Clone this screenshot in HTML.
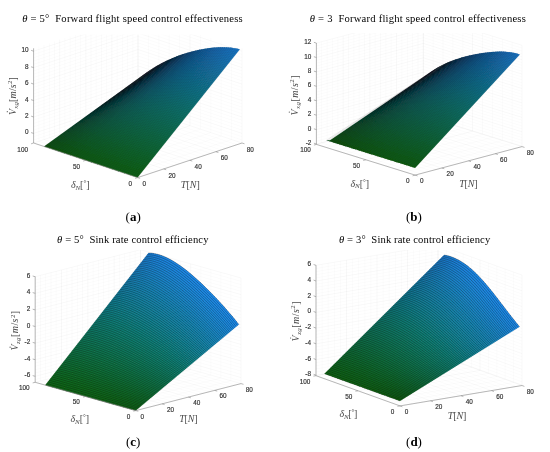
<!DOCTYPE html>
<html><head><meta charset="utf-8"><title>Figure</title>
<style>
html,body{margin:0;padding:0;background:#fff}
svg{display:block}
.tk text{font-family:"Liberation Sans",Arial,sans-serif;font-size:7.8px;fill:#333;stroke:#333;stroke-width:.2px}
.lb{font-family:"Liberation Serif","DejaVu Serif",serif;font-size:10px;fill:#4a4a4a}
.it{font-style:italic}
.ti{font-family:"Liberation Serif","DejaVu Serif",serif;font-size:10.6px;fill:#000}
.cp{font-family:"Liberation Serif","DejaVu Serif",serif;font-size:13px;fill:#000}
</style></head><body>
<svg width="550" height="452" viewBox="0 0 550 452">
<defs><filter id="bl" x="-5%" y="-5%" width="110%" height="110%"><feGaussianBlur stdDeviation="0.35"/></filter></defs>
<rect width="550" height="452" fill="#fff"/>
<clipPath id="cla"><rect x="3.1" y="34.5" width="269.4" height="300"/></clipPath>
<g clip-path="url(#cla)" fill="none"><path d="M33.6 140L138 105.4L242 140M33.6 136.7L138 102.1L242 136.7M33.6 130.1L138 95.5L242 130.1M33.6 126.8L138 92.2L242 126.8M33.6 123.5L138 88.9L242 123.5M33.6 120.2L138 85.6L242 120.2M33.6 113.7L138 79.1L242 113.7M33.6 110.4L138 75.8L242 110.4M33.6 107.1L138 72.5L242 107.1M33.6 103.8L138 69.2L242 103.8M33.6 97.2L138 62.6L242 97.2M33.6 93.9L138 59.3L242 93.9M33.6 90.6L138 56L242 90.6M33.6 87.3L138 52.7L242 87.3M33.6 80.8L138 46.2L242 80.8M33.6 77.5L138 42.9L242 77.5M33.6 74.2L138 39.6L242 74.2M33.6 70.9L138 36.3L242 70.9M33.6 64.3L138 29.7L242 64.3M33.6 61L138 26.4L242 61M33.6 57.7L138 23.1L242 57.7M33.6 54.4L138 19.8L242 54.4M38.8 46.6L38.8 141.3L142.8 175.9M44 44.8L44 139.5L148 174.1M49.3 43.1L49.3 137.8L153.3 172.4M54.5 41.4L54.5 136.1L158.5 170.7M64.9 37.9L64.9 132.6L168.9 167.2M70.1 36.2L70.1 130.9L174.1 165.5M75.4 34.5L75.4 129.2L179.4 163.8M80.6 32.7L80.6 127.4L184.6 162M91 29.3L91 124L195 158.6M96.2 27.5L96.2 122.2L200.2 156.8M101.5 25.8L101.5 120.5L205.5 155.1M106.7 24.1L106.7 118.8L210.7 153.4M117.1 20.6L117.1 115.3L221.1 149.9M122.3 18.9L122.3 113.6L226.3 148.2M127.6 17.2L127.6 111.9L231.6 146.5M132.8 15.4L132.8 110.1L236.8 144.7M231.6 44.8L231.6 139.5L127.2 174.1M221.2 41.4L221.2 136.1L116.8 170.7M210.8 37.9L210.8 132.6L106.4 167.2M200.4 34.5L200.4 129.2L96 163.8M179.6 27.5L179.6 122.2L75.2 156.8M169.2 24.1L169.2 118.8L64.8 153.4M158.8 20.6L158.8 115.3L54.4 149.9M148.4 17.2L148.4 111.9L44 146.5" stroke="#000" stroke-opacity=".03" stroke-width=".5"/><path d="M33.6 133.4L138 98.8L242 133.4M33.6 117L138 82.4L242 117M33.6 100.5L138 65.9L242 100.5M33.6 84.1L138 49.5L242 84.1M33.6 67.6L138 33L242 67.6M33.6 51.2L138 16.6L242 51.2M33.6 48.3L33.6 143L137.6 177.6M59.7 39.6L59.7 134.3L163.7 168.9M85.8 31L85.8 125.7L189.8 160.3M111.9 22.4L111.9 117.1L215.9 151.7M138 13.7L138 108.4L242 143M242 48.3L242 143L137.6 177.6M190 31L190 125.7L85.6 160.3M138 13.7L138 108.4L33.6 143" stroke="#000" stroke-opacity=".055" stroke-width=".5"/></g>
<defs><linearGradient id="ga0" gradientUnits="userSpaceOnUse" x1="136.6" y1="177.3" x2="238.9" y2="49"><stop offset="0" stop-color="#105e13"/><stop offset="0.125" stop-color="#106228"/><stop offset="0.25" stop-color="#10673e"/><stop offset="0.375" stop-color="#106b54"/><stop offset="0.5" stop-color="#107068"/><stop offset="0.625" stop-color="#127180"/><stop offset="0.75" stop-color="#147196"/><stop offset="0.875" stop-color="#1772ad"/><stop offset="1" stop-color="#1a73c4"/></linearGradient><linearGradient id="ga1" gradientUnits="userSpaceOnUse" x1="134.5" y1="176.6" x2="236.8" y2="48.6"><stop offset="0" stop-color="#105e13"/><stop offset="0.125" stop-color="#106228"/><stop offset="0.25" stop-color="#10663d"/><stop offset="0.375" stop-color="#106b53"/><stop offset="0.5" stop-color="#106f68"/><stop offset="0.625" stop-color="#12707f"/><stop offset="0.75" stop-color="#147095"/><stop offset="0.875" stop-color="#1771ab"/><stop offset="1" stop-color="#1972c2"/></linearGradient><linearGradient id="ga2" gradientUnits="userSpaceOnUse" x1="132.4" y1="175.9" x2="234.7" y2="48.2"><stop offset="0" stop-color="#105e13"/><stop offset="0.125" stop-color="#106228"/><stop offset="0.25" stop-color="#10663d"/><stop offset="0.375" stop-color="#106a53"/><stop offset="0.5" stop-color="#106f68"/><stop offset="0.625" stop-color="#12707e"/><stop offset="0.75" stop-color="#147094"/><stop offset="0.875" stop-color="#1770aa"/><stop offset="1" stop-color="#1971c0"/></linearGradient><linearGradient id="ga3" gradientUnits="userSpaceOnUse" x1="130.3" y1="175.2" x2="232.6" y2="47.9"><stop offset="0" stop-color="#105e13"/><stop offset="0.125" stop-color="#106228"/><stop offset="0.25" stop-color="#10663d"/><stop offset="0.375" stop-color="#106a53"/><stop offset="0.5" stop-color="#0f6e67"/><stop offset="0.625" stop-color="#126f7d"/><stop offset="0.75" stop-color="#146f93"/><stop offset="0.875" stop-color="#176fa8"/><stop offset="1" stop-color="#196fbd"/></linearGradient><linearGradient id="ga4" gradientUnits="userSpaceOnUse" x1="128.2" y1="174.5" x2="230.6" y2="47.6"><stop offset="0" stop-color="#105e13"/><stop offset="0.125" stop-color="#106228"/><stop offset="0.25" stop-color="#10663d"/><stop offset="0.375" stop-color="#106a52"/><stop offset="0.5" stop-color="#0f6d67"/><stop offset="0.625" stop-color="#126e7d"/><stop offset="0.75" stop-color="#146e92"/><stop offset="0.875" stop-color="#176ea7"/><stop offset="1" stop-color="#196ebb"/></linearGradient><linearGradient id="ga5" gradientUnits="userSpaceOnUse" x1="126.2" y1="173.8" x2="228.5" y2="47.5"><stop offset="0" stop-color="#105d13"/><stop offset="0.125" stop-color="#106228"/><stop offset="0.25" stop-color="#10653d"/><stop offset="0.375" stop-color="#0f6952"/><stop offset="0.5" stop-color="#0f6d66"/><stop offset="0.625" stop-color="#116d7c"/><stop offset="0.75" stop-color="#146d90"/><stop offset="0.875" stop-color="#166ca5"/><stop offset="1" stop-color="#186db9"/></linearGradient><linearGradient id="ga6" gradientUnits="userSpaceOnUse" x1="124.1" y1="173.1" x2="226.4" y2="47.3"><stop offset="0" stop-color="#105d13"/><stop offset="0.125" stop-color="#106128"/><stop offset="0.25" stop-color="#10653d"/><stop offset="0.375" stop-color="#0f6952"/><stop offset="0.5" stop-color="#0f6c66"/><stop offset="0.625" stop-color="#116d7b"/><stop offset="0.75" stop-color="#136c8f"/><stop offset="0.875" stop-color="#166ba3"/><stop offset="1" stop-color="#186bb7"/></linearGradient><linearGradient id="ga7" gradientUnits="userSpaceOnUse" x1="122" y1="172.4" x2="224.3" y2="47.2"><stop offset="0" stop-color="#105d13"/><stop offset="0.125" stop-color="#106128"/><stop offset="0.25" stop-color="#10653d"/><stop offset="0.375" stop-color="#0f6851"/><stop offset="0.5" stop-color="#0f6c65"/><stop offset="0.625" stop-color="#116c7a"/><stop offset="0.75" stop-color="#136b8e"/><stop offset="0.875" stop-color="#166aa1"/><stop offset="1" stop-color="#186ab4"/></linearGradient><linearGradient id="ga8" gradientUnits="userSpaceOnUse" x1="119.9" y1="171.7" x2="222.2" y2="47.2"><stop offset="0" stop-color="#105d13"/><stop offset="0.125" stop-color="#106128"/><stop offset="0.25" stop-color="#0f653c"/><stop offset="0.375" stop-color="#0f6851"/><stop offset="0.5" stop-color="#0f6b64"/><stop offset="0.625" stop-color="#116b79"/><stop offset="0.75" stop-color="#136a8d"/><stop offset="0.875" stop-color="#1669a0"/><stop offset="1" stop-color="#1768b1"/></linearGradient><linearGradient id="ga9" gradientUnits="userSpaceOnUse" x1="117.8" y1="171" x2="220.2" y2="47.2"><stop offset="0" stop-color="#105d13"/><stop offset="0.125" stop-color="#106128"/><stop offset="0.25" stop-color="#0f643c"/><stop offset="0.375" stop-color="#0f6851"/><stop offset="0.5" stop-color="#0f6b64"/><stop offset="0.625" stop-color="#116a78"/><stop offset="0.75" stop-color="#13698b"/><stop offset="0.875" stop-color="#15689e"/><stop offset="1" stop-color="#1767af"/></linearGradient><linearGradient id="ga10" gradientUnits="userSpaceOnUse" x1="115.8" y1="170.3" x2="218.1" y2="47.3"><stop offset="0" stop-color="#105d13"/><stop offset="0.125" stop-color="#106128"/><stop offset="0.25" stop-color="#0f643c"/><stop offset="0.375" stop-color="#0f6750"/><stop offset="0.5" stop-color="#0f6a63"/><stop offset="0.625" stop-color="#116a77"/><stop offset="0.75" stop-color="#13688a"/><stop offset="0.875" stop-color="#15669c"/><stop offset="1" stop-color="#1765ac"/></linearGradient><linearGradient id="ga11" gradientUnits="userSpaceOnUse" x1="113.7" y1="169.6" x2="216" y2="47.4"><stop offset="0" stop-color="#105d13"/><stop offset="0.125" stop-color="#106028"/><stop offset="0.25" stop-color="#0f643c"/><stop offset="0.375" stop-color="#0f6750"/><stop offset="0.5" stop-color="#0f6963"/><stop offset="0.625" stop-color="#116976"/><stop offset="0.75" stop-color="#126788"/><stop offset="0.875" stop-color="#15659a"/><stop offset="1" stop-color="#1663a9"/></linearGradient><linearGradient id="ga12" gradientUnits="userSpaceOnUse" x1="111.6" y1="168.9" x2="213.9" y2="47.6"><stop offset="0" stop-color="#105d13"/><stop offset="0.125" stop-color="#0f6028"/><stop offset="0.25" stop-color="#0f633c"/><stop offset="0.375" stop-color="#0f6650"/><stop offset="0.5" stop-color="#0f6962"/><stop offset="0.625" stop-color="#116876"/><stop offset="0.75" stop-color="#126687"/><stop offset="0.875" stop-color="#146497"/><stop offset="1" stop-color="#1661a6"/></linearGradient><linearGradient id="ga13" gradientUnits="userSpaceOnUse" x1="109.5" y1="168.3" x2="211.8" y2="47.8"><stop offset="0" stop-color="#105c13"/><stop offset="0.125" stop-color="#0f6027"/><stop offset="0.25" stop-color="#0f633b"/><stop offset="0.375" stop-color="#0f664f"/><stop offset="0.5" stop-color="#0f6861"/><stop offset="0.625" stop-color="#106775"/><stop offset="0.75" stop-color="#126585"/><stop offset="0.875" stop-color="#146295"/><stop offset="1" stop-color="#1560a3"/></linearGradient><linearGradient id="ga14" gradientUnits="userSpaceOnUse" x1="107.4" y1="167.6" x2="209.8" y2="48"><stop offset="0" stop-color="#105c13"/><stop offset="0.125" stop-color="#0f6027"/><stop offset="0.25" stop-color="#0f633b"/><stop offset="0.375" stop-color="#0f654f"/><stop offset="0.5" stop-color="#0f6761"/><stop offset="0.625" stop-color="#106673"/><stop offset="0.75" stop-color="#126484"/><stop offset="0.875" stop-color="#146193"/><stop offset="1" stop-color="#155ea0"/></linearGradient><linearGradient id="ga15" gradientUnits="userSpaceOnUse" x1="105.4" y1="166.9" x2="207.7" y2="48.3"><stop offset="0" stop-color="#105c13"/><stop offset="0.125" stop-color="#0f5f27"/><stop offset="0.25" stop-color="#0f623b"/><stop offset="0.375" stop-color="#0f654e"/><stop offset="0.5" stop-color="#0e6760"/><stop offset="0.625" stop-color="#106572"/><stop offset="0.75" stop-color="#126282"/><stop offset="0.875" stop-color="#145f91"/><stop offset="1" stop-color="#145c9c"/></linearGradient><linearGradient id="ga16" gradientUnits="userSpaceOnUse" x1="103.3" y1="166.2" x2="205.6" y2="48.6"><stop offset="0" stop-color="#105c13"/><stop offset="0.125" stop-color="#0f5f27"/><stop offset="0.25" stop-color="#0f623b"/><stop offset="0.375" stop-color="#0f644e"/><stop offset="0.5" stop-color="#0e665f"/><stop offset="0.625" stop-color="#106471"/><stop offset="0.75" stop-color="#116181"/><stop offset="0.875" stop-color="#135d8e"/><stop offset="1" stop-color="#145a99"/></linearGradient><linearGradient id="ga17" gradientUnits="userSpaceOnUse" x1="101.2" y1="165.5" x2="203.5" y2="49"><stop offset="0" stop-color="#105c13"/><stop offset="0.125" stop-color="#0f5f27"/><stop offset="0.25" stop-color="#0f613a"/><stop offset="0.375" stop-color="#0f644e"/><stop offset="0.5" stop-color="#0e655f"/><stop offset="0.625" stop-color="#106370"/><stop offset="0.75" stop-color="#11607f"/><stop offset="0.875" stop-color="#135c8c"/><stop offset="1" stop-color="#145895"/></linearGradient><linearGradient id="ga18" gradientUnits="userSpaceOnUse" x1="99.1" y1="164.8" x2="201.4" y2="49.3"><stop offset="0" stop-color="#105b13"/><stop offset="0.125" stop-color="#0f5e27"/><stop offset="0.25" stop-color="#0f613a"/><stop offset="0.375" stop-color="#0f634d"/><stop offset="0.5" stop-color="#0e645e"/><stop offset="0.625" stop-color="#10626f"/><stop offset="0.75" stop-color="#115e7d"/><stop offset="0.875" stop-color="#135a89"/><stop offset="1" stop-color="#135591"/></linearGradient><linearGradient id="ga19" gradientUnits="userSpaceOnUse" x1="97" y1="164.1" x2="199.4" y2="49.8"><stop offset="0" stop-color="#0f5b13"/><stop offset="0.125" stop-color="#0f5e27"/><stop offset="0.25" stop-color="#0f613a"/><stop offset="0.375" stop-color="#0e624d"/><stop offset="0.5" stop-color="#0e635d"/><stop offset="0.625" stop-color="#0f616e"/><stop offset="0.75" stop-color="#115d7b"/><stop offset="0.875" stop-color="#125886"/><stop offset="1" stop-color="#13538d"/></linearGradient><linearGradient id="ga20" gradientUnits="userSpaceOnUse" x1="95" y1="163.4" x2="197.3" y2="50.2"><stop offset="0" stop-color="#0f5b13"/><stop offset="0.125" stop-color="#0f5e27"/><stop offset="0.25" stop-color="#0f603a"/><stop offset="0.375" stop-color="#0e624c"/><stop offset="0.5" stop-color="#0e635c"/><stop offset="0.625" stop-color="#0f606c"/><stop offset="0.75" stop-color="#105b79"/><stop offset="0.875" stop-color="#125683"/><stop offset="1" stop-color="#125189"/></linearGradient><linearGradient id="ga21" gradientUnits="userSpaceOnUse" x1="92.9" y1="162.7" x2="195.2" y2="50.7"><stop offset="0" stop-color="#0f5b12"/><stop offset="0.125" stop-color="#0f5d26"/><stop offset="0.25" stop-color="#0f6039"/><stop offset="0.375" stop-color="#0e614c"/><stop offset="0.5" stop-color="#0e625b"/><stop offset="0.625" stop-color="#0f5f6b"/><stop offset="0.75" stop-color="#105a77"/><stop offset="0.875" stop-color="#115480"/><stop offset="1" stop-color="#114e85"/></linearGradient><linearGradient id="ga22" gradientUnits="userSpaceOnUse" x1="90.8" y1="162" x2="193.1" y2="51.2"><stop offset="0" stop-color="#0f5b12"/><stop offset="0.125" stop-color="#0f5d26"/><stop offset="0.25" stop-color="#0f5f39"/><stop offset="0.375" stop-color="#0e604b"/><stop offset="0.5" stop-color="#0e615b"/><stop offset="0.625" stop-color="#0f5d6a"/><stop offset="0.75" stop-color="#105875"/><stop offset="0.875" stop-color="#11527d"/><stop offset="1" stop-color="#114b80"/></linearGradient><linearGradient id="ga23" gradientUnits="userSpaceOnUse" x1="88.7" y1="161.3" x2="191" y2="51.7"><stop offset="0" stop-color="#0f5a12"/><stop offset="0.125" stop-color="#0f5d26"/><stop offset="0.25" stop-color="#0f5f39"/><stop offset="0.375" stop-color="#0e604b"/><stop offset="0.5" stop-color="#0d605a"/><stop offset="0.625" stop-color="#0f5c68"/><stop offset="0.75" stop-color="#0f5672"/><stop offset="0.875" stop-color="#105079"/><stop offset="1" stop-color="#10487b"/></linearGradient><linearGradient id="ga24" gradientUnits="userSpaceOnUse" x1="86.6" y1="160.6" x2="189" y2="52.3"><stop offset="0" stop-color="#0f5a12"/><stop offset="0.125" stop-color="#0f5c26"/><stop offset="0.25" stop-color="#0e5e38"/><stop offset="0.375" stop-color="#0e5f4a"/><stop offset="0.5" stop-color="#0d5f59"/><stop offset="0.625" stop-color="#0e5a66"/><stop offset="0.75" stop-color="#0f5470"/><stop offset="0.875" stop-color="#104d75"/><stop offset="1" stop-color="#0f4576"/></linearGradient><linearGradient id="ga25" gradientUnits="userSpaceOnUse" x1="84.6" y1="160" x2="186.9" y2="52.9"><stop offset="0" stop-color="#0f5a12"/><stop offset="0.125" stop-color="#0f5c26"/><stop offset="0.25" stop-color="#0e5d38"/><stop offset="0.375" stop-color="#0e5e49"/><stop offset="0.5" stop-color="#0d5d57"/><stop offset="0.625" stop-color="#0e5965"/><stop offset="0.75" stop-color="#0f526d"/><stop offset="0.875" stop-color="#0f4b71"/><stop offset="1" stop-color="#0f4270"/></linearGradient><linearGradient id="ga26" gradientUnits="userSpaceOnUse" x1="82.5" y1="159.3" x2="184.8" y2="53.6"><stop offset="0" stop-color="#0f5912"/><stop offset="0.125" stop-color="#0f5c26"/><stop offset="0.25" stop-color="#0e5d38"/><stop offset="0.375" stop-color="#0e5d49"/><stop offset="0.5" stop-color="#0d5c56"/><stop offset="0.625" stop-color="#0e5763"/><stop offset="0.75" stop-color="#0e506a"/><stop offset="0.875" stop-color="#0f486d"/><stop offset="1" stop-color="#0e3e6a"/></linearGradient><linearGradient id="ga27" gradientUnits="userSpaceOnUse" x1="80.4" y1="158.6" x2="182.7" y2="54.3"><stop offset="0" stop-color="#0f5912"/><stop offset="0.125" stop-color="#0f5b25"/><stop offset="0.25" stop-color="#0e5c37"/><stop offset="0.375" stop-color="#0e5c48"/><stop offset="0.5" stop-color="#0d5b55"/><stop offset="0.625" stop-color="#0e5561"/><stop offset="0.75" stop-color="#0e4e67"/><stop offset="0.875" stop-color="#0e4569"/><stop offset="1" stop-color="#0d3b64"/></linearGradient><linearGradient id="ga28" gradientUnits="userSpaceOnUse" x1="78.3" y1="157.9" x2="180.6" y2="55"><stop offset="0" stop-color="#0f5912"/><stop offset="0.125" stop-color="#0f5b25"/><stop offset="0.25" stop-color="#0e5b37"/><stop offset="0.375" stop-color="#0d5b47"/><stop offset="0.5" stop-color="#0d5954"/><stop offset="0.625" stop-color="#0d545f"/><stop offset="0.75" stop-color="#0e4b64"/><stop offset="0.875" stop-color="#0d4264"/><stop offset="1" stop-color="#0c375d"/></linearGradient><linearGradient id="ga29" gradientUnits="userSpaceOnUse" x1="76.2" y1="157.2" x2="178.6" y2="55.7"><stop offset="0" stop-color="#0f5812"/><stop offset="0.125" stop-color="#0f5a25"/><stop offset="0.25" stop-color="#0e5b36"/><stop offset="0.375" stop-color="#0d5a46"/><stop offset="0.5" stop-color="#0c5852"/><stop offset="0.625" stop-color="#0d515c"/><stop offset="0.75" stop-color="#0d4960"/><stop offset="0.875" stop-color="#0d3e5e"/><stop offset="1" stop-color="#0b3356"/></linearGradient><linearGradient id="ga30" gradientUnits="userSpaceOnUse" x1="74.2" y1="156.5" x2="176.5" y2="56.5"><stop offset="0" stop-color="#0f5812"/><stop offset="0.125" stop-color="#0e5a25"/><stop offset="0.25" stop-color="#0e5a36"/><stop offset="0.375" stop-color="#0d5945"/><stop offset="0.5" stop-color="#0c5651"/><stop offset="0.625" stop-color="#0d4f5a"/><stop offset="0.75" stop-color="#0d465c"/><stop offset="0.875" stop-color="#0c3a59"/><stop offset="1" stop-color="#0a2e4f"/></linearGradient><linearGradient id="ga31" gradientUnits="userSpaceOnUse" x1="72.1" y1="155.8" x2="174.4" y2="57.3"><stop offset="0" stop-color="#0f5812"/><stop offset="0.125" stop-color="#0e5925"/><stop offset="0.25" stop-color="#0e5935"/><stop offset="0.375" stop-color="#0d5844"/><stop offset="0.5" stop-color="#0c554f"/><stop offset="0.625" stop-color="#0c4d57"/><stop offset="0.75" stop-color="#0c4358"/><stop offset="0.875" stop-color="#0b3753"/><stop offset="1" stop-color="#092a47"/></linearGradient><linearGradient id="ga32" gradientUnits="userSpaceOnUse" x1="70" y1="155.1" x2="172.3" y2="58.2"><stop offset="0" stop-color="#0f5712"/><stop offset="0.125" stop-color="#0e5824"/><stop offset="0.25" stop-color="#0e5835"/><stop offset="0.375" stop-color="#0d5643"/><stop offset="0.5" stop-color="#0c534d"/><stop offset="0.625" stop-color="#0c4a54"/><stop offset="0.75" stop-color="#0b3f54"/><stop offset="0.875" stop-color="#0a324d"/><stop offset="1" stop-color="#082640"/></linearGradient><linearGradient id="ga33" gradientUnits="userSpaceOnUse" x1="67.9" y1="154.4" x2="170.2" y2="59.1"><stop offset="0" stop-color="#0f5712"/><stop offset="0.125" stop-color="#0e5824"/><stop offset="0.25" stop-color="#0d5734"/><stop offset="0.375" stop-color="#0d5542"/><stop offset="0.5" stop-color="#0b514c"/><stop offset="0.625" stop-color="#0b4751"/><stop offset="0.75" stop-color="#0b3c4f"/><stop offset="0.875" stop-color="#092e46"/><stop offset="1" stop-color="#082239"/></linearGradient><linearGradient id="ga34" gradientUnits="userSpaceOnUse" x1="65.8" y1="153.7" x2="168.2" y2="60.1"><stop offset="0" stop-color="#0f5612"/><stop offset="0.125" stop-color="#0e5724"/><stop offset="0.25" stop-color="#0d5634"/><stop offset="0.375" stop-color="#0c5441"/><stop offset="0.5" stop-color="#0b4e49"/><stop offset="0.625" stop-color="#0b444e"/><stop offset="0.75" stop-color="#0a384a"/><stop offset="0.875" stop-color="#092a40"/><stop offset="1" stop-color="#071e33"/></linearGradient><linearGradient id="ga35" gradientUnits="userSpaceOnUse" x1="63.8" y1="153" x2="166.1" y2="61"><stop offset="0" stop-color="#0f5611"/><stop offset="0.125" stop-color="#0e5623"/><stop offset="0.25" stop-color="#0d5533"/><stop offset="0.375" stop-color="#0c5240"/><stop offset="0.5" stop-color="#0b4c47"/><stop offset="0.625" stop-color="#0a414a"/><stop offset="0.75" stop-color="#093444"/><stop offset="0.875" stop-color="#082639"/><stop offset="1" stop-color="#061b2e"/></linearGradient><linearGradient id="ga36" gradientUnits="userSpaceOnUse" x1="61.7" y1="152.3" x2="164" y2="62.1"><stop offset="0" stop-color="#0e5511"/><stop offset="0.125" stop-color="#0e5523"/><stop offset="0.25" stop-color="#0d5432"/><stop offset="0.375" stop-color="#0c503e"/><stop offset="0.5" stop-color="#0a4945"/><stop offset="0.625" stop-color="#0a3e46"/><stop offset="0.75" stop-color="#092f3f"/><stop offset="0.875" stop-color="#072133"/><stop offset="1" stop-color="#05192a"/></linearGradient><linearGradient id="ga37" gradientUnits="userSpaceOnUse" x1="59.6" y1="151.7" x2="161.9" y2="63.2"><stop offset="0" stop-color="#0e5511"/><stop offset="0.125" stop-color="#0e5523"/><stop offset="0.25" stop-color="#0d5332"/><stop offset="0.375" stop-color="#0c4e3d"/><stop offset="0.5" stop-color="#0a4742"/><stop offset="0.625" stop-color="#093a42"/><stop offset="0.75" stop-color="#082b39"/><stop offset="0.875" stop-color="#061e2d"/><stop offset="1" stop-color="#051727"/></linearGradient><linearGradient id="ga38" gradientUnits="userSpaceOnUse" x1="57.5" y1="151" x2="159.8" y2="64.3"><stop offset="0" stop-color="#0e5411"/><stop offset="0.125" stop-color="#0d5422"/><stop offset="0.25" stop-color="#0d5131"/><stop offset="0.375" stop-color="#0b4c3b"/><stop offset="0.5" stop-color="#0a443f"/><stop offset="0.625" stop-color="#09363d"/><stop offset="0.75" stop-color="#072733"/><stop offset="0.875" stop-color="#051b28"/><stop offset="1" stop-color="#051626"/></linearGradient><linearGradient id="ga39" gradientUnits="userSpaceOnUse" x1="55.4" y1="150.3" x2="157.8" y2="65.5"><stop offset="0" stop-color="#0e5311"/><stop offset="0.125" stop-color="#0d5322"/><stop offset="0.25" stop-color="#0c5030"/><stop offset="0.375" stop-color="#0b4a3a"/><stop offset="0.5" stop-color="#09403c"/><stop offset="0.625" stop-color="#083238"/><stop offset="0.75" stop-color="#06222e"/><stop offset="0.875" stop-color="#051825"/><stop offset="1" stop-color="#051626"/></linearGradient><linearGradient id="ga40" gradientUnits="userSpaceOnUse" x1="53.4" y1="149.6" x2="155.7" y2="66.7"><stop offset="0" stop-color="#0e5311"/><stop offset="0.125" stop-color="#0d5222"/><stop offset="0.25" stop-color="#0c4e2f"/><stop offset="0.375" stop-color="#0b4838"/><stop offset="0.5" stop-color="#093d39"/><stop offset="0.625" stop-color="#072d34"/><stop offset="0.75" stop-color="#051f28"/><stop offset="0.875" stop-color="#051723"/><stop offset="1" stop-color="#051626"/></linearGradient><linearGradient id="ga41" gradientUnits="userSpaceOnUse" x1="51.3" y1="148.9" x2="153.6" y2="67.9"><stop offset="0" stop-color="#0e5211"/><stop offset="0.125" stop-color="#0d5121"/><stop offset="0.25" stop-color="#0c4d2e"/><stop offset="0.375" stop-color="#0a4536"/><stop offset="0.5" stop-color="#083936"/><stop offset="0.625" stop-color="#07292f"/><stop offset="0.75" stop-color="#051b24"/><stop offset="0.875" stop-color="#051622"/><stop offset="1" stop-color="#051626"/></linearGradient><linearGradient id="ga42" gradientUnits="userSpaceOnUse" x1="49.2" y1="148.2" x2="151.5" y2="69.3"><stop offset="0" stop-color="#0e5111"/><stop offset="0.125" stop-color="#0d4f21"/><stop offset="0.25" stop-color="#0b4b2d"/><stop offset="0.375" stop-color="#0a4234"/><stop offset="0.5" stop-color="#083532"/><stop offset="0.625" stop-color="#06252a"/><stop offset="0.75" stop-color="#041921"/><stop offset="0.875" stop-color="#051621"/><stop offset="1" stop-color="#051626"/></linearGradient><linearGradient id="ga43" gradientUnits="userSpaceOnUse" x1="47.1" y1="147.5" x2="149.4" y2="70.6"><stop offset="0" stop-color="#0e5010"/><stop offset="0.125" stop-color="#0d4e20"/><stop offset="0.25" stop-color="#0b492c"/><stop offset="0.375" stop-color="#093f31"/><stop offset="0.5" stop-color="#07312e"/><stop offset="0.625" stop-color="#052125"/><stop offset="0.75" stop-color="#04171e"/><stop offset="0.875" stop-color="#051621"/><stop offset="1" stop-color="#051626"/></linearGradient><linearGradient id="ga44" gradientUnits="userSpaceOnUse" x1="45" y1="146.8" x2="147.4" y2="72.1"><stop offset="0" stop-color="#0d4f10"/><stop offset="0.125" stop-color="#0c4d20"/><stop offset="0.25" stop-color="#0b472a"/><stop offset="0.375" stop-color="#093c2f"/><stop offset="0.5" stop-color="#062d2a"/><stop offset="0.625" stop-color="#051d21"/><stop offset="0.75" stop-color="#04161d"/><stop offset="0.875" stop-color="#051621"/><stop offset="1" stop-color="#051626"/></linearGradient></defs>
<g filter="url(#bl)"><path d="M137.6 177.6L239.9 49.3L236.6 48.5L134.3 176.5Z" fill="url(#ga0)"/><path d="M135.5 176.9L237.8 48.8L234.5 48.2L132.2 175.8Z" fill="url(#ga1)"/><path d="M133.4 176.2L235.8 48.4L232.4 47.9L130.1 175.1Z" fill="url(#ga2)"/><path d="M131.4 175.5L233.7 48L230.3 47.6L128 174.4Z" fill="url(#ga3)"/><path d="M129.3 174.8L231.6 47.8L228.3 47.4L126 173.7Z" fill="url(#ga4)"/><path d="M127.2 174.1L229.5 47.5L226.2 47.3L123.9 173Z" fill="url(#ga5)"/><path d="M125.1 173.4L227.4 47.4L224.1 47.2L121.8 172.3Z" fill="url(#ga6)"/><path d="M123 172.8L225.4 47.3L222 47.2L119.7 171.6Z" fill="url(#ga7)"/><path d="M121 172.1L223.3 47.2L219.9 47.3L117.6 171Z" fill="url(#ga8)"/><path d="M118.9 171.4L221.2 47.2L217.9 47.3L115.6 170.3Z" fill="url(#ga9)"/><path d="M116.8 170.7L219.1 47.3L215.8 47.4L113.5 169.6Z" fill="url(#ga10)"/><path d="M114.7 170L217 47.4L213.7 47.6L111.4 168.9Z" fill="url(#ga11)"/><path d="M112.6 169.3L215 47.5L211.6 47.8L109.3 168.2Z" fill="url(#ga12)"/><path d="M110.6 168.6L212.9 47.7L209.5 48.1L107.2 167.5Z" fill="url(#ga13)"/><path d="M108.5 167.9L210.8 47.9L207.5 48.3L105.2 166.8Z" fill="url(#ga14)"/><path d="M106.4 167.2L208.7 48.2L205.4 48.7L103.1 166.1Z" fill="url(#ga15)"/><path d="M104.3 166.5L206.6 48.5L203.3 49L101 165.4Z" fill="url(#ga16)"/><path d="M102.2 165.8L204.6 48.8L201.2 49.4L98.9 164.7Z" fill="url(#ga17)"/><path d="M100.2 165.1L202.5 49.2L199.1 49.8L96.8 164Z" fill="url(#ga18)"/><path d="M98.1 164.5L200.4 49.5L197.1 50.3L94.8 163.3Z" fill="url(#ga19)"/><path d="M96 163.8L198.3 50L195 50.7L92.7 162.7Z" fill="url(#ga20)"/><path d="M93.9 163.1L196.2 50.4L192.9 51.3L90.6 162Z" fill="url(#ga21)"/><path d="M91.8 162.4L194.2 50.9L190.8 51.8L88.5 161.3Z" fill="url(#ga22)"/><path d="M89.8 161.7L192.1 51.5L188.7 52.4L86.4 160.6Z" fill="url(#ga23)"/><path d="M87.7 161L190 52L186.7 53L84.4 159.9Z" fill="url(#ga24)"/><path d="M85.6 160.3L187.9 52.6L184.6 53.7L82.3 159.2Z" fill="url(#ga25)"/><path d="M83.5 159.6L185.8 53.3L182.5 54.3L80.2 158.5Z" fill="url(#ga26)"/><path d="M81.4 158.9L183.8 53.9L180.4 55.1L78.1 157.8Z" fill="url(#ga27)"/><path d="M79.4 158.2L181.7 54.6L178.3 55.8L76 157.1Z" fill="url(#ga28)"/><path d="M77.3 157.5L179.6 55.3L176.3 56.6L74 156.4Z" fill="url(#ga29)"/><path d="M75.2 156.8L177.5 56.1L174.2 57.4L71.9 155.7Z" fill="url(#ga30)"/><path d="M73.1 156.1L175.4 56.9L172.1 58.3L69.8 155Z" fill="url(#ga31)"/><path d="M71 155.5L173.4 57.8L170 59.2L67.7 154.3Z" fill="url(#ga32)"/><path d="M69 154.8L171.3 58.7L167.9 60.2L65.6 153.7Z" fill="url(#ga33)"/><path d="M66.9 154.1L169.2 59.6L165.9 61.1L63.6 153Z" fill="url(#ga34)"/><path d="M64.8 153.4L167.1 60.5L163.8 62.2L61.5 152.3Z" fill="url(#ga35)"/><path d="M62.7 152.7L165 61.6L161.7 63.3L59.4 151.6Z" fill="url(#ga36)"/><path d="M60.6 152L163 62.6L159.6 64.4L57.3 150.9Z" fill="url(#ga37)"/><path d="M58.6 151.3L160.9 63.7L157.5 65.6L55.2 150.2Z" fill="url(#ga38)"/><path d="M56.5 150.6L158.8 64.9L155.5 66.8L53.2 149.5Z" fill="url(#ga39)"/><path d="M54.4 149.9L156.7 66.1L153.4 68.1L51.1 148.8Z" fill="url(#ga40)"/><path d="M52.3 149.2L154.6 67.3L151.3 69.4L49 148.1Z" fill="url(#ga41)"/><path d="M50.2 148.5L152.6 68.6L149.2 70.8L46.9 147.4Z" fill="url(#ga42)"/><path d="M48.2 147.8L150.5 69.9L147.1 72.2L44.8 146.7Z" fill="url(#ga43)"/><path d="M46.1 147.2L148.4 71.3L146.3 72.8L44 146.5Z" fill="url(#ga44)"/>
<path d="M137.6 177.6L44 146.5M138.9 176L135.8 175L132.6 173.9L129.5 172.9L126.4 171.9L123.3 170.8L120.2 169.8L117 168.8L113.9 167.8L110.8 166.8L107.7 165.7L104.6 164.7L101.4 163.7L98.3 162.7L95.2 161.7L92.1 160.6L89 159.6L85.8 158.6L82.7 157.6L79.6 156.6L76.5 155.6L73.4 154.6L70.2 153.6L67.1 152.6L64 151.5L60.9 150.5L57.8 149.5L54.6 148.5L51.5 147.5L48.4 146.5L45.3 145.5M140.2 174.4L137 173.4L133.9 172.3L130.8 171.3L127.7 170.3L124.6 169.3L121.4 168.3L118.3 167.3L115.2 166.3L112.1 165.2L109 164.2L105.8 163.2L102.7 162.2L99.6 161.2L96.5 160.3L93.4 159.3L90.2 158.3L87.1 157.3L84 156.3L80.9 155.3L77.8 154.3L74.6 153.3L71.5 152.4L68.4 151.4L65.3 150.4L62.2 149.4L59 148.5L55.9 147.5L52.8 146.5L49.7 145.6L46.6 144.6M141.4 172.8L138.3 171.8L135.2 170.7L132.1 169.7L129 168.7L125.8 167.7L122.7 166.7L119.6 165.7L116.5 164.7L113.4 163.7L110.2 162.8L107.1 161.8L104 160.8L100.9 159.8L97.8 158.8L94.6 157.9L91.5 156.9L88.4 155.9L85.3 155L82.2 154L79 153.1L75.9 152.1L72.8 151.2L69.7 150.2L66.6 149.3L63.4 148.3L60.3 147.4L57.2 146.5L54.1 145.5L51 144.6L47.8 143.7M142.7 171.2L139.6 170.2L136.5 169.1L133.4 168.1L130.2 167.1L127.1 166.2L124 165.2L120.9 164.2L117.8 163.2L114.6 162.2L111.5 161.3L108.4 160.3L105.3 159.3L102.2 158.4L99 157.4L95.9 156.5L92.8 155.5L89.7 154.6L86.6 153.7L83.4 152.7L80.3 151.8L77.2 150.9L74.1 150L71 149L67.8 148.1L64.7 147.2L61.6 146.3L58.5 145.4L55.4 144.5L52.2 143.7L49.1 142.8M144 169.6L140.9 168.6L137.8 167.6L134.6 166.6L131.5 165.6L128.4 164.6L125.3 163.6L122.2 162.6L119 161.7L115.9 160.7L112.8 159.8L109.7 158.8L106.6 157.9L103.4 157L100.3 156L97.2 155.1L94.1 154.2L91 153.3L87.8 152.4L84.7 151.4L81.6 150.5L78.5 149.6L75.4 148.8L72.2 147.9L69.1 147L66 146.1L62.9 145.3L59.8 144.4L56.6 143.5L53.5 142.7L50.4 141.9M145.3 168L142.2 167L139 166L135.9 165L132.8 164L129.7 163L126.6 162.1L123.4 161.1L120.3 160.2L117.2 159.2L114.1 158.3L111 157.4L107.8 156.4L104.7 155.5L101.6 154.6L98.5 153.7L95.4 152.8L92.2 151.9L89.1 151L86 150.2L82.9 149.3L79.8 148.4L76.6 147.6L73.5 146.7L70.4 145.9L67.3 145L64.2 144.2L61 143.4L57.9 142.5L54.8 141.7L51.7 140.9M146.6 166.4L143.4 165.4L140.3 164.4L137.2 163.4L134.1 162.4L131 161.5L127.8 160.5L124.7 159.6L121.6 158.6L118.5 157.7L115.4 156.8L112.2 155.9L109.1 155L106 154.1L102.9 153.2L99.8 152.3L96.6 151.5L93.5 150.6L90.4 149.7L87.3 148.9L84.2 148L81 147.2L77.9 146.4L74.8 145.5L71.7 144.7L68.6 143.9L65.4 143.1L62.3 142.3L59.2 141.5L56.1 140.8L53 140M147.8 164.8L144.7 163.8L141.6 162.8L138.5 161.8L135.4 160.8L132.2 159.9L129.1 159L126 158L122.9 157.1L119.8 156.2L116.6 155.3L113.5 154.4L110.4 153.5L107.3 152.7L104.2 151.8L101 150.9L97.9 150.1L94.8 149.3L91.7 148.4L88.6 147.6L85.4 146.8L82.3 146L79.2 145.2L76.1 144.4L73 143.6L69.8 142.8L66.7 142L63.6 141.3L60.5 140.5L57.4 139.8L54.2 139.1M149.1 163.2L146 162.2L142.9 161.2L139.8 160.2L136.6 159.3L133.5 158.3L130.4 157.4L127.3 156.5L124.2 155.6L121 154.7L117.9 153.8L114.8 153L111.7 152.1L108.6 151.2L105.4 150.4L102.3 149.6L99.2 148.7L96.1 147.9L93 147.1L89.8 146.3L86.7 145.5L83.6 144.7L80.5 144L77.4 143.2L74.2 142.4L71.1 141.7L68 141L64.9 140.2L61.8 139.5L58.6 138.9L55.5 138.2M150.4 161.6L147.3 160.6L144.1 159.6L141 158.6L137.9 157.7L134.8 156.8L131.7 155.9L128.5 155L125.4 154.1L122.3 153.2L119.2 152.3L116.1 151.5L112.9 150.6L109.8 149.8L106.7 149L103.6 148.2L100.5 147.4L97.3 146.6L94.2 145.8L91.1 145L88 144.2L84.9 143.5L81.7 142.8L78.6 142L75.5 141.3L72.4 140.6L69.3 139.9L66.1 139.2L63 138.5L59.9 137.9L56.8 137.3M151.7 160L148.5 159L145.4 158L142.3 157L139.2 156.1L136.1 155.2L132.9 154.3L129.8 153.4L126.7 152.6L123.6 151.7L120.5 150.8L117.3 150L114.2 149.2L111.1 148.4L108 147.6L104.9 146.8L101.7 146L98.6 145.2L95.5 144.5L92.4 143.7L89.3 143L86.1 142.3L83 141.5L79.9 140.8L76.8 140.2L73.7 139.5L70.5 138.8L67.4 138.2L64.3 137.5L61.2 136.9L58.1 136.3M152.9 158.3L149.8 157.4L146.7 156.4L143.6 155.5L140.5 154.5L137.3 153.6L134.2 152.8L131.1 151.9L128 151L124.9 150.2L121.7 149.4L118.6 148.5L115.5 147.7L112.4 147L109.3 146.2L106.1 145.4L103 144.6L99.9 143.9L96.8 143.2L93.7 142.4L90.5 141.7L87.4 141L84.3 140.3L81.2 139.7L78.1 139L74.9 138.4L71.8 137.7L68.7 137.1L65.6 136.5L62.5 136L59.3 135.4M154.2 156.7L151.1 155.8L148 154.8L144.9 153.9L141.7 153L138.6 152.1L135.5 151.2L132.4 150.3L129.3 149.5L126.1 148.7L123 147.9L119.9 147.1L116.8 146.3L113.7 145.5L110.5 144.8L107.4 144L104.3 143.3L101.2 142.6L98.1 141.9L94.9 141.2L91.8 140.5L88.7 139.8L85.6 139.1L82.5 138.5L79.3 137.9L76.2 137.3L73.1 136.7L70 136.1L66.9 135.5L63.7 135L60.6 134.5M155.5 155.1L152.4 154.2L149.3 153.2L146.1 152.3L143 151.4L139.9 150.5L136.8 149.6L133.7 148.8L130.5 148L127.4 147.2L124.3 146.4L121.2 145.6L118.1 144.8L114.9 144.1L111.8 143.4L108.7 142.6L105.6 141.9L102.5 141.2L99.3 140.5L96.2 139.9L93.1 139.2L90 138.6L86.9 137.9L83.7 137.3L80.6 136.7L77.5 136.2L74.4 135.6L71.3 135.1L68.1 134.5L65 134L61.9 133.6M156.8 153.5L153.7 152.6L150.5 151.6L147.4 150.7L144.3 149.8L141.2 148.9L138.1 148.1L134.9 147.3L131.8 146.5L128.7 145.7L125.6 144.9L122.5 144.1L119.3 143.4L116.2 142.7L113.1 142L110 141.2L106.9 140.6L103.7 139.9L100.6 139.2L97.5 138.6L94.4 138L91.3 137.3L88.1 136.7L85 136.2L81.9 135.6L78.8 135.1L75.7 134.5L72.5 134L69.4 133.5L66.3 133.1L63.2 132.6M158.1 151.9L154.9 151L151.8 150L148.7 149.1L145.6 148.2L142.5 147.4L139.3 146.5L136.2 145.7L133.1 144.9L130 144.2L126.9 143.4L123.7 142.7L120.6 141.9L117.5 141.2L114.4 140.5L111.3 139.9L108.1 139.2L105 138.6L101.9 137.9L98.8 137.3L95.7 136.7L92.5 136.1L89.4 135.5L86.3 135L83.2 134.5L80.1 134L76.9 133.5L73.8 133L70.7 132.5L67.6 132.1L64.5 131.7M159.3 150.3L156.2 149.4L153.1 148.4L150 147.5L146.9 146.7L143.7 145.8L140.6 145L137.5 144.2L134.4 143.4L131.3 142.7L128.1 141.9L125 141.2L121.9 140.5L118.8 139.8L115.7 139.1L112.5 138.5L109.4 137.8L106.3 137.2L103.2 136.6L100.1 136L96.9 135.4L93.8 134.9L90.7 134.3L87.6 133.8L84.5 133.3L81.3 132.8L78.2 132.4L75.1 132L72 131.5L68.9 131.2L65.7 130.8M160.6 148.7L157.5 147.8L154.4 146.8L151.3 145.9L148.1 145.1L145 144.2L141.9 143.4L138.8 142.7L135.7 141.9L132.5 141.2L129.4 140.4L126.3 139.7L123.2 139L120.1 138.4L116.9 137.7L113.8 137.1L110.7 136.5L107.6 135.9L104.5 135.3L101.3 134.7L98.2 134.2L95.1 133.6L92 133.1L88.9 132.7L85.7 132.2L82.6 131.7L79.5 131.3L76.4 130.9L73.3 130.5L70.1 130.2L67 129.9M161.9 147.1L158.8 146.2L155.7 145.2L152.5 144.4L149.4 143.5L146.3 142.7L143.2 141.9L140.1 141.1L136.9 140.4L133.8 139.6L130.7 138.9L127.6 138.3L124.5 137.6L121.3 136.9L118.2 136.3L115.1 135.7L112 135.1L108.9 134.5L105.7 134L102.6 133.4L99.5 132.9L96.4 132.4L93.3 131.9L90.1 131.5L87 131L83.9 130.6L80.8 130.2L77.7 129.9L74.5 129.6L71.4 129.2L68.3 129M163.2 145.5L160.1 144.6L156.9 143.7L153.8 142.8L150.7 141.9L147.6 141.1L144.5 140.3L141.3 139.6L138.2 138.8L135.1 138.1L132 137.5L128.9 136.8L125.7 136.1L122.6 135.5L119.5 134.9L116.4 134.3L113.3 133.8L110.1 133.2L107 132.7L103.9 132.2L100.8 131.7L97.7 131.2L94.5 130.7L91.4 130.3L88.3 129.9L85.2 129.5L82.1 129.2L78.9 128.8L75.8 128.6L72.7 128.3L69.6 128M164.5 143.9L161.3 143L158.2 142.1L155.1 141.2L152 140.4L148.9 139.6L145.7 138.8L142.6 138L139.5 137.3L136.4 136.6L133.3 136L130.1 135.3L127 134.7L123.9 134.1L120.8 133.5L117.7 132.9L114.5 132.4L111.4 131.9L108.3 131.4L105.2 130.9L102.1 130.4L98.9 130L95.8 129.5L92.7 129.1L89.6 128.8L86.5 128.4L83.3 128.1L80.2 127.8L77.1 127.6L74 127.3L70.9 127.1M165.7 142.3L162.6 141.4L159.5 140.5L156.4 139.6L153.3 138.8L150.1 138L147 137.2L143.9 136.5L140.8 135.8L137.7 135.1L134.5 134.5L131.4 133.9L128.3 133.2L125.2 132.7L122.1 132.1L118.9 131.6L115.8 131L112.7 130.5L109.6 130L106.5 129.6L103.3 129.1L100.2 128.7L97.1 128.3L94 128L90.9 127.6L87.7 127.3L84.6 127L81.5 126.8L78.4 126.6L75.3 126.4L72.1 126.2M167 140.7L163.9 139.8L160.8 138.9L157.7 138L154.5 137.2L151.4 136.4L148.3 135.7L145.2 135L142.1 134.3L138.9 133.6L135.8 133L132.7 132.4L129.6 131.8L126.5 131.2L123.3 130.7L120.2 130.2L117.1 129.7L114 129.2L110.9 128.7L107.7 128.3L104.6 127.9L101.5 127.5L98.4 127.1L95.3 126.8L92.1 126.5L89 126.2L85.9 126L82.8 125.7L79.7 125.6L76.5 125.4L73.4 125.3M168.3 139.1L165.2 138.2L162.1 137.3L158.9 136.4L155.8 135.6L152.7 134.9L149.6 134.1L146.5 133.4L143.3 132.8L140.2 132.1L137.1 131.5L134 130.9L130.9 130.3L127.7 129.8L124.6 129.3L121.5 128.8L118.4 128.3L115.3 127.8L112.1 127.4L109 127L105.9 126.6L102.8 126.3L99.7 125.9L96.5 125.6L93.4 125.3L90.3 125.1L87.2 124.9L84.1 124.7L80.9 124.6L77.8 124.4L74.7 124.4M169.6 137.5L166.5 136.6L163.3 135.7L160.2 134.8L157.1 134.1L154 133.3L150.9 132.6L147.7 131.9L144.6 131.2L141.5 130.6L138.4 130L135.3 129.4L132.1 128.9L129 128.4L125.9 127.9L122.8 127.4L119.7 126.9L116.5 126.5L113.4 126.1L110.3 125.7L107.2 125.4L104.1 125L100.9 124.7L97.8 124.5L94.7 124.2L91.6 124L88.5 123.8L85.3 123.7L82.2 123.6L79.1 123.5L76 123.4M170.9 135.9L167.7 135L164.6 134.1L161.5 133.3L158.4 132.5L155.3 131.7L152.1 131L149 130.4L145.9 129.7L142.8 129.1L139.7 128.5L136.5 128L133.4 127.4L130.3 126.9L127.2 126.5L124.1 126L120.9 125.6L117.8 125.2L114.7 124.8L111.6 124.4L108.5 124.1L105.3 123.8L102.2 123.5L99.1 123.3L96 123.1L92.9 122.9L89.7 122.7L86.6 122.6L83.5 122.6L80.4 122.5L77.3 122.5M172.1 134.3L169 133.4L165.9 132.5L162.8 131.7L159.7 130.9L156.5 130.2L153.4 129.5L150.3 128.8L147.2 128.2L144.1 127.6L140.9 127L137.8 126.5L134.7 126L131.6 125.5L128.5 125.1L125.3 124.6L122.2 124.2L119.1 123.8L116 123.5L112.9 123.1L109.7 122.8L106.6 122.6L103.5 122.3L100.4 122.1L97.3 121.9L94.1 121.8L91 121.7L87.9 121.6L84.8 121.6L81.7 121.6L78.5 121.6M173.4 132.7L170.3 131.8L167.2 130.9L164 130.1L160.9 129.3L157.8 128.6L154.7 127.9L151.6 127.3L148.4 126.7L145.3 126.1L142.2 125.6L139.1 125L136 124.5L132.8 124.1L129.7 123.7L126.6 123.2L123.5 122.9L120.4 122.5L117.2 122.2L114.1 121.9L111 121.6L107.9 121.3L104.8 121.1L101.6 120.9L98.5 120.8L95.4 120.7L92.3 120.6L89.2 120.6L86 120.6L82.9 120.6L79.8 120.7M174.7 131.1L171.6 130.2L168.4 129.3L165.3 128.5L162.2 127.7L159.1 127L156 126.4L152.8 125.7L149.7 125.1L146.6 124.6L143.5 124.1L140.4 123.6L137.2 123.1L134.1 122.7L131 122.2L127.9 121.9L124.8 121.5L121.6 121.2L118.5 120.9L115.4 120.6L112.3 120.3L109.2 120.1L106 119.9L102.9 119.8L99.8 119.7L96.7 119.6L93.6 119.5L90.4 119.5L87.3 119.6L84.2 119.6L81.1 119.8M176 129.5L172.8 128.6L169.7 127.7L166.6 126.9L163.5 126.2L160.4 125.5L157.2 124.8L154.1 124.2L151 123.6L147.9 123.1L144.8 122.6L141.6 122.1L138.5 121.6L135.4 121.2L132.3 120.8L129.2 120.5L126 120.1L122.9 119.8L119.8 119.5L116.7 119.3L113.6 119.1L110.4 118.9L107.3 118.7L104.2 118.6L101.1 118.5L98 118.5L94.8 118.5L91.7 118.5L88.6 118.6L85.5 118.7L82.4 118.8M177.2 127.9L174.1 127L171 126.1L167.9 125.3L164.8 124.6L161.6 123.9L158.5 123.3L155.4 122.7L152.3 122.1L149.2 121.6L146 121.1L142.9 120.6L139.8 120.2L136.7 119.8L133.6 119.4L130.4 119.1L127.3 118.8L124.2 118.5L121.1 118.2L118 118L114.8 117.8L111.7 117.6L108.6 117.5L105.5 117.4L102.4 117.4L99.2 117.4L96.1 117.4L93 117.4L89.9 117.6L86.8 117.7L83.6 117.9M178.5 126.3L175.4 125.4L172.3 124.5L169.2 123.7L166 123L162.9 122.3L159.8 121.7L156.7 121.1L153.6 120.6L150.4 120.1L147.3 119.6L144.2 119.2L141.1 118.7L138 118.4L134.8 118L131.7 117.7L128.6 117.4L125.5 117.1L122.4 116.9L119.2 116.7L116.1 116.6L113 116.4L109.9 116.3L106.8 116.3L103.6 116.2L100.5 116.3L97.4 116.3L94.3 116.4L91.2 116.6L88 116.8L84.9 117M179.8 124.7L176.7 123.8L173.6 122.9L170.4 122.2L167.3 121.4L164.2 120.8L161.1 120.2L158 119.6L154.8 119.1L151.7 118.6L148.6 118.1L145.5 117.7L142.4 117.3L139.2 116.9L136.1 116.6L133 116.3L129.9 116L126.8 115.8L123.6 115.6L120.5 115.4L117.4 115.3L114.3 115.2L111.2 115.1L108 115.1L104.9 115.1L101.8 115.1L98.7 115.2L95.6 115.4L92.4 115.6L89.3 115.8L86.2 116.1M181.1 123.1L178 122.2L174.8 121.3L171.7 120.6L168.6 119.9L165.5 119.2L162.4 118.6L159.2 118.1L156.1 117.5L153 117.1L149.9 116.6L146.8 116.2L143.6 115.8L140.5 115.5L137.4 115.2L134.3 114.9L131.2 114.7L128 114.5L124.9 114.3L121.8 114.1L118.7 114L115.6 114L112.4 113.9L109.3 113.9L106.2 114L103.1 114L100 114.2L96.8 114.3L93.7 114.6L90.6 114.8L87.5 115.2M182.4 121.5L179.2 120.6L176.1 119.7L173 119L169.9 118.3L166.8 117.7L163.6 117.1L160.5 116.5L157.4 116L154.3 115.6L151.2 115.1L148 114.7L144.9 114.4L141.8 114.1L138.7 113.8L135.6 113.5L132.4 113.3L129.3 113.1L126.2 113L123.1 112.9L120 112.8L116.8 112.7L113.7 112.7L110.6 112.7L107.5 112.8L104.4 112.9L101.2 113.1L98.1 113.3L95 113.6L91.9 113.9L88.8 114.2M183.6 119.8L180.5 119L177.4 118.2L174.3 117.4L171.2 116.7L168 116.1L164.9 115.5L161.8 115L158.7 114.5L155.6 114L152.4 113.6L149.3 113.3L146.2 112.9L143.1 112.7L140 112.4L136.8 112.2L133.7 112L130.6 111.8L127.5 111.7L124.4 111.6L121.2 111.5L118.1 111.5L115 111.5L111.9 111.6L108.8 111.7L105.6 111.8L102.5 112L99.4 112.3L96.3 112.6L93.2 112.9L90 113.3M184.9 118.2L181.8 117.4L178.7 116.6L175.6 115.8L172.4 115.1L169.3 114.5L166.2 114L163.1 113.4L160 113L156.8 112.5L153.7 112.2L150.6 111.8L147.5 111.5L144.4 111.2L141.2 111L138.1 110.8L135 110.6L131.9 110.5L128.8 110.4L125.6 110.3L122.5 110.3L119.4 110.3L116.3 110.3L113.2 110.4L110 110.5L106.9 110.7L103.8 111L100.7 111.2L97.6 111.6L94.4 111.9L91.3 112.4M186.2 116.6L183.1 115.8L180 115L176.8 114.2L173.7 113.6L170.6 113L167.5 112.4L164.4 111.9L161.2 111.4L158.1 111L155 110.7L151.9 110.3L148.8 110L145.6 109.8L142.5 109.6L139.4 109.4L136.3 109.2L133.2 109.1L130 109L126.9 109L123.8 109L120.7 109L117.6 109.1L114.4 109.2L111.3 109.4L108.2 109.6L105.1 109.9L102 110.2L98.8 110.6L95.7 111L92.6 111.5M187.5 115L184.4 114.2L181.2 113.4L178.1 112.6L175 112L171.9 111.4L168.8 110.9L165.6 110.4L162.5 109.9L159.4 109.5L156.3 109.2L153.2 108.9L150 108.6L146.9 108.4L143.8 108.2L140.7 108L137.6 107.9L134.4 107.8L131.3 107.7L128.2 107.7L125.1 107.7L122 107.8L118.8 107.9L115.7 108.1L112.6 108.3L109.5 108.5L106.4 108.8L103.2 109.2L100.1 109.6L97 110L93.9 110.5M188.8 113.4L185.6 112.6L182.5 111.8L179.4 111.1L176.3 110.4L173.2 109.8L170 109.3L166.9 108.8L163.8 108.4L160.7 108L157.6 107.7L154.4 107.4L151.3 107.1L148.2 106.9L145.1 106.8L142 106.6L138.8 106.5L135.7 106.4L132.6 106.4L129.5 106.4L126.4 106.5L123.2 106.6L120.1 106.7L117 106.9L113.9 107.1L110.8 107.4L107.6 107.7L104.5 108.1L101.4 108.6L98.3 109.1L95.2 109.6M190 111.8L186.9 111L183.8 110.2L180.7 109.5L177.6 108.8L174.4 108.3L171.3 107.7L168.2 107.3L165.1 106.9L162 106.5L158.8 106.2L155.7 105.9L152.6 105.7L149.5 105.5L146.4 105.3L143.2 105.2L140.1 105.2L137 105.1L133.9 105.1L130.8 105.1L127.6 105.2L124.5 105.3L121.4 105.5L118.3 105.7L115.2 106L112 106.3L108.9 106.7L105.8 107.1L102.7 107.6L99.6 108.1L96.4 108.7M191.3 110.2L188.2 109.4L185.1 108.6L182 107.9L178.8 107.3L175.7 106.7L172.6 106.2L169.5 105.8L166.4 105.4L163.2 105L160.1 104.7L157 104.5L153.9 104.2L150.8 104.1L147.6 103.9L144.5 103.8L141.4 103.8L138.3 103.8L135.2 103.8L132 103.9L128.9 104L125.8 104.1L122.7 104.3L119.6 104.5L116.4 104.8L113.3 105.2L110.2 105.6L107.1 106.1L104 106.6L100.8 107.1L97.7 107.8M192.6 108.6L189.5 107.8L186.4 107L183.2 106.3L180.1 105.7L177 105.1L173.9 104.6L170.8 104.2L167.6 103.8L164.5 103.5L161.4 103.2L158.3 103L155.2 102.8L152 102.6L148.9 102.5L145.8 102.5L142.7 102.4L139.6 102.4L136.4 102.5L133.3 102.6L130.2 102.7L127.1 102.9L124 103.1L120.8 103.4L117.7 103.7L114.6 104.1L111.5 104.5L108.4 105L105.2 105.6L102.1 106.2L99 106.9M193.9 107L190.8 106.2L187.6 105.4L184.5 104.7L181.4 104.1L178.3 103.6L175.2 103.1L172 102.7L168.9 102.3L165.8 102L162.7 101.7L159.6 101.5L156.4 101.3L153.3 101.2L150.2 101.1L147.1 101.1L144 101.1L140.8 101.1L137.7 101.2L134.6 101.3L131.5 101.4L128.4 101.6L125.2 101.9L122.1 102.2L119 102.6L115.9 103L112.8 103.4L109.6 104L106.5 104.6L103.4 105.2L100.3 105.9M195.2 105.4L192 104.6L188.9 103.8L185.8 103.1L182.7 102.5L179.6 102L176.4 101.5L173.3 101.1L170.2 100.8L167.1 100.5L164 100.3L160.8 100.1L157.7 99.9L154.6 99.8L151.5 99.7L148.4 99.7L145.2 99.7L142.1 99.8L139 99.9L135.9 100L132.8 100.2L129.6 100.4L126.5 100.7L123.4 101L120.3 101.4L117.2 101.9L114 102.4L110.9 102.9L107.8 103.6L104.7 104.3L101.6 105M196.4 103.8L193.3 103L190.2 102.2L187.1 101.6L183.9 101L180.8 100.4L177.7 100L174.6 99.6L171.5 99.3L168.3 99L165.2 98.8L162.1 98.6L159 98.4L155.9 98.4L152.7 98.3L149.6 98.3L146.5 98.3L143.4 98.4L140.3 98.5L137.1 98.7L134 98.9L130.9 99.2L127.8 99.5L124.7 99.9L121.5 100.3L118.4 100.8L115.3 101.3L112.2 101.9L109.1 102.6L105.9 103.3L102.8 104.1M197.7 102.2L194.6 101.4L191.5 100.6L188.3 100L185.2 99.4L182.1 98.9L179 98.4L175.9 98.1L172.7 97.7L169.6 97.5L166.5 97.3L163.4 97.1L160.3 97L157.1 96.9L154 96.9L150.9 96.9L147.8 97L144.7 97.1L141.5 97.2L138.4 97.4L135.3 97.7L132.2 98L129.1 98.3L125.9 98.7L122.8 99.1L119.7 99.7L116.6 100.2L113.5 100.9L110.3 101.6L107.2 102.3L104.1 103.2M199 100.6L195.9 99.8L192.7 99L189.6 98.4L186.5 97.8L183.4 97.3L180.3 96.9L177.1 96.5L174 96.2L170.9 96L167.8 95.8L164.7 95.6L161.5 95.5L158.4 95.5L155.3 95.5L152.2 95.5L149.1 95.6L145.9 95.7L142.8 95.9L139.7 96.1L136.6 96.4L133.5 96.7L130.3 97.1L127.2 97.5L124.1 98L121 98.6L117.9 99.2L114.7 99.8L111.6 100.6L108.5 101.4L105.4 102.3M200.3 99L197.1 98.2L194 97.4L190.9 96.8L187.8 96.2L184.7 95.7L181.5 95.3L178.4 95L175.3 94.7L172.2 94.5L169.1 94.3L165.9 94.2L162.8 94.1L159.7 94.1L156.6 94.1L153.5 94.1L150.3 94.3L147.2 94.4L144.1 94.6L141 94.9L137.9 95.1L134.7 95.5L131.6 95.9L128.5 96.4L125.4 96.9L122.3 97.4L119.1 98.1L116 98.8L112.9 99.6L109.8 100.4L106.7 101.3M201.5 97.4L198.4 96.6L195.3 95.8L192.2 95.2L189.1 94.7L185.9 94.2L182.8 93.8L179.7 93.4L176.6 93.2L173.5 93L170.3 92.8L167.2 92.7L164.1 92.6L161 92.6L157.9 92.7L154.7 92.8L151.6 92.9L148.5 93.1L145.4 93.3L142.3 93.6L139.1 93.9L136 94.3L132.9 94.7L129.8 95.2L126.7 95.7L123.5 96.3L120.4 97L117.3 97.8L114.2 98.6L111.1 99.5L107.9 100.4M202.8 95.8L199.7 95L196.6 94.2L193.5 93.6L190.3 93.1L187.2 92.6L184.1 92.2L181 91.9L177.9 91.7L174.7 91.5L171.6 91.3L168.5 91.2L165.4 91.2L162.3 91.2L159.1 91.3L156 91.4L152.9 91.5L149.8 91.7L146.7 92L143.5 92.3L140.4 92.6L137.3 93L134.2 93.5L131.1 94L127.9 94.6L124.8 95.2L121.7 95.9L118.6 96.7L115.5 97.6L112.3 98.5L109.2 99.5M204.1 94.2L201 93.4L197.9 92.7L194.7 92L191.6 91.5L188.5 91.1L185.4 90.7L182.3 90.4L179.1 90.1L176 90L172.9 89.8L169.8 89.8L166.7 89.7L163.5 89.8L160.4 89.9L157.3 90L154.2 90.2L151.1 90.4L147.9 90.7L144.8 91L141.7 91.4L138.6 91.8L135.5 92.3L132.3 92.8L129.2 93.5L126.1 94.1L123 94.9L119.9 95.7L116.7 96.6L113.6 97.5L110.5 98.6M205.4 92.6L202.3 91.8L199.1 91.1L196 90.5L192.9 89.9L189.8 89.5L186.7 89.1L183.5 88.8L180.4 88.6L177.3 88.4L174.2 88.3L171.1 88.3L167.9 88.3L164.8 88.4L161.7 88.5L158.6 88.6L155.5 88.8L152.3 89.1L149.2 89.4L146.1 89.7L143 90.1L139.9 90.6L136.7 91.1L133.6 91.7L130.5 92.3L127.4 93L124.3 93.8L121.1 94.7L118 95.6L114.9 96.6L111.8 97.7M206.7 91L203.5 90.2L200.4 89.5L197.3 88.9L194.2 88.4L191.1 87.9L187.9 87.6L184.8 87.3L181.7 87.1L178.6 86.9L175.5 86.9L172.3 86.8L169.2 86.8L166.1 86.9L163 87L159.9 87.2L156.7 87.4L153.6 87.7L150.5 88L147.4 88.4L144.3 88.9L141.1 89.3L138 89.9L134.9 90.5L131.8 91.2L128.7 91.9L125.5 92.7L122.4 93.6L119.3 94.6L116.2 95.6L113.1 96.7M207.9 89.4L204.8 88.6L201.7 87.9L198.6 87.3L195.5 86.8L192.3 86.4L189.2 86L186.1 85.8L183 85.6L179.9 85.4L176.7 85.4L173.6 85.4L170.5 85.4L167.4 85.5L164.3 85.6L161.1 85.8L158 86.1L154.9 86.4L151.8 86.7L148.7 87.1L145.5 87.6L142.4 88.1L139.3 88.7L136.2 89.3L133.1 90L129.9 90.8L126.8 91.7L123.7 92.6L120.6 93.6L117.5 94.7L114.3 95.8M209.2 87.8L206.1 87L203 86.3L199.9 85.7L196.7 85.2L193.6 84.8L190.5 84.5L187.4 84.2L184.3 84L181.1 83.9L178 83.9L174.9 83.9L171.8 83.9L168.7 84.1L165.5 84.2L162.4 84.5L159.3 84.7L156.2 85L153.1 85.4L149.9 85.8L146.8 86.3L143.7 86.9L140.6 87.5L137.5 88.2L134.3 88.9L131.2 89.7L128.1 90.6L125 91.5L121.9 92.6L118.7 93.7L115.6 94.9M210.5 86.2L207.4 85.4L204.3 84.7L201.1 84.1L198 83.6L194.9 83.2L191.8 82.9L188.7 82.7L185.5 82.5L182.4 82.4L179.3 82.4L176.2 82.4L173.1 82.5L169.9 82.6L166.8 82.8L163.7 83.1L160.6 83.4L157.5 83.7L154.3 84.1L151.2 84.6L148.1 85.1L145 85.6L141.9 86.3L138.7 87L135.6 87.8L132.5 88.6L129.4 89.5L126.3 90.5L123.1 91.6L120 92.7L116.9 94M211.8 84.6L208.7 83.8L205.5 83.1L202.4 82.5L199.3 82.1L196.2 81.7L193.1 81.4L189.9 81.1L186.8 81L183.7 80.9L180.6 80.9L177.5 80.9L174.3 81L171.2 81.2L168.1 81.4L165 81.7L161.9 82L158.7 82.4L155.6 82.8L152.5 83.3L149.4 83.8L146.3 84.4L143.1 85.1L140 85.8L136.9 86.6L133.8 87.5L130.7 88.4L127.5 89.5L124.4 90.6L121.3 91.8L118.2 93.1M213.1 83L209.9 82.2L206.8 81.5L203.7 80.9L200.6 80.5L197.5 80.1L194.3 79.8L191.2 79.6L188.1 79.5L185 79.4L181.9 79.4L178.7 79.5L175.6 79.6L172.5 79.8L169.4 80L166.3 80.3L163.1 80.6L160 81L156.9 81.5L153.8 82L150.7 82.6L147.5 83.2L144.4 83.9L141.3 84.6L138.2 85.5L135.1 86.4L131.9 87.4L128.8 88.4L125.7 89.6L122.6 90.8L119.5 92.1M214.3 81.3L211.2 80.6L208.1 79.9L205 79.4L201.9 78.9L198.7 78.5L195.6 78.3L192.5 78.1L189.4 78L186.3 77.9L183.1 77.9L180 78L176.9 78.1L173.8 78.3L170.7 78.6L167.5 78.9L164.4 79.3L161.3 79.7L158.2 80.2L155.1 80.7L151.9 81.3L148.8 82L145.7 82.7L142.6 83.5L139.5 84.3L136.3 85.3L133.2 86.3L130.1 87.4L127 88.6L123.9 89.9L120.7 91.2M215.6 79.7L212.5 79L209.4 78.3L206.3 77.8L203.1 77.3L200 77L196.9 76.7L193.8 76.5L190.7 76.4L187.5 76.4L184.4 76.4L181.3 76.5L178.2 76.7L175.1 76.9L171.9 77.2L168.8 77.5L165.7 77.9L162.6 78.4L159.5 78.9L156.3 79.4L153.2 80L150.1 80.7L147 81.5L143.9 82.3L140.7 83.2L137.6 84.2L134.5 85.2L131.4 86.4L128.3 87.6L125.1 88.9L122 90.3M216.9 78.1L213.8 77.4L210.7 76.7L207.5 76.2L204.4 75.7L201.3 75.4L198.2 75.2L195.1 75L191.9 74.9L188.8 74.9L185.7 75L182.6 75.1L179.5 75.3L176.3 75.5L173.2 75.8L170.1 76.1L167 76.5L163.9 77L160.7 77.5L157.6 78.1L154.5 78.8L151.4 79.5L148.3 80.3L145.1 81.1L142 82.1L138.9 83.1L135.8 84.2L132.7 85.3L129.5 86.6L126.4 87.9L123.3 89.4M218.2 76.5L215.1 75.8L211.9 75.1L208.8 74.6L205.7 74.2L202.6 73.8L199.5 73.6L196.3 73.5L193.2 73.4L190.1 73.4L187 73.5L183.9 73.6L180.7 73.8L177.6 74.1L174.5 74.4L171.4 74.8L168.3 75.2L165.1 75.7L162 76.2L158.9 76.8L155.8 77.5L152.7 78.3L149.5 79.1L146.4 80L143.3 80.9L140.2 82L137.1 83.1L133.9 84.3L130.8 85.6L127.7 87L124.6 88.4M219.4 74.9L216.3 74.2L213.2 73.5L210.1 73L207 72.6L203.8 72.3L200.7 72.1L197.6 71.9L194.5 71.9L191.4 71.9L188.2 72L185.1 72.1L182 72.4L178.9 72.6L175.8 73L172.6 73.4L169.5 73.8L166.4 74.3L163.3 74.9L160.2 75.6L157 76.3L153.9 77L150.8 77.9L147.7 78.8L144.6 79.8L141.4 80.9L138.3 82L135.2 83.3L132.1 84.6L129 86L125.8 87.5M220.7 73.3L217.6 72.6L214.5 71.9L211.4 71.4L208.2 71L205.1 70.7L202 70.5L198.9 70.4L195.8 70.3L192.6 70.4L189.5 70.5L186.4 70.7L183.3 70.9L180.2 71.2L177 71.6L173.9 72L170.8 72.5L167.7 73L164.6 73.6L161.4 74.3L158.3 75L155.2 75.8L152.1 76.7L149 77.6L145.8 78.6L142.7 79.7L139.6 80.9L136.5 82.2L133.4 83.6L130.2 85L127.1 86.6M222 71.7L218.9 71L215.8 70.3L212.6 69.8L209.5 69.4L206.4 69.2L203.3 69L200.2 68.8L197 68.8L193.9 68.9L190.8 69L187.7 69.2L184.6 69.5L181.4 69.8L178.3 70.2L175.2 70.6L172.1 71.1L169 71.7L165.8 72.3L162.7 73L159.6 73.7L156.5 74.6L153.4 75.5L150.2 76.4L147.1 77.5L144 78.6L140.9 79.9L137.8 81.2L134.6 82.6L131.5 84.1L128.4 85.7M223.3 70.1L220.2 69.4L217 68.8L213.9 68.3L210.8 67.9L207.7 67.6L204.6 67.4L201.4 67.3L198.3 67.3L195.2 67.4L192.1 67.5L189 67.7L185.8 68L182.7 68.3L179.6 68.7L176.5 69.2L173.4 69.7L170.2 70.3L167.1 71L164 71.7L160.9 72.5L157.8 73.3L154.6 74.3L151.5 75.3L148.4 76.4L145.3 77.5L142.2 78.8L139 80.1L135.9 81.6L132.8 83.1L129.7 84.8M224.6 68.5L221.4 67.8L218.3 67.2L215.2 66.7L212.1 66.3L209 66L205.8 65.9L202.7 65.8L199.6 65.8L196.5 65.9L193.4 66L190.2 66.3L187.1 66.6L184 66.9L180.9 67.3L177.8 67.8L174.6 68.4L171.5 69L168.4 69.7L165.3 70.4L162.2 71.2L159 72.1L155.9 73.1L152.8 74.1L149.7 75.2L146.6 76.4L143.4 77.7L140.3 79.1L137.2 80.6L134.1 82.2L131 83.8M225.8 66.9L222.7 66.2L219.6 65.6L216.5 65.1L213.4 64.7L210.2 64.5L207.1 64.3L204 64.2L200.9 64.3L197.8 64.4L194.6 64.5L191.5 64.8L188.4 65.1L185.3 65.5L182.2 65.9L179 66.4L175.9 67L172.8 67.7L169.7 68.4L166.6 69.1L163.4 70L160.3 70.9L157.2 71.9L154.1 72.9L151 74.1L147.8 75.3L144.7 76.7L141.6 78.1L138.5 79.6L135.4 81.2L132.2 82.9M227.1 65.3L224 64.6L220.9 64L217.8 63.5L214.6 63.1L211.5 62.9L208.4 62.7L205.3 62.7L202.2 62.7L199 62.9L195.9 63L192.8 63.3L189.7 63.7L186.6 64.1L183.4 64.5L180.3 65.1L177.2 65.7L174.1 66.3L171 67L167.8 67.8L164.7 68.7L161.6 69.6L158.5 70.7L155.4 71.8L152.2 72.9L149.1 74.2L146 75.6L142.9 77L139.8 78.6L136.6 80.2L133.5 82M228.4 63.7L225.3 63L222.2 62.4L219 61.9L215.9 61.6L212.8 61.3L209.7 61.2L206.6 61.2L203.4 61.2L200.3 61.3L197.2 61.6L194.1 61.8L191 62.2L187.8 62.6L184.7 63.1L181.6 63.7L178.5 64.3L175.4 65L172.2 65.7L169.1 66.6L166 67.4L162.9 68.4L159.8 69.5L156.6 70.6L153.5 71.8L150.4 73.1L147.3 74.5L144.2 76L141 77.6L137.9 79.3L134.8 81.1M229.7 62.1L226.6 61.4L223.4 60.8L220.3 60.3L217.2 60L214.1 59.8L211 59.6L207.8 59.6L204.7 59.7L201.6 59.8L198.5 60.1L195.4 60.4L192.2 60.8L189.1 61.2L186 61.7L182.9 62.3L179.8 62.9L176.6 63.6L173.5 64.4L170.4 65.3L167.3 66.2L164.2 67.2L161 68.3L157.9 69.4L154.8 70.7L151.7 72L148.6 73.4L145.4 75L142.3 76.6L139.2 78.3L136.1 80.2M231 60.5L227.8 59.8L224.7 59.2L221.6 58.7L218.5 58.4L215.4 58.2L212.2 58.1L209.1 58.1L206 58.2L202.9 58.3L199.8 58.6L196.6 58.9L193.5 59.3L190.4 59.8L187.3 60.3L184.2 60.9L181 61.6L177.9 62.3L174.8 63.1L171.7 64L168.6 64.9L165.4 66L162.3 67.1L159.2 68.3L156.1 69.5L153 70.9L149.8 72.4L146.7 73.9L143.6 75.6L140.5 77.4L137.4 79.2M232.2 58.9L229.1 58.2L226 57.6L222.9 57.2L219.8 56.8L216.6 56.6L213.5 56.5L210.4 56.5L207.3 56.6L204.2 56.8L201 57.1L197.9 57.4L194.8 57.9L191.7 58.3L188.6 58.9L185.4 59.5L182.3 60.2L179.2 61L176.1 61.8L173 62.7L169.8 63.7L166.7 64.7L163.6 65.9L160.5 67.1L157.4 68.4L154.2 69.8L151.1 71.3L148 72.9L144.9 74.6L141.8 76.4L138.6 78.3M233.5 57.3L230.4 56.6L227.3 56L224.2 55.6L221 55.3L217.9 55.1L214.8 55L211.7 55L208.6 55.1L205.4 55.3L202.3 55.6L199.2 56L196.1 56.4L193 56.9L189.8 57.5L186.7 58.1L183.6 58.8L180.5 59.6L177.4 60.5L174.2 61.4L171.1 62.4L168 63.5L164.9 64.7L161.8 65.9L158.6 67.3L155.5 68.7L152.4 70.2L149.3 71.9L146.2 73.6L143 75.4L139.9 77.4M234.8 55.7L231.7 55L228.6 54.4L225.4 54L222.3 53.7L219.2 53.5L216.1 53.4L213 53.5L209.8 53.6L206.7 53.8L203.6 54.1L200.5 54.5L197.4 55L194.2 55.5L191.1 56.1L188 56.7L184.9 57.5L181.8 58.3L178.6 59.2L175.5 60.1L172.4 61.2L169.3 62.3L166.2 63.5L163 64.7L159.9 66.1L156.8 67.6L153.7 69.1L150.6 70.8L147.4 72.6L144.3 74.5L141.2 76.5M236.1 54.1L233 53.4L229.8 52.8L226.7 52.4L223.6 52.1L220.5 51.9L217.4 51.9L214.2 51.9L211.1 52.1L208 52.3L204.9 52.6L201.8 53L198.6 53.5L195.5 54L192.4 54.7L189.3 55.4L186.2 56.1L183 57L179.9 57.9L176.8 58.8L173.7 59.9L170.6 61L167.4 62.3L164.3 63.6L161.2 65L158.1 66.5L155 68.1L151.8 69.8L148.7 71.6L145.6 73.5L142.5 75.6M237.4 52.5L234.2 51.8L231.1 51.2L228 50.8L224.9 50.5L221.8 50.4L218.6 50.3L215.5 50.4L212.4 50.6L209.3 50.8L206.2 51.1L203 51.6L199.9 52.1L196.8 52.6L193.7 53.3L190.6 54L187.4 54.8L184.3 55.6L181.2 56.5L178.1 57.6L175 58.6L171.8 59.8L168.7 61.1L165.6 62.4L162.5 63.8L159.4 65.4L156.2 67L153.1 68.7L150 70.6L146.9 72.6L143.8 74.6M238.6 50.9L235.5 50.2L232.4 49.6L229.3 49.2L226.2 49L223 48.8L219.9 48.8L216.8 48.9L213.7 49L210.6 49.3L207.4 49.7L204.3 50.1L201.2 50.6L198.1 51.2L195 51.9L191.8 52.6L188.7 53.4L185.6 54.3L182.5 55.2L179.4 56.3L176.2 57.4L173.1 58.6L170 59.9L166.9 61.2L163.8 62.7L160.6 64.3L157.5 65.9L154.4 67.7L151.3 69.6L148.2 71.6L145 73.7M239.9 49.3L236.8 48.6L233.7 48L230.6 47.6L227.4 47.4L224.3 47.2L221.2 47.2L218.1 47.3L215 47.5L211.8 47.8L208.7 48.2L205.6 48.6L202.5 49.2L199.4 49.8L196.2 50.4L193.1 51.2L190 52L186.9 52.9L183.8 53.9L180.6 55L177.5 56.1L174.4 57.3L171.3 58.7L168.2 60.1L165 61.6L161.9 63.2L158.8 64.9L155.7 66.7L152.6 68.6L149.4 70.6L146.3 72.8" fill="none" stroke="#000" stroke-opacity="0.2" stroke-width="0.3" stroke-linejoin="round"/>
<path d="M137.6 177.6L239.9 49.3M135.5 176.9L237.8 48.8M133.4 176.2L235.8 48.4M131.4 175.5L233.7 48M129.3 174.8L231.6 47.8M127.2 174.1L229.5 47.5M125.1 173.4L227.4 47.4M123 172.8L225.4 47.3M121 172.1L223.3 47.2M118.9 171.4L221.2 47.2M116.8 170.7L219.1 47.3M114.7 170L217 47.4M112.6 169.3L215 47.5M110.6 168.6L212.9 47.7M108.5 167.9L210.8 47.9M106.4 167.2L208.7 48.2M104.3 166.5L206.6 48.5M102.2 165.8L204.6 48.8M100.2 165.1L202.5 49.2M98.1 164.5L200.4 49.5M96 163.8L198.3 50M93.9 163.1L196.2 50.4M91.8 162.4L194.2 50.9M89.8 161.7L192.1 51.5M87.7 161L190 52M85.6 160.3L187.9 52.6M83.5 159.6L185.8 53.3M81.4 158.9L183.8 53.9M79.4 158.2L181.7 54.6M77.3 157.5L179.6 55.3M75.2 156.8L177.5 56.1M73.1 156.1L175.4 56.9M71 155.5L173.4 57.8M69 154.8L171.3 58.7M66.9 154.1L169.2 59.6M64.8 153.4L167.1 60.5M62.7 152.7L165 61.6M60.6 152L163 62.6M58.6 151.3L160.9 63.7M56.5 150.6L158.8 64.9M54.4 149.9L156.7 66.1M52.3 149.2L154.6 67.3M50.2 148.5L152.6 68.6M48.2 147.8L150.5 69.9M46.1 147.2L148.4 71.3M44 146.5L146.3 72.8" fill="none" stroke="#000" stroke-opacity="0.2" stroke-width="0.3"/></g>
<path d="M33.6 48.3L33.6 143L137.6 177.6L242 143M33.6 133.4L31.1 132.6M33.6 117L31.1 116.1M33.6 100.5L31.1 99.7M33.6 84.1L31.1 83.2M33.6 67.6L31.1 66.8M33.6 51.2L31.1 50.3M137.6 177.6L135.1 178.4M85.6 160.3L83.1 161.1M33.6 143L31.1 143.8M137.6 177.6L140.1 178.4M163.7 168.9L166.2 169.8M189.8 160.3L192.3 161.1M215.9 151.7L218.4 152.5M242 143L244.5 143.8" fill="none" stroke="#8a8a8a" stroke-width=".6"/>
<g class="tk"><text transform="translate(28.6 134.4) scale(.82 1)" text-anchor="end">0</text><text transform="translate(28.6 118) scale(.82 1)" text-anchor="end">2</text><text transform="translate(28.6 101.5) scale(.82 1)" text-anchor="end">4</text><text transform="translate(28.6 85.1) scale(.82 1)" text-anchor="end">6</text><text transform="translate(28.6 68.6) scale(.82 1)" text-anchor="end">8</text><text transform="translate(28.6 52.2) scale(.82 1)" text-anchor="end">10</text><text transform="translate(132 186.3) scale(.82 1)" text-anchor="end">0</text><text transform="translate(80 169) scale(.82 1)" text-anchor="end">50</text><text transform="translate(28 151.7) scale(.82 1)" text-anchor="end">100</text><text transform="translate(142.4 186.3) scale(.82 1)">0</text><text transform="translate(168.5 177.6) scale(.82 1)">20</text><text transform="translate(194.6 169) scale(.82 1)">40</text><text transform="translate(220.7 160.3) scale(.82 1)">60</text><text transform="translate(246.8 151.7) scale(.82 1)">80</text></g>
<text class="lb" text-anchor="middle" textLength="38" lengthAdjust="spacing" transform="translate(15.5 96.1) rotate(-90)"><tspan class="it">V</tspan><tspan class="it" dy="2" font-size="7">xg</tspan><tspan dy="-2">[</tspan><tspan class="it">m</tspan>/<tspan class="it">s</tspan><tspan dy="-3.4" font-size="7">2</tspan><tspan dy="3.4">]</tspan></text>
<circle cx="7.3" cy="111.7" r=".6" fill="#555"/>
<text class="lb" x="70.9" y="188" textLength="18.6" lengthAdjust="spacing"><tspan class="it">δ</tspan><tspan class="it" dy="1.8" font-size="7">N</tspan><tspan dy="-1.8">[</tspan><tspan dy="-2.6" font-size="7">°</tspan><tspan dy="2.6">]</tspan></text>
<text class="lb" x="180.8" y="188" textLength="19.1" lengthAdjust="spacing"><tspan class="it">T</tspan>[<tspan class="it">N</tspan>]</text>
<text class="ti" x="22.2" y="21.6" textLength="220.5" lengthAdjust="spacing" xml:space="preserve"><tspan class="it">θ</tspan> = 5°  Forward flight speed control effectiveness</text>
<text class="cp" text-anchor="middle" x="133.2" y="221">(<tspan font-weight="bold">a</tspan>)</text>
<clipPath id="clb"><rect x="285.9" y="33" width="266.6" height="300"/></clipPath>
<g clip-path="url(#clb)" fill="none"><path d="M316.4 141.1L423.3 112.6L522 143.3M316.4 138.2L423.3 109.7L522 140.4M316.4 135.3L423.3 106.8L522 137.5M316.4 132.5L423.3 104L522 134.7M316.4 126.7L423.3 98.2L522 128.9M316.4 123.8L423.3 95.3L522 126M316.4 120.9L423.3 92.4L522 123.1M316.4 118L423.3 89.5L522 120.2M316.4 112.3L423.3 83.8L522 114.5M316.4 109.4L423.3 80.9L522 111.6M316.4 106.5L423.3 78L522 108.7M316.4 103.6L423.3 75.1L522 105.8M316.4 97.9L423.3 69.4L522 100.1M316.4 95L423.3 66.5L522 97.2M316.4 92.1L423.3 63.6L522 94.3M316.4 89.2L423.3 60.7L522 91.4M316.4 83.4L423.3 54.9L522 85.6M316.4 80.6L423.3 52.1L522 82.8M316.4 77.7L423.3 49.2L522 79.9M316.4 74.8L423.3 46.3L522 77M316.4 69L423.3 40.5L522 71.2M316.4 66.1L423.3 37.6L522 68.3M316.4 63.2L423.3 34.7L522 65.4M316.4 60.4L423.3 31.9L522 62.6M316.4 54.6L423.3 26.1L522 56.8M316.4 51.7L423.3 23.2L522 53.9M316.4 48.8L423.3 20.3L522 51M316.4 45.9L423.3 17.4L522 48.1M321.7 41.6L321.7 143L420.4 173.7M327.1 40.2L327.1 141.6L425.8 172.2M332.4 38.7L332.4 140.1L431.1 170.8M337.8 37.3L337.8 138.7L436.5 169.4M348.5 34.4L348.5 135.8L447.2 166.5M353.8 33L353.8 134.4L452.5 165.1M359.2 31.6L359.2 133L457.9 163.7M364.5 30.2L364.5 131.6L463.2 162.3M375.2 27.3L375.2 128.7L473.9 159.4M380.5 25.9L380.5 127.3L479.2 158M385.9 24.5L385.9 125.9L484.6 156.6M391.2 23L391.2 124.5L489.9 155.2M401.9 20.2L401.9 121.6L500.6 152.3M407.3 18.8L407.3 120.2L506 150.9M412.6 17.3L412.6 118.8L511.3 149.4M418 15.9L418 117.3L516.7 148M512.1 42.1L512.1 143.5L405.2 172M502.3 39.1L502.3 140.5L395.4 169M492.4 36L492.4 137.4L385.5 165.9M482.5 32.9L482.5 134.3L375.6 162.8M462.8 26.8L462.8 128.2L355.9 156.7M452.9 23.7L452.9 125.1L346 153.6M443 20.6L443 122L336.1 150.5M433.2 17.6L433.2 119L326.3 147.5" stroke="#000" stroke-opacity=".03" stroke-width=".5"/><path d="M316.4 144L423.3 115.5L522 146.2M316.4 129.6L423.3 101.1L522 131.8M316.4 115.2L423.3 86.7L522 117.4M316.4 100.7L423.3 72.2L522 102.9M316.4 86.3L423.3 57.8L522 88.5M316.4 71.9L423.3 43.4L522 74.1M316.4 57.5L423.3 29L522 59.7M316.4 43.1L423.3 14.6L522 45.3M316.4 43L316.4 144.4L415.1 175.1M343.1 35.9L343.1 137.3L441.8 168M369.8 28.8L369.8 130.2L468.6 160.8M396.6 21.6L396.6 123L495.3 153.7M423.3 14.5L423.3 115.9L522 146.6M522 45.2L522 146.6L415.1 175.1M472.6 29.8L472.6 131.2L365.8 159.8M423.3 14.5L423.3 115.9L316.4 144.4" stroke="#000" stroke-opacity=".055" stroke-width=".5"/></g>
<defs><linearGradient id="gb0" gradientUnits="userSpaceOnUse" x1="414.1" y1="167.6" x2="518.9" y2="54.1"><stop offset="0" stop-color="#0f5a12"/><stop offset="0.125" stop-color="#0f5e27"/><stop offset="0.25" stop-color="#0f633b"/><stop offset="0.375" stop-color="#0f6750"/><stop offset="0.5" stop-color="#0f6c65"/><stop offset="0.625" stop-color="#116d7c"/><stop offset="0.75" stop-color="#146e92"/><stop offset="0.875" stop-color="#176fa8"/><stop offset="1" stop-color="#1970bf"/></linearGradient><linearGradient id="gb1" gradientUnits="userSpaceOnUse" x1="412.1" y1="167" x2="516.9" y2="53.6"><stop offset="0" stop-color="#0f5a12"/><stop offset="0.125" stop-color="#0f5e27"/><stop offset="0.25" stop-color="#0f623b"/><stop offset="0.375" stop-color="#0f6750"/><stop offset="0.5" stop-color="#0f6b64"/><stop offset="0.625" stop-color="#116c7b"/><stop offset="0.75" stop-color="#146d90"/><stop offset="0.875" stop-color="#166da6"/><stop offset="1" stop-color="#196fbc"/></linearGradient><linearGradient id="gb2" gradientUnits="userSpaceOnUse" x1="410.2" y1="166.4" x2="514.9" y2="53.1"><stop offset="0" stop-color="#0f5912"/><stop offset="0.125" stop-color="#0f5e27"/><stop offset="0.25" stop-color="#0f623b"/><stop offset="0.375" stop-color="#0f6650"/><stop offset="0.5" stop-color="#0f6a64"/><stop offset="0.625" stop-color="#116b7a"/><stop offset="0.75" stop-color="#136c8f"/><stop offset="0.875" stop-color="#166ca4"/><stop offset="1" stop-color="#186dba"/></linearGradient><linearGradient id="gb3" gradientUnits="userSpaceOnUse" x1="408.2" y1="165.8" x2="513" y2="52.7"><stop offset="0" stop-color="#0f5912"/><stop offset="0.125" stop-color="#0f5e26"/><stop offset="0.25" stop-color="#0f623b"/><stop offset="0.375" stop-color="#0f664f"/><stop offset="0.5" stop-color="#0f6a63"/><stop offset="0.625" stop-color="#116a79"/><stop offset="0.75" stop-color="#136b8d"/><stop offset="0.875" stop-color="#166ba2"/><stop offset="1" stop-color="#186bb7"/></linearGradient><linearGradient id="gb4" gradientUnits="userSpaceOnUse" x1="406.2" y1="165.1" x2="511" y2="52.3"><stop offset="0" stop-color="#0f5912"/><stop offset="0.125" stop-color="#0f5d26"/><stop offset="0.25" stop-color="#0f613a"/><stop offset="0.375" stop-color="#0f654f"/><stop offset="0.5" stop-color="#0f6962"/><stop offset="0.625" stop-color="#116a77"/><stop offset="0.75" stop-color="#13698c"/><stop offset="0.875" stop-color="#1669a0"/><stop offset="1" stop-color="#186ab4"/></linearGradient><linearGradient id="gb5" gradientUnits="userSpaceOnUse" x1="404.2" y1="164.5" x2="509" y2="52.1"><stop offset="0" stop-color="#0f5912"/><stop offset="0.125" stop-color="#0f5d26"/><stop offset="0.25" stop-color="#0f613a"/><stop offset="0.375" stop-color="#0f654e"/><stop offset="0.5" stop-color="#0f6861"/><stop offset="0.625" stop-color="#116976"/><stop offset="0.75" stop-color="#13688a"/><stop offset="0.875" stop-color="#15689e"/><stop offset="1" stop-color="#1768b1"/></linearGradient><linearGradient id="gb6" gradientUnits="userSpaceOnUse" x1="402.3" y1="163.9" x2="507" y2="51.9"><stop offset="0" stop-color="#0f5912"/><stop offset="0.125" stop-color="#0f5d26"/><stop offset="0.25" stop-color="#0f613a"/><stop offset="0.375" stop-color="#0f644e"/><stop offset="0.5" stop-color="#0f6761"/><stop offset="0.625" stop-color="#116875"/><stop offset="0.75" stop-color="#126788"/><stop offset="0.875" stop-color="#15669c"/><stop offset="1" stop-color="#1766ae"/></linearGradient><linearGradient id="gb7" gradientUnits="userSpaceOnUse" x1="400.3" y1="163.3" x2="505.1" y2="51.7"><stop offset="0" stop-color="#0f5912"/><stop offset="0.125" stop-color="#0f5d26"/><stop offset="0.25" stop-color="#0f603a"/><stop offset="0.375" stop-color="#0f634e"/><stop offset="0.5" stop-color="#0e6760"/><stop offset="0.625" stop-color="#106774"/><stop offset="0.75" stop-color="#126687"/><stop offset="0.875" stop-color="#156599"/><stop offset="1" stop-color="#1664ab"/></linearGradient><linearGradient id="gb8" gradientUnits="userSpaceOnUse" x1="398.3" y1="162.7" x2="503.1" y2="51.6"><stop offset="0" stop-color="#0f5912"/><stop offset="0.125" stop-color="#0f5d26"/><stop offset="0.25" stop-color="#0f603a"/><stop offset="0.375" stop-color="#0f634d"/><stop offset="0.5" stop-color="#0e665f"/><stop offset="0.625" stop-color="#106673"/><stop offset="0.75" stop-color="#126585"/><stop offset="0.875" stop-color="#146397"/><stop offset="1" stop-color="#1662a8"/></linearGradient><linearGradient id="gb9" gradientUnits="userSpaceOnUse" x1="396.3" y1="162.1" x2="501.1" y2="51.6"><stop offset="0" stop-color="#0f5912"/><stop offset="0.125" stop-color="#0f5c26"/><stop offset="0.25" stop-color="#0f5f39"/><stop offset="0.375" stop-color="#0e624d"/><stop offset="0.5" stop-color="#0e655f"/><stop offset="0.625" stop-color="#106572"/><stop offset="0.75" stop-color="#126383"/><stop offset="0.875" stop-color="#146295"/><stop offset="1" stop-color="#1661a4"/></linearGradient><linearGradient id="gb10" gradientUnits="userSpaceOnUse" x1="394.4" y1="161.5" x2="499.1" y2="51.6"><stop offset="0" stop-color="#0f5912"/><stop offset="0.125" stop-color="#0f5c26"/><stop offset="0.25" stop-color="#0f5f39"/><stop offset="0.375" stop-color="#0e624c"/><stop offset="0.5" stop-color="#0e645e"/><stop offset="0.625" stop-color="#106471"/><stop offset="0.75" stop-color="#126282"/><stop offset="0.875" stop-color="#146092"/><stop offset="1" stop-color="#155fa1"/></linearGradient><linearGradient id="gb11" gradientUnits="userSpaceOnUse" x1="392.4" y1="160.8" x2="497.2" y2="51.6"><stop offset="0" stop-color="#0f5912"/><stop offset="0.125" stop-color="#0f5c26"/><stop offset="0.25" stop-color="#0f5f39"/><stop offset="0.375" stop-color="#0e614c"/><stop offset="0.5" stop-color="#0e645d"/><stop offset="0.625" stop-color="#106370"/><stop offset="0.75" stop-color="#116180"/><stop offset="0.875" stop-color="#135f90"/><stop offset="1" stop-color="#155d9e"/></linearGradient><linearGradient id="gb12" gradientUnits="userSpaceOnUse" x1="390.4" y1="160.2" x2="495.2" y2="51.7"><stop offset="0" stop-color="#0f5812"/><stop offset="0.125" stop-color="#0f5c26"/><stop offset="0.25" stop-color="#0f5e39"/><stop offset="0.375" stop-color="#0e614b"/><stop offset="0.5" stop-color="#0e635d"/><stop offset="0.625" stop-color="#10626f"/><stop offset="0.75" stop-color="#11607e"/><stop offset="0.875" stop-color="#135d8d"/><stop offset="1" stop-color="#145b9a"/></linearGradient><linearGradient id="gb13" gradientUnits="userSpaceOnUse" x1="388.5" y1="159.6" x2="493.2" y2="51.9"><stop offset="0" stop-color="#0f5812"/><stop offset="0.125" stop-color="#0f5b26"/><stop offset="0.25" stop-color="#0e5e38"/><stop offset="0.375" stop-color="#0e604b"/><stop offset="0.5" stop-color="#0e625c"/><stop offset="0.625" stop-color="#0f616d"/><stop offset="0.75" stop-color="#115e7d"/><stop offset="0.875" stop-color="#135b8b"/><stop offset="1" stop-color="#145997"/></linearGradient><linearGradient id="gb14" gradientUnits="userSpaceOnUse" x1="386.5" y1="159" x2="491.2" y2="52"><stop offset="0" stop-color="#0f5812"/><stop offset="0.125" stop-color="#0f5b25"/><stop offset="0.25" stop-color="#0e5e38"/><stop offset="0.375" stop-color="#0e604b"/><stop offset="0.5" stop-color="#0e615b"/><stop offset="0.625" stop-color="#0f606c"/><stop offset="0.75" stop-color="#115d7b"/><stop offset="0.875" stop-color="#125a89"/><stop offset="1" stop-color="#135794"/></linearGradient><linearGradient id="gb15" gradientUnits="userSpaceOnUse" x1="384.5" y1="158.4" x2="489.3" y2="52.2"><stop offset="0" stop-color="#0f5812"/><stop offset="0.125" stop-color="#0f5b25"/><stop offset="0.25" stop-color="#0e5d38"/><stop offset="0.375" stop-color="#0e5f4a"/><stop offset="0.5" stop-color="#0e615a"/><stop offset="0.625" stop-color="#0f5f6b"/><stop offset="0.75" stop-color="#105c79"/><stop offset="0.875" stop-color="#125886"/><stop offset="1" stop-color="#135590"/></linearGradient><linearGradient id="gb16" gradientUnits="userSpaceOnUse" x1="382.5" y1="157.8" x2="487.3" y2="52.4"><stop offset="0" stop-color="#0f5812"/><stop offset="0.125" stop-color="#0f5a25"/><stop offset="0.25" stop-color="#0e5d38"/><stop offset="0.375" stop-color="#0e5f4a"/><stop offset="0.5" stop-color="#0d605a"/><stop offset="0.625" stop-color="#0f5e6a"/><stop offset="0.75" stop-color="#105a78"/><stop offset="0.875" stop-color="#125784"/><stop offset="1" stop-color="#12538d"/></linearGradient><linearGradient id="gb17" gradientUnits="userSpaceOnUse" x1="380.6" y1="157.2" x2="485.3" y2="52.7"><stop offset="0" stop-color="#0f5712"/><stop offset="0.125" stop-color="#0f5a25"/><stop offset="0.25" stop-color="#0e5c37"/><stop offset="0.375" stop-color="#0e5e49"/><stop offset="0.5" stop-color="#0d5f59"/><stop offset="0.625" stop-color="#0f5d69"/><stop offset="0.75" stop-color="#105976"/><stop offset="0.875" stop-color="#115581"/><stop offset="1" stop-color="#125189"/></linearGradient><linearGradient id="gb18" gradientUnits="userSpaceOnUse" x1="378.6" y1="156.5" x2="483.3" y2="52.9"><stop offset="0" stop-color="#0f5712"/><stop offset="0.125" stop-color="#0e5a25"/><stop offset="0.25" stop-color="#0e5c37"/><stop offset="0.375" stop-color="#0e5d49"/><stop offset="0.5" stop-color="#0d5e58"/><stop offset="0.625" stop-color="#0f5c68"/><stop offset="0.75" stop-color="#105874"/><stop offset="0.875" stop-color="#11537f"/><stop offset="1" stop-color="#124f86"/></linearGradient><linearGradient id="gb19" gradientUnits="userSpaceOnUse" x1="376.6" y1="155.9" x2="481.4" y2="53.2"><stop offset="0" stop-color="#0f5712"/><stop offset="0.125" stop-color="#0e5925"/><stop offset="0.25" stop-color="#0e5b37"/><stop offset="0.375" stop-color="#0e5d48"/><stop offset="0.5" stop-color="#0d5d57"/><stop offset="0.625" stop-color="#0e5b66"/><stop offset="0.75" stop-color="#105672"/><stop offset="0.875" stop-color="#11527c"/><stop offset="1" stop-color="#114d82"/></linearGradient><linearGradient id="gb20" gradientUnits="userSpaceOnUse" x1="374.6" y1="155.3" x2="479.4" y2="53.6"><stop offset="0" stop-color="#0f5712"/><stop offset="0.125" stop-color="#0e5925"/><stop offset="0.25" stop-color="#0e5b37"/><stop offset="0.375" stop-color="#0e5c48"/><stop offset="0.5" stop-color="#0d5c57"/><stop offset="0.625" stop-color="#0e5965"/><stop offset="0.75" stop-color="#0f5571"/><stop offset="0.875" stop-color="#105079"/><stop offset="1" stop-color="#114a7f"/></linearGradient><linearGradient id="gb21" gradientUnits="userSpaceOnUse" x1="372.7" y1="154.7" x2="477.4" y2="53.9"><stop offset="0" stop-color="#0f5712"/><stop offset="0.125" stop-color="#0e5925"/><stop offset="0.25" stop-color="#0e5a36"/><stop offset="0.375" stop-color="#0d5b47"/><stop offset="0.5" stop-color="#0d5c56"/><stop offset="0.625" stop-color="#0e5864"/><stop offset="0.75" stop-color="#0f546f"/><stop offset="0.875" stop-color="#104e77"/><stop offset="1" stop-color="#10487b"/></linearGradient><linearGradient id="gb22" gradientUnits="userSpaceOnUse" x1="370.7" y1="154.1" x2="475.4" y2="54.3"><stop offset="0" stop-color="#0f5612"/><stop offset="0.125" stop-color="#0e5824"/><stop offset="0.25" stop-color="#0e5a36"/><stop offset="0.375" stop-color="#0d5b47"/><stop offset="0.5" stop-color="#0d5b55"/><stop offset="0.625" stop-color="#0e5763"/><stop offset="0.75" stop-color="#0f526d"/><stop offset="0.875" stop-color="#104c74"/><stop offset="1" stop-color="#104677"/></linearGradient><linearGradient id="gb23" gradientUnits="userSpaceOnUse" x1="368.7" y1="153.5" x2="473.5" y2="54.7"><stop offset="0" stop-color="#0f5611"/><stop offset="0.125" stop-color="#0e5824"/><stop offset="0.25" stop-color="#0e5936"/><stop offset="0.375" stop-color="#0d5a46"/><stop offset="0.5" stop-color="#0d5a54"/><stop offset="0.625" stop-color="#0e5661"/><stop offset="0.75" stop-color="#0e506b"/><stop offset="0.875" stop-color="#0f4a71"/><stop offset="1" stop-color="#0f4373"/></linearGradient><linearGradient id="gb24" gradientUnits="userSpaceOnUse" x1="366.7" y1="152.9" x2="471.5" y2="55.1"><stop offset="0" stop-color="#0f5611"/><stop offset="0.125" stop-color="#0e5824"/><stop offset="0.25" stop-color="#0e5935"/><stop offset="0.375" stop-color="#0d5946"/><stop offset="0.5" stop-color="#0c5953"/><stop offset="0.625" stop-color="#0d5460"/><stop offset="0.75" stop-color="#0e4f68"/><stop offset="0.875" stop-color="#0f486d"/><stop offset="1" stop-color="#0e416e"/></linearGradient><linearGradient id="gb25" gradientUnits="userSpaceOnUse" x1="364.8" y1="152.2" x2="469.5" y2="55.5"><stop offset="0" stop-color="#0e5511"/><stop offset="0.125" stop-color="#0e5724"/><stop offset="0.25" stop-color="#0e5835"/><stop offset="0.375" stop-color="#0d5845"/><stop offset="0.5" stop-color="#0c5852"/><stop offset="0.625" stop-color="#0d535e"/><stop offset="0.75" stop-color="#0e4d66"/><stop offset="0.875" stop-color="#0e466a"/><stop offset="1" stop-color="#0e3e69"/></linearGradient><linearGradient id="gb26" gradientUnits="userSpaceOnUse" x1="362.8" y1="151.6" x2="467.6" y2="56"><stop offset="0" stop-color="#0e5511"/><stop offset="0.125" stop-color="#0e5724"/><stop offset="0.25" stop-color="#0d5835"/><stop offset="0.375" stop-color="#0d5844"/><stop offset="0.5" stop-color="#0c5651"/><stop offset="0.625" stop-color="#0d525c"/><stop offset="0.75" stop-color="#0d4b63"/><stop offset="0.875" stop-color="#0e4366"/><stop offset="1" stop-color="#0d3b64"/></linearGradient><linearGradient id="gb27" gradientUnits="userSpaceOnUse" x1="360.8" y1="151" x2="465.6" y2="56.5"><stop offset="0" stop-color="#0e5511"/><stop offset="0.125" stop-color="#0e5623"/><stop offset="0.25" stop-color="#0d5734"/><stop offset="0.375" stop-color="#0d5744"/><stop offset="0.5" stop-color="#0c5550"/><stop offset="0.625" stop-color="#0d505a"/><stop offset="0.75" stop-color="#0d4960"/><stop offset="0.875" stop-color="#0d4162"/><stop offset="1" stop-color="#0c385f"/></linearGradient><linearGradient id="gb28" gradientUnits="userSpaceOnUse" x1="358.8" y1="150.4" x2="463.6" y2="57"><stop offset="0" stop-color="#0e5411"/><stop offset="0.125" stop-color="#0e5623"/><stop offset="0.25" stop-color="#0d5634"/><stop offset="0.375" stop-color="#0d5643"/><stop offset="0.5" stop-color="#0c544e"/><stop offset="0.625" stop-color="#0c4e58"/><stop offset="0.75" stop-color="#0d475d"/><stop offset="0.875" stop-color="#0d3e5e"/><stop offset="1" stop-color="#0c3459"/></linearGradient><linearGradient id="gb29" gradientUnits="userSpaceOnUse" x1="356.9" y1="149.8" x2="461.6" y2="57.6"><stop offset="0" stop-color="#0e5411"/><stop offset="0.125" stop-color="#0e5523"/><stop offset="0.25" stop-color="#0d5633"/><stop offset="0.375" stop-color="#0c5542"/><stop offset="0.5" stop-color="#0c524d"/><stop offset="0.625" stop-color="#0c4c56"/><stop offset="0.75" stop-color="#0c445a"/><stop offset="0.875" stop-color="#0c3b59"/><stop offset="1" stop-color="#0b3153"/></linearGradient><linearGradient id="gb30" gradientUnits="userSpaceOnUse" x1="354.9" y1="149.2" x2="459.7" y2="58.2"><stop offset="0" stop-color="#0e5411"/><stop offset="0.125" stop-color="#0e5523"/><stop offset="0.25" stop-color="#0d5533"/><stop offset="0.375" stop-color="#0c5341"/><stop offset="0.5" stop-color="#0b514c"/><stop offset="0.625" stop-color="#0c4a54"/><stop offset="0.75" stop-color="#0c4157"/><stop offset="0.875" stop-color="#0b3754"/><stop offset="1" stop-color="#0a2d4d"/></linearGradient><linearGradient id="gb31" gradientUnits="userSpaceOnUse" x1="352.9" y1="148.6" x2="457.7" y2="58.8"><stop offset="0" stop-color="#0e5311"/><stop offset="0.125" stop-color="#0e5423"/><stop offset="0.25" stop-color="#0d5432"/><stop offset="0.375" stop-color="#0c5240"/><stop offset="0.5" stop-color="#0b4f4a"/><stop offset="0.625" stop-color="#0b4851"/><stop offset="0.75" stop-color="#0b3e53"/><stop offset="0.875" stop-color="#0b344f"/><stop offset="1" stop-color="#092946"/></linearGradient><linearGradient id="gb32" gradientUnits="userSpaceOnUse" x1="350.9" y1="147.9" x2="455.7" y2="59.4"><stop offset="0" stop-color="#0e5311"/><stop offset="0.125" stop-color="#0d5322"/><stop offset="0.25" stop-color="#0d5332"/><stop offset="0.375" stop-color="#0c513f"/><stop offset="0.5" stop-color="#0b4d48"/><stop offset="0.625" stop-color="#0b454e"/><stop offset="0.75" stop-color="#0b3b4e"/><stop offset="0.875" stop-color="#0a3049"/><stop offset="1" stop-color="#08253f"/></linearGradient><linearGradient id="gb33" gradientUnits="userSpaceOnUse" x1="349" y1="147.3" x2="453.7" y2="60.1"><stop offset="0" stop-color="#0e5211"/><stop offset="0.125" stop-color="#0d5322"/><stop offset="0.25" stop-color="#0d5231"/><stop offset="0.375" stop-color="#0c4f3e"/><stop offset="0.5" stop-color="#0b4b46"/><stop offset="0.625" stop-color="#0b424b"/><stop offset="0.75" stop-color="#0a384a"/><stop offset="0.875" stop-color="#092c43"/><stop offset="1" stop-color="#072139"/></linearGradient><linearGradient id="gb34" gradientUnits="userSpaceOnUse" x1="347" y1="146.7" x2="451.8" y2="60.9"><stop offset="0" stop-color="#0e5211"/><stop offset="0.125" stop-color="#0d5222"/><stop offset="0.25" stop-color="#0c5131"/><stop offset="0.375" stop-color="#0b4e3d"/><stop offset="0.5" stop-color="#0a4944"/><stop offset="0.625" stop-color="#0a3f48"/><stop offset="0.75" stop-color="#093445"/><stop offset="0.875" stop-color="#08283c"/><stop offset="1" stop-color="#071e32"/></linearGradient><linearGradient id="gb35" gradientUnits="userSpaceOnUse" x1="345" y1="146.1" x2="449.8" y2="61.7"><stop offset="0" stop-color="#0e5111"/><stop offset="0.125" stop-color="#0d5121"/><stop offset="0.25" stop-color="#0c5030"/><stop offset="0.375" stop-color="#0b4c3b"/><stop offset="0.5" stop-color="#0a4642"/><stop offset="0.625" stop-color="#0a3c44"/><stop offset="0.75" stop-color="#09303f"/><stop offset="0.875" stop-color="#072436"/><stop offset="1" stop-color="#061b2d"/></linearGradient><linearGradient id="gb36" gradientUnits="userSpaceOnUse" x1="343" y1="145.5" x2="447.8" y2="62.5"><stop offset="0" stop-color="#0e5110"/><stop offset="0.125" stop-color="#0d5021"/><stop offset="0.25" stop-color="#0c4e2f"/><stop offset="0.375" stop-color="#0b4a3a"/><stop offset="0.5" stop-color="#09433f"/><stop offset="0.625" stop-color="#093840"/><stop offset="0.75" stop-color="#082b39"/><stop offset="0.875" stop-color="#062030"/><stop offset="1" stop-color="#051829"/></linearGradient><linearGradient id="gb37" gradientUnits="userSpaceOnUse" x1="341.1" y1="144.9" x2="445.8" y2="63.4"><stop offset="0" stop-color="#0e5010"/><stop offset="0.125" stop-color="#0d5021"/><stop offset="0.25" stop-color="#0c4d2e"/><stop offset="0.375" stop-color="#0b4838"/><stop offset="0.5" stop-color="#09403c"/><stop offset="0.625" stop-color="#08343b"/><stop offset="0.75" stop-color="#072734"/><stop offset="0.875" stop-color="#061c2a"/><stop offset="1" stop-color="#051727"/></linearGradient><linearGradient id="gb38" gradientUnits="userSpaceOnUse" x1="339.1" y1="144.3" x2="443.9" y2="64.3"><stop offset="0" stop-color="#0e5010"/><stop offset="0.125" stop-color="#0d4f20"/><stop offset="0.25" stop-color="#0c4b2d"/><stop offset="0.375" stop-color="#0a4636"/><stop offset="0.5" stop-color="#093d39"/><stop offset="0.625" stop-color="#083036"/><stop offset="0.75" stop-color="#06232e"/><stop offset="0.875" stop-color="#051926"/><stop offset="1" stop-color="#051626"/></linearGradient><linearGradient id="gb39" gradientUnits="userSpaceOnUse" x1="337.1" y1="143.6" x2="441.9" y2="65.3"><stop offset="0" stop-color="#0d4f10"/><stop offset="0.125" stop-color="#0d4e20"/><stop offset="0.25" stop-color="#0b4a2c"/><stop offset="0.375" stop-color="#0a4334"/><stop offset="0.5" stop-color="#083936"/><stop offset="0.625" stop-color="#072c31"/><stop offset="0.75" stop-color="#051e28"/><stop offset="0.875" stop-color="#051723"/><stop offset="1" stop-color="#051626"/></linearGradient><linearGradient id="gb40" gradientUnits="userSpaceOnUse" x1="335.2" y1="143" x2="439.9" y2="66.4"><stop offset="0" stop-color="#0d4e10"/><stop offset="0.125" stop-color="#0c4c1f"/><stop offset="0.25" stop-color="#0b482b"/><stop offset="0.375" stop-color="#094032"/><stop offset="0.5" stop-color="#083532"/><stop offset="0.625" stop-color="#06272c"/><stop offset="0.75" stop-color="#051b24"/><stop offset="0.875" stop-color="#051622"/><stop offset="1" stop-color="#051626"/></linearGradient><linearGradient id="gb41" gradientUnits="userSpaceOnUse" x1="333.2" y1="142.4" x2="437.9" y2="67.5"><stop offset="0" stop-color="#0d4e10"/><stop offset="0.125" stop-color="#0c4b1f"/><stop offset="0.25" stop-color="#0b462a"/><stop offset="0.375" stop-color="#093d30"/><stop offset="0.5" stop-color="#07312e"/><stop offset="0.625" stop-color="#062327"/><stop offset="0.75" stop-color="#041820"/><stop offset="0.875" stop-color="#051621"/><stop offset="1" stop-color="#051626"/></linearGradient><linearGradient id="gb42" gradientUnits="userSpaceOnUse" x1="331.2" y1="141.8" x2="436" y2="68.7"><stop offset="0" stop-color="#0d4d10"/><stop offset="0.125" stop-color="#0c4a1e"/><stop offset="0.25" stop-color="#0a4429"/><stop offset="0.375" stop-color="#093a2d"/><stop offset="0.5" stop-color="#062d2a"/><stop offset="0.625" stop-color="#051e22"/><stop offset="0.75" stop-color="#04171e"/><stop offset="0.875" stop-color="#051621"/><stop offset="1" stop-color="#051626"/></linearGradient><linearGradient id="gb43" gradientUnits="userSpaceOnUse" x1="329.2" y1="141.2" x2="434" y2="69.9"><stop offset="0" stop-color="#0d4c0f"/><stop offset="0.125" stop-color="#0c481e"/><stop offset="0.25" stop-color="#0a4127"/><stop offset="0.375" stop-color="#08362a"/><stop offset="0.5" stop-color="#062826"/><stop offset="0.625" stop-color="#041b1e"/><stop offset="0.75" stop-color="#04161d"/><stop offset="0.875" stop-color="#051621"/><stop offset="1" stop-color="#051626"/></linearGradient><linearGradient id="gb44" gradientUnits="userSpaceOnUse" x1="327.3" y1="140.6" x2="432" y2="71.2"><stop offset="0" stop-color="#0d4b0f"/><stop offset="0.125" stop-color="#0b471d"/><stop offset="0.25" stop-color="#0a3f26"/><stop offset="0.375" stop-color="#073327"/><stop offset="0.5" stop-color="#052421"/><stop offset="0.625" stop-color="#04181b"/><stop offset="0.75" stop-color="#04161d"/><stop offset="0.875" stop-color="#051621"/><stop offset="1" stop-color="#051626"/></linearGradient></defs>
<g filter="url(#bl)"><path d="M415.1 167.9L519.9 54.4L516.7 53.5L411.9 166.9Z" fill="url(#gb0)"/><path d="M413.1 167.3L517.9 53.8L514.7 53L410 166.3Z" fill="url(#gb1)"/><path d="M411.2 166.7L515.9 53.3L512.8 52.6L408 165.7Z" fill="url(#gb2)"/><path d="M409.2 166.1L513.9 52.9L510.8 52.3L406 165.1Z" fill="url(#gb3)"/><path d="M407.2 165.4L512 52.5L508.8 52.1L404 164.5Z" fill="url(#gb4)"/><path d="M405.2 164.8L510 52.2L506.8 51.9L402.1 163.8Z" fill="url(#gb5)"/><path d="M403.3 164.2L508 52L504.9 51.7L400.1 163.2Z" fill="url(#gb6)"/><path d="M401.3 163.6L506 51.8L502.9 51.6L398.1 162.6Z" fill="url(#gb7)"/><path d="M399.3 163L504.1 51.7L500.9 51.6L396.1 162Z" fill="url(#gb8)"/><path d="M397.3 162.4L502.1 51.6L498.9 51.6L394.2 161.4Z" fill="url(#gb9)"/><path d="M395.4 161.8L500.1 51.6L497 51.7L392.2 160.8Z" fill="url(#gb10)"/><path d="M393.4 161.1L498.1 51.6L495 51.7L390.2 160.2Z" fill="url(#gb11)"/><path d="M391.4 160.5L496.2 51.7L493 51.9L388.3 159.5Z" fill="url(#gb12)"/><path d="M389.4 159.9L494.2 51.8L491 52L386.3 158.9Z" fill="url(#gb13)"/><path d="M387.5 159.3L492.2 51.9L489.1 52.2L384.3 158.3Z" fill="url(#gb14)"/><path d="M385.5 158.7L490.3 52.1L487.1 52.4L382.3 157.7Z" fill="url(#gb15)"/><path d="M383.5 158.1L488.3 52.3L485.1 52.7L380.4 157.1Z" fill="url(#gb16)"/><path d="M381.5 157.5L486.3 52.5L483.1 53L378.4 156.5Z" fill="url(#gb17)"/><path d="M379.6 156.8L484.3 52.8L481.2 53.3L376.4 155.9Z" fill="url(#gb18)"/><path d="M377.6 156.2L482.4 53.1L479.2 53.6L374.4 155.3Z" fill="url(#gb19)"/><path d="M375.6 155.6L480.4 53.4L477.2 53.9L372.5 154.6Z" fill="url(#gb20)"/><path d="M373.6 155L478.4 53.7L475.2 54.3L370.5 154Z" fill="url(#gb21)"/><path d="M371.7 154.4L476.4 54.1L473.3 54.7L368.5 153.4Z" fill="url(#gb22)"/><path d="M369.7 153.8L474.5 54.5L471.3 55.1L366.5 152.8Z" fill="url(#gb23)"/><path d="M367.7 153.2L472.5 54.9L469.3 55.6L364.6 152.2Z" fill="url(#gb24)"/><path d="M365.8 152.6L470.5 55.3L467.4 56.1L362.6 151.6Z" fill="url(#gb25)"/><path d="M363.8 151.9L468.5 55.8L465.4 56.6L360.6 151Z" fill="url(#gb26)"/><path d="M361.8 151.3L466.6 56.3L463.4 57.1L358.6 150.3Z" fill="url(#gb27)"/><path d="M359.8 150.7L464.6 56.8L461.4 57.6L356.7 149.7Z" fill="url(#gb28)"/><path d="M357.9 150.1L462.6 57.3L459.5 58.2L354.7 149.1Z" fill="url(#gb29)"/><path d="M355.9 149.5L460.6 57.9L457.5 58.9L352.7 148.5Z" fill="url(#gb30)"/><path d="M353.9 148.9L458.7 58.5L455.5 59.5L350.7 147.9Z" fill="url(#gb31)"/><path d="M351.9 148.3L456.7 59.1L453.5 60.2L348.8 147.3Z" fill="url(#gb32)"/><path d="M350 147.6L454.7 59.8L451.6 61L346.8 146.7Z" fill="url(#gb33)"/><path d="M348 147L452.7 60.5L449.6 61.8L344.8 146Z" fill="url(#gb34)"/><path d="M346 146.4L450.8 61.3L447.6 62.6L342.9 145.4Z" fill="url(#gb35)"/><path d="M344 145.8L448.8 62.1L445.6 63.5L340.9 144.8Z" fill="url(#gb36)"/><path d="M342.1 145.2L446.8 62.9L443.7 64.4L338.9 144.2Z" fill="url(#gb37)"/><path d="M340.1 144.6L444.8 63.8L441.7 65.4L336.9 143.6Z" fill="url(#gb38)"/><path d="M338.1 144L442.9 64.8L439.7 66.5L335 143Z" fill="url(#gb39)"/><path d="M336.1 143.3L440.9 65.8L437.7 67.6L333 142.4Z" fill="url(#gb40)"/><path d="M334.2 142.7L438.9 66.9L435.8 68.8L331 141.7Z" fill="url(#gb41)"/><path d="M332.2 142.1L437 68.1L433.8 70.1L329 141.1Z" fill="url(#gb42)"/><path d="M330.2 141.5L435 69.3L431.8 71.4L327.1 140.5Z" fill="url(#gb43)"/><path d="M328.2 140.9L433 70.6L431 71.9L326.3 140.3Z" fill="url(#gb44)"/>
<path d="M415.1 167.9L326.3 140.3M416.4 166.5L413.4 165.6L410.5 164.6L407.5 163.7L404.6 162.8L401.6 161.9L398.6 161L395.7 160.1L392.7 159.2L389.8 158.3L386.8 157.4L383.8 156.5L380.9 155.5L377.9 154.6L375 153.7L372 152.8L369 151.9L366.1 151L363.1 150.1L360.2 149.2L357.2 148.3L354.2 147.4L351.3 146.5L348.3 145.6L345.3 144.7L342.4 143.9L339.4 143L336.5 142.1L333.5 141.2L330.5 140.3L327.6 139.4M417.7 165.1L414.8 164.1L411.8 163.2L408.8 162.3L405.9 161.4L402.9 160.5L400 159.6L397 158.7L394 157.8L391.1 156.9L388.1 156L385.1 155.1L382.2 154.2L379.2 153.4L376.3 152.5L373.3 151.6L370.3 150.7L367.4 149.8L364.4 148.9L361.5 148.1L358.5 147.2L355.5 146.3L352.6 145.4L349.6 144.6L346.7 143.7L343.7 142.8L340.7 142L337.8 141.1L334.8 140.3L331.9 139.4L328.9 138.6M419 163.6L416.1 162.7L413.1 161.8L410.1 160.9L407.2 160L404.2 159.1L401.3 158.2L398.3 157.3L395.3 156.5L392.4 155.6L389.4 154.7L386.5 153.8L383.5 152.9L380.5 152.1L377.6 151.2L374.6 150.3L371.7 149.5L368.7 148.6L365.7 147.8L362.8 146.9L359.8 146L356.8 145.2L353.9 144.3L350.9 143.5L348 142.7L345 141.8L342 141L339.1 140.2L336.1 139.3L333.2 138.5L330.2 137.7M420.3 162.2L417.4 161.3L414.4 160.4L411.5 159.5L408.5 158.6L405.5 157.7L402.6 156.8L399.6 156L396.7 155.1L393.7 154.2L390.7 153.4L387.8 152.5L384.8 151.6L381.8 150.8L378.9 149.9L375.9 149.1L373 148.3L370 147.4L367 146.6L364.1 145.7L361.1 144.9L358.2 144.1L355.2 143.2L352.2 142.4L349.3 141.6L346.3 140.8L343.4 140L340.4 139.2L337.4 138.4L334.5 137.6L331.5 136.9M421.6 160.8L418.7 159.9L415.7 159L412.8 158.1L409.8 157.2L406.8 156.3L403.9 155.5L400.9 154.6L398 153.7L395 152.9L392 152L389.1 151.2L386.1 150.3L383.2 149.5L380.2 148.7L377.2 147.8L374.3 147L371.3 146.2L368.3 145.4L365.4 144.6L362.4 143.8L359.5 142.9L356.5 142.1L353.5 141.4L350.6 140.6L347.6 139.8L344.7 139L341.7 138.2L338.7 137.5L335.8 136.7L332.8 136M423 159.4L420 158.5L417 157.6L414.1 156.7L411.1 155.8L408.2 154.9L405.2 154.1L402.2 153.2L399.3 152.4L396.3 151.5L393.3 150.7L390.4 149.9L387.4 149L384.5 148.2L381.5 147.4L378.5 146.6L375.6 145.8L372.6 145L369.7 144.2L366.7 143.4L363.7 142.6L360.8 141.8L357.8 141L354.9 140.3L351.9 139.5L348.9 138.8L346 138L343 137.3L340 136.6L337.1 135.8L334.1 135.1M424.3 158L421.3 157.1L418.3 156.2L415.4 155.3L412.4 154.4L409.5 153.5L406.5 152.7L403.5 151.8L400.6 151L397.6 150.2L394.7 149.4L391.7 148.6L388.7 147.7L385.8 146.9L382.8 146.1L379.9 145.4L376.9 144.6L373.9 143.8L371 143L368 142.2L365 141.5L362.1 140.7L359.1 140L356.2 139.2L353.2 138.5L350.2 137.7L347.3 137L344.3 136.3L341.4 135.6L338.4 135L335.4 134.3M425.6 156.6L422.6 155.6L419.7 154.7L416.7 153.9L413.7 153L410.8 152.1L407.8 151.3L404.8 150.5L401.9 149.6L398.9 148.8L396 148L393 147.2L390 146.4L387.1 145.7L384.1 144.9L381.2 144.1L378.2 143.3L375.2 142.6L372.3 141.8L369.3 141.1L366.4 140.3L363.4 139.6L360.4 138.9L357.5 138.1L354.5 137.4L351.6 136.7L348.6 136L345.6 135.4L342.7 134.7L339.7 134.1L336.7 133.4M426.9 155.1L423.9 154.2L421 153.3L418 152.4L415 151.6L412.1 150.7L409.1 149.9L406.2 149.1L403.2 148.3L400.2 147.5L397.3 146.7L394.3 145.9L391.4 145.1L388.4 144.4L385.4 143.6L382.5 142.9L379.5 142.1L376.5 141.4L373.6 140.6L370.6 139.9L367.7 139.2L364.7 138.5L361.7 137.8L358.8 137.1L355.8 136.4L352.9 135.7L349.9 135.1L346.9 134.4L344 133.8L341 133.2L338.1 132.6M428.2 153.7L425.2 152.8L422.3 151.9L419.3 151L416.4 150.2L413.4 149.3L410.4 148.5L407.5 147.7L404.5 146.9L401.5 146.1L398.6 145.4L395.6 144.6L392.7 143.8L389.7 143.1L386.7 142.3L383.8 141.6L380.8 140.9L377.9 140.2L374.9 139.4L371.9 138.7L369 138L366 137.3L363.1 136.7L360.1 136L357.1 135.3L354.2 134.7L351.2 134.1L348.2 133.5L345.3 132.9L342.3 132.3L339.4 131.7M429.5 152.3L426.5 151.4L423.6 150.5L420.6 149.6L417.7 148.8L414.7 148L411.7 147.1L408.8 146.3L405.8 145.6L402.9 144.8L399.9 144L396.9 143.3L394 142.5L391 141.8L388.1 141.1L385.1 140.4L382.1 139.7L379.2 138.9L376.2 138.2L373.2 137.6L370.3 136.9L367.3 136.2L364.4 135.6L361.4 134.9L358.4 134.3L355.5 133.7L352.5 133.1L349.6 132.5L346.6 131.9L343.6 131.4L340.7 130.9M430.8 150.9L427.9 150L424.9 149.1L421.9 148.2L419 147.4L416 146.6L413 145.8L410.1 145L407.1 144.2L404.2 143.4L401.2 142.7L398.2 142L395.3 141.2L392.3 140.5L389.4 139.8L386.4 139.1L383.4 138.4L380.5 137.7L377.5 137.1L374.6 136.4L371.6 135.7L368.6 135.1L365.7 134.5L362.7 133.8L359.8 133.2L356.8 132.7L353.8 132.1L350.9 131.5L347.9 131L344.9 130.5L342 130M432.1 149.5L429.2 148.5L426.2 147.7L423.2 146.8L420.3 146L417.3 145.2L414.4 144.4L411.4 143.6L408.4 142.8L405.5 142.1L402.5 141.4L399.6 140.7L396.6 139.9L393.6 139.2L390.7 138.5L387.7 137.9L384.7 137.2L381.8 136.5L378.8 135.9L375.9 135.2L372.9 134.6L369.9 134L367 133.4L364 132.8L361.1 132.2L358.1 131.6L355.1 131.1L352.2 130.6L349.2 130.1L346.3 129.6L343.3 129.2M433.4 148L430.5 147.1L427.5 146.3L424.6 145.4L421.6 144.6L418.6 143.8L415.7 143L412.7 142.2L409.7 141.5L406.8 140.8L403.8 140L400.9 139.3L397.9 138.6L394.9 138L392 137.3L389 136.6L386.1 136L383.1 135.3L380.1 134.7L377.2 134.1L374.2 133.4L371.3 132.8L368.3 132.3L365.3 131.7L362.4 131.1L359.4 130.6L356.4 130.1L353.5 129.6L350.5 129.2L347.6 128.7L344.6 128.3M434.7 146.6L431.8 145.7L428.8 144.8L425.9 144L422.9 143.2L419.9 142.4L417 141.6L414 140.9L411.1 140.1L408.1 139.4L405.1 138.7L402.2 138L399.2 137.3L396.2 136.7L393.3 136L390.3 135.4L387.4 134.7L384.4 134.1L381.4 133.5L378.5 132.9L375.5 132.3L372.6 131.7L369.6 131.2L366.6 130.6L363.7 130.1L360.7 129.6L357.8 129.1L354.8 128.7L351.8 128.2L348.9 127.8L345.9 127.5M436.1 145.2L433.1 144.3L430.1 143.4L427.2 142.6L424.2 141.8L421.2 141L418.3 140.2L415.3 139.5L412.4 138.8L409.4 138.1L406.4 137.4L403.5 136.7L400.5 136L397.6 135.4L394.6 134.8L391.6 134.1L388.7 133.5L385.7 132.9L382.8 132.3L379.8 131.7L376.8 131.2L373.9 130.6L370.9 130.1L367.9 129.6L365 129.1L362 128.6L359.1 128.1L356.1 127.7L353.1 127.3L350.2 126.9L347.2 126.6M437.4 143.8L434.4 142.9L431.4 142L428.5 141.2L425.5 140.4L422.6 139.6L419.6 138.8L416.6 138.1L413.7 137.4L410.7 136.7L407.8 136L404.8 135.4L401.8 134.7L398.9 134.1L395.9 133.5L392.9 132.9L390 132.3L387 131.7L384.1 131.1L381.1 130.6L378.1 130L375.2 129.5L372.2 129L369.3 128.5L366.3 128L363.3 127.6L360.4 127.1L357.4 126.7L354.5 126.4L351.5 126L348.5 125.7M438.7 142.4L435.7 141.5L432.7 140.6L429.8 139.8L426.8 139L423.9 138.2L420.9 137.5L417.9 136.7L415 136L412 135.4L409.1 134.7L406.1 134.1L403.1 133.4L400.2 132.8L397.2 132.2L394.3 131.6L391.3 131.1L388.3 130.5L385.4 129.9L382.4 129.4L379.5 128.9L376.5 128.4L373.5 127.9L370.6 127.4L367.6 127L364.6 126.5L361.7 126.1L358.7 125.8L355.8 125.5L352.8 125.2L349.8 124.9M440 141L437 140L434.1 139.2L431.1 138.3L428.1 137.6L425.2 136.8L422.2 136.1L419.3 135.4L416.3 134.7L413.3 134L410.4 133.4L407.4 132.7L404.4 132.1L401.5 131.5L398.5 131L395.6 130.4L392.6 129.8L389.6 129.3L386.7 128.7L383.7 128.2L380.8 127.7L377.8 127.2L374.8 126.8L371.9 126.3L368.9 125.9L366 125.5L363 125.2L360 124.8L357.1 124.5L354.1 124.3L351.2 124M441.3 139.5L438.3 138.6L435.4 137.8L432.4 136.9L429.4 136.2L426.5 135.4L423.5 134.7L420.6 134L417.6 133.3L414.6 132.7L411.7 132L408.7 131.4L405.8 130.8L402.8 130.3L399.8 129.7L396.9 129.1L393.9 128.6L391 128.1L388 127.6L385 127.1L382.1 126.6L379.1 126.1L376.1 125.7L373.2 125.3L370.2 124.9L367.3 124.5L364.3 124.2L361.3 123.9L358.4 123.6L355.4 123.4L352.5 123.2M442.6 138.1L439.6 137.2L436.7 136.3L433.7 135.5L430.8 134.8L427.8 134L424.8 133.3L421.9 132.6L418.9 132L416 131.3L413 130.7L410 130.1L407.1 129.5L404.1 129L401.1 128.4L398.2 127.9L395.2 127.4L392.3 126.9L389.3 126.4L386.3 125.9L383.4 125.4L380.4 125L377.5 124.6L374.5 124.2L371.5 123.8L368.6 123.5L365.6 123.2L362.7 122.9L359.7 122.7L356.7 122.5L353.8 122.3M443.9 136.7L440.9 135.8L438 134.9L435 134.1L432.1 133.3L429.1 132.6L426.1 131.9L423.2 131.2L420.2 130.6L417.3 130L414.3 129.4L411.3 128.8L408.4 128.2L405.4 127.7L402.5 127.2L399.5 126.6L396.5 126.1L393.6 125.6L390.6 125.2L387.7 124.7L384.7 124.3L381.7 123.9L378.8 123.5L375.8 123.1L372.8 122.8L369.9 122.5L366.9 122.2L364 122L361 121.8L358 121.6L355.1 121.5M445.2 135.3L442.3 134.4L439.3 133.5L436.3 132.7L433.4 131.9L430.4 131.2L427.5 130.5L424.5 129.9L421.5 129.2L418.6 128.6L415.6 128L412.6 127.5L409.7 126.9L406.7 126.4L403.8 125.9L400.8 125.4L397.8 124.9L394.9 124.4L391.9 124L389 123.6L386 123.1L383 122.8L380.1 122.4L377.1 122L374.2 121.7L371.2 121.4L368.2 121.2L365.3 121L362.3 120.8L359.4 120.7L356.4 120.6M446.5 133.9L443.6 133L440.6 132.1L437.6 131.3L434.7 130.5L431.7 129.8L428.8 129.1L425.8 128.5L422.8 127.9L419.9 127.3L416.9 126.7L414 126.2L411 125.6L408 125.1L405.1 124.6L402.1 124.1L399.2 123.7L396.2 123.2L393.2 122.8L390.3 122.4L387.3 122L384.3 121.6L381.4 121.3L378.4 121L375.5 120.7L372.5 120.4L369.5 120.2L366.6 120L363.6 119.9L360.7 119.8L357.7 119.8M447.8 132.4L444.9 131.5L441.9 130.7L439 129.9L436 129.1L433 128.4L430.1 127.8L427.1 127.1L424.2 126.5L421.2 125.9L418.2 125.4L415.3 124.8L412.3 124.3L409.3 123.8L406.4 123.4L403.4 122.9L400.5 122.5L397.5 122L394.5 121.6L391.6 121.2L388.6 120.9L385.7 120.5L382.7 120.2L379.7 119.9L376.8 119.6L373.8 119.4L370.9 119.2L367.9 119.1L364.9 119L362 118.9L359 118.9M449.1 131L446.2 130.1L443.2 129.3L440.3 128.5L437.3 127.7L434.3 127L431.4 126.4L428.4 125.8L425.5 125.2L422.5 124.6L419.5 124.1L416.6 123.5L413.6 123L410.7 122.6L407.7 122.1L404.7 121.6L401.8 121.2L398.8 120.8L395.8 120.4L392.9 120.1L389.9 119.7L387 119.4L384 119.1L381 118.8L378.1 118.6L375.1 118.4L372.2 118.2L369.2 118.1L366.2 118L363.3 118L360.3 118.1M450.5 129.6L447.5 128.7L444.5 127.9L441.6 127.1L438.6 126.3L435.7 125.6L432.7 125L429.7 124.4L426.8 123.8L423.8 123.2L420.8 122.7L417.9 122.2L414.9 121.7L412 121.3L409 120.8L406 120.4L403.1 120L400.1 119.6L397.2 119.2L394.2 118.9L391.2 118.6L388.3 118.3L385.3 118L382.4 117.7L379.4 117.5L376.4 117.4L373.5 117.2L370.5 117.2L367.5 117.1L364.6 117.1L361.6 117.2M451.8 128.2L448.8 127.3L445.8 126.4L442.9 125.7L439.9 124.9L437 124.2L434 123.6L431 123L428.1 122.4L425.1 121.9L422.2 121.4L419.2 120.9L416.2 120.4L413.3 120L410.3 119.6L407.4 119.2L404.4 118.8L401.4 118.4L398.5 118L395.5 117.7L392.5 117.4L389.6 117.1L386.6 116.9L383.7 116.7L380.7 116.5L377.7 116.4L374.8 116.3L371.8 116.2L368.9 116.2L365.9 116.2L362.9 116.4M453.1 126.8L450.1 125.9L447.2 125L444.2 124.3L441.2 123.5L438.3 122.9L435.3 122.2L432.3 121.6L429.4 121.1L426.4 120.6L423.5 120.1L420.5 119.6L417.5 119.1L414.6 118.7L411.6 118.3L408.7 117.9L405.7 117.5L402.7 117.2L399.8 116.9L396.8 116.6L393.9 116.3L390.9 116L387.9 115.8L385 115.6L382 115.4L379.1 115.3L376.1 115.3L373.1 115.2L370.2 115.3L367.2 115.4L364.2 115.5M454.4 125.4L451.4 124.5L448.5 123.6L445.5 122.8L442.5 122.1L439.6 121.5L436.6 120.8L433.7 120.3L430.7 119.7L427.7 119.2L424.8 118.7L421.8 118.3L418.9 117.8L415.9 117.4L412.9 117L410 116.7L407 116.3L404 116L401.1 115.7L398.1 115.4L395.2 115.1L392.2 114.9L389.2 114.7L386.3 114.5L383.3 114.4L380.4 114.3L377.4 114.3L374.4 114.3L371.5 114.3L368.5 114.5L365.6 114.6M455.7 123.9L452.7 123L449.8 122.2L446.8 121.4L443.9 120.7L440.9 120.1L437.9 119.5L435 118.9L432 118.4L429 117.9L426.1 117.4L423.1 116.9L420.2 116.5L417.2 116.1L414.2 115.8L411.3 115.4L408.3 115.1L405.4 114.8L402.4 114.5L399.4 114.2L396.5 114L393.5 113.8L390.6 113.6L387.6 113.5L384.6 113.4L381.7 113.3L378.7 113.3L375.7 113.3L372.8 113.4L369.8 113.6L366.9 113.8M457 122.5L454 121.6L451.1 120.8L448.1 120L445.2 119.3L442.2 118.7L439.2 118.1L436.3 117.5L433.3 117L430.4 116.5L427.4 116.1L424.4 115.6L421.5 115.2L418.5 114.9L415.6 114.5L412.6 114.2L409.6 113.9L406.7 113.6L403.7 113.3L400.7 113.1L397.8 112.8L394.8 112.7L391.9 112.5L388.9 112.4L385.9 112.3L383 112.3L380 112.3L377.1 112.4L374.1 112.5L371.1 112.7L368.2 112.9M458.3 121.1L455.4 120.2L452.4 119.4L449.4 118.6L446.5 117.9L443.5 117.3L440.5 116.7L437.6 116.1L434.6 115.6L431.7 115.2L428.7 114.7L425.7 114.3L422.8 113.9L419.8 113.6L416.9 113.2L413.9 112.9L410.9 112.6L408 112.4L405 112.1L402.1 111.9L399.1 111.7L396.1 111.5L393.2 111.4L390.2 111.3L387.3 111.3L384.3 111.3L381.3 111.3L378.4 111.4L375.4 111.6L372.4 111.8L369.5 112.1M459.6 119.7L456.7 118.8L453.7 118L450.7 117.2L447.8 116.5L444.8 115.9L441.9 115.3L438.9 114.8L435.9 114.3L433 113.8L430 113.4L427.1 113L424.1 112.6L421.1 112.3L418.2 112L415.2 111.7L412.2 111.4L409.3 111.1L406.3 110.9L403.4 110.7L400.4 110.5L397.4 110.4L394.5 110.3L391.5 110.2L388.6 110.2L385.6 110.2L382.6 110.3L379.7 110.5L376.7 110.6L373.8 110.9L370.8 111.2M460.9 118.3L458 117.4L455 116.5L452.1 115.8L449.1 115.1L446.1 114.5L443.2 113.9L440.2 113.4L437.2 112.9L434.3 112.5L431.3 112.1L428.4 111.7L425.4 111.3L422.4 111L419.5 110.7L416.5 110.4L413.6 110.2L410.6 109.9L407.6 109.7L404.7 109.6L401.7 109.4L398.8 109.3L395.8 109.2L392.8 109.2L389.9 109.2L386.9 109.2L383.9 109.3L381 109.5L378 109.7L375.1 110L372.1 110.4M462.2 116.8L459.3 115.9L456.3 115.1L453.4 114.4L450.4 113.7L447.4 113.1L444.5 112.5L441.5 112L438.6 111.6L435.6 111.1L432.6 110.7L429.7 110.4L426.7 110L423.7 109.7L420.8 109.4L417.8 109.2L414.9 108.9L411.9 108.7L408.9 108.5L406 108.4L403 108.3L400.1 108.2L397.1 108.1L394.1 108.1L391.2 108.1L388.2 108.2L385.3 108.3L382.3 108.5L379.3 108.8L376.4 109.1L373.4 109.5M463.6 115.4L460.6 114.5L457.6 113.7L454.7 113L451.7 112.3L448.7 111.7L445.8 111.1L442.8 110.6L439.9 110.2L436.9 109.8L433.9 109.4L431 109L428 108.7L425.1 108.4L422.1 108.2L419.1 107.9L416.2 107.7L413.2 107.5L410.3 107.4L407.3 107.2L404.3 107.1L401.4 107L398.4 107L395.4 107L392.5 107.1L389.5 107.2L386.6 107.4L383.6 107.6L380.6 107.9L377.7 108.2L374.7 108.7M464.9 114L461.9 113.1L458.9 112.3L456 111.6L453 110.9L450.1 110.3L447.1 109.8L444.1 109.3L441.2 108.8L438.2 108.4L435.3 108.1L432.3 107.7L429.3 107.4L426.4 107.2L423.4 106.9L420.4 106.7L417.5 106.5L414.5 106.3L411.6 106.2L408.6 106L405.6 106L402.7 105.9L399.7 105.9L396.8 105.9L393.8 106L390.8 106.2L387.9 106.4L384.9 106.6L382 106.9L379 107.3L376 107.8M466.2 112.6L463.2 111.7L460.2 110.9L457.3 110.2L454.3 109.5L451.4 108.9L448.4 108.4L445.4 107.9L442.5 107.5L439.5 107.1L436.6 106.7L433.6 106.4L430.6 106.1L427.7 105.9L424.7 105.6L421.8 105.4L418.8 105.3L415.8 105.1L412.9 105L409.9 104.9L407 104.8L404 104.8L401 104.8L398.1 104.9L395.1 105L392.1 105.1L389.2 105.4L386.2 105.7L383.3 106L380.3 106.4L377.3 107M467.5 111.2L464.5 110.3L461.6 109.5L458.6 108.7L455.6 108.1L452.7 107.5L449.7 107L446.8 106.5L443.8 106.1L440.8 105.7L437.9 105.4L434.9 105.1L431.9 104.8L429 104.6L426 104.4L423.1 104.2L420.1 104L417.1 103.9L414.2 103.8L411.2 103.7L408.3 103.7L405.3 103.7L402.3 103.7L399.4 103.8L396.4 103.9L393.5 104.1L390.5 104.4L387.5 104.7L384.6 105.1L381.6 105.6L378.7 106.1M468.8 109.8L465.8 108.9L462.9 108.1L459.9 107.3L456.9 106.7L454 106.1L451 105.6L448.1 105.2L445.1 104.7L442.1 104.4L439.2 104.1L436.2 103.8L433.3 103.5L430.3 103.3L427.3 103.1L424.4 102.9L421.4 102.8L418.5 102.7L415.5 102.6L412.5 102.5L409.6 102.5L406.6 102.6L403.6 102.6L400.7 102.7L397.7 102.9L394.8 103.1L391.8 103.4L388.8 103.7L385.9 104.2L382.9 104.7L380 105.2M470.1 108.3L467.1 107.4L464.2 106.6L461.2 105.9L458.3 105.3L455.3 104.7L452.3 104.2L449.4 103.8L446.4 103.4L443.5 103L440.5 102.7L437.5 102.5L434.6 102.2L431.6 102L428.6 101.8L425.7 101.7L422.7 101.6L419.8 101.5L416.8 101.4L413.8 101.4L410.9 101.4L407.9 101.4L405 101.5L402 101.7L399 101.8L396.1 102.1L393.1 102.4L390.2 102.8L387.2 103.2L384.2 103.8L381.3 104.4M471.4 106.9L468.4 106L465.5 105.2L462.5 104.5L459.6 103.9L456.6 103.3L453.6 102.8L450.7 102.4L447.7 102L444.8 101.7L441.8 101.4L438.8 101.1L435.9 100.9L432.9 100.7L430 100.6L427 100.4L424 100.3L421.1 100.3L418.1 100.2L415.2 100.2L412.2 100.2L409.2 100.3L406.3 100.4L403.3 100.6L400.3 100.8L397.4 101.1L394.4 101.4L391.5 101.8L388.5 102.3L385.5 102.9L382.6 103.5M472.7 105.5L469.8 104.6L466.8 103.8L463.8 103.1L460.9 102.5L457.9 101.9L455 101.5L452 101L449 100.7L446.1 100.3L443.1 100.1L440.1 99.8L437.2 99.6L434.2 99.5L431.3 99.3L428.3 99.2L425.3 99.1L422.4 99.1L419.4 99L416.5 99L413.5 99.1L410.5 99.2L407.6 99.3L404.6 99.5L401.7 99.8L398.7 100.1L395.7 100.4L392.8 100.9L389.8 101.4L386.9 102L383.9 102.7M474 104.1L471.1 103.2L468.1 102.4L465.1 101.7L462.2 101.1L459.2 100.5L456.3 100.1L453.3 99.7L450.3 99.3L447.4 99L444.4 98.7L441.5 98.5L438.5 98.3L435.5 98.2L432.6 98L429.6 97.9L426.7 97.9L423.7 97.8L420.7 97.8L417.8 97.9L414.8 98L411.8 98.1L408.9 98.2L405.9 98.4L403 98.7L400 99L397 99.4L394.1 99.9L391.1 100.5L388.2 101.1L385.2 101.8M475.3 102.7L472.4 101.8L469.4 101L466.5 100.3L463.5 99.7L460.5 99.1L457.6 98.7L454.6 98.3L451.7 97.9L448.7 97.7L445.7 97.4L442.8 97.2L439.8 97L436.8 96.9L433.9 96.8L430.9 96.7L428 96.7L425 96.6L422 96.7L419.1 96.7L416.1 96.8L413.2 96.9L410.2 97.1L407.2 97.4L404.3 97.7L401.3 98L398.4 98.4L395.4 99L392.4 99.5L389.5 100.2L386.5 101M476.6 101.2L473.7 100.4L470.7 99.6L467.8 98.9L464.8 98.3L461.8 97.8L458.9 97.3L455.9 96.9L453 96.6L450 96.3L447 96.1L444.1 95.9L441.1 95.7L438.2 95.6L435.2 95.5L432.2 95.5L429.3 95.4L426.3 95.4L423.3 95.5L420.4 95.5L417.4 95.7L414.5 95.8L411.5 96L408.5 96.3L405.6 96.6L402.6 97L399.7 97.5L396.7 98L393.7 98.6L390.8 99.3L387.8 100.1M478 99.8L475 98.9L472 98.1L469.1 97.5L466.1 96.9L463.2 96.4L460.2 95.9L457.2 95.5L454.3 95.2L451.3 95L448.3 94.7L445.4 94.6L442.4 94.4L439.5 94.3L436.5 94.2L433.5 94.2L430.6 94.2L427.6 94.2L424.7 94.3L421.7 94.4L418.7 94.5L415.8 94.7L412.8 94.9L409.9 95.2L406.9 95.6L403.9 96L401 96.5L398 97L395 97.7L392.1 98.4L389.1 99.3M479.3 98.4L476.3 97.5L473.3 96.7L470.4 96.1L467.4 95.5L464.5 95L461.5 94.5L458.5 94.2L455.6 93.9L452.6 93.6L449.7 93.4L446.7 93.2L443.7 93.1L440.8 93L437.8 93L434.9 93L431.9 93L428.9 93L426 93.1L423 93.2L420 93.4L417.1 93.6L414.1 93.8L411.2 94.1L408.2 94.5L405.2 95L402.3 95.5L399.3 96.1L396.4 96.8L393.4 97.5L390.4 98.4M480.6 97L477.6 96.1L474.7 95.3L471.7 94.6L468.7 94.1L465.8 93.6L462.8 93.1L459.8 92.8L456.9 92.5L453.9 92.3L451 92.1L448 91.9L445 91.8L442.1 91.8L439.1 91.7L436.2 91.7L433.2 91.7L430.2 91.8L427.3 91.9L424.3 92L421.4 92.2L418.4 92.5L415.4 92.7L412.5 93.1L409.5 93.5L406.6 93.9L403.6 94.5L400.6 95.1L397.7 95.8L394.7 96.6L391.7 97.6M481.9 95.6L478.9 94.7L476 93.9L473 93.2L470 92.7L467.1 92.2L464.1 91.8L461.2 91.4L458.2 91.1L455.2 90.9L452.3 90.7L449.3 90.6L446.4 90.5L443.4 90.5L440.4 90.4L437.5 90.5L434.5 90.5L431.5 90.6L428.6 90.7L425.6 90.9L422.7 91.1L419.7 91.3L416.7 91.6L413.8 92L410.8 92.4L407.9 92.9L404.9 93.5L401.9 94.2L399 94.9L396 95.8L393.1 96.7M483.2 94.2L480.2 93.3L477.3 92.5L474.3 91.8L471.4 91.3L468.4 90.8L465.4 90.4L462.5 90L459.5 89.8L456.5 89.6L453.6 89.4L450.6 89.3L447.7 89.2L444.7 89.2L441.7 89.2L438.8 89.2L435.8 89.3L432.9 89.4L429.9 89.5L426.9 89.7L424 89.9L421 90.2L418.1 90.5L415.1 90.9L412.1 91.4L409.2 91.9L406.2 92.5L403.2 93.2L400.3 94L397.3 94.9L394.4 95.9M484.5 92.7L481.5 91.8L478.6 91.1L475.6 90.4L472.7 89.9L469.7 89.4L466.7 89L463.8 88.7L460.8 88.4L457.9 88.2L454.9 88.1L451.9 88L449 87.9L446 87.9L443.1 87.9L440.1 88L437.1 88.1L434.2 88.2L431.2 88.3L428.2 88.5L425.3 88.8L422.3 89.1L419.4 89.4L416.4 89.9L413.4 90.3L410.5 90.9L407.5 91.5L404.6 92.2L401.6 93.1L398.6 94L395.7 95M485.8 91.3L482.9 90.4L479.9 89.7L476.9 89L474 88.5L471 88L468 87.6L465.1 87.3L462.1 87.1L459.2 86.9L456.2 86.7L453.2 86.7L450.3 86.6L447.3 86.6L444.4 86.6L441.4 86.7L438.4 86.8L435.5 87L432.5 87.2L429.6 87.4L426.6 87.6L423.6 88L420.7 88.3L417.7 88.8L414.8 89.3L411.8 89.9L408.8 90.5L405.9 91.3L402.9 92.1L399.9 93.1L397 94.1M487.1 89.9L484.2 89L481.2 88.2L478.2 87.6L475.3 87L472.3 86.6L469.4 86.2L466.4 85.9L463.4 85.7L460.5 85.5L457.5 85.4L454.6 85.3L451.6 85.3L448.6 85.3L445.7 85.4L442.7 85.5L439.7 85.6L436.8 85.8L433.8 86L430.9 86.2L427.9 86.5L424.9 86.8L422 87.2L419 87.7L416.1 88.2L413.1 88.9L410.1 89.5L407.2 90.3L404.2 91.2L401.3 92.2L398.3 93.3M488.4 88.5L485.5 87.6L482.5 86.8L479.6 86.2L476.6 85.6L473.6 85.2L470.7 84.8L467.7 84.6L464.7 84.3L461.8 84.2L458.8 84.1L455.9 84L452.9 84L449.9 84L447 84.1L444 84.2L441.1 84.4L438.1 84.6L435.1 84.8L432.2 85L429.2 85.4L426.3 85.7L423.3 86.1L420.3 86.6L417.4 87.2L414.4 87.8L411.4 88.6L408.5 89.4L405.5 90.3L402.6 91.3L399.6 92.4M489.7 87.1L486.8 86.2L483.8 85.4L480.9 84.8L477.9 84.2L474.9 83.8L472 83.5L469 83.2L466.1 83L463.1 82.8L460.1 82.7L457.2 82.7L454.2 82.7L451.2 82.8L448.3 82.9L445.3 83L442.4 83.1L439.4 83.3L436.4 83.6L433.5 83.9L430.5 84.2L427.6 84.6L424.6 85L421.6 85.6L418.7 86.1L415.7 86.8L412.8 87.6L409.8 88.4L406.8 89.4L403.9 90.4L400.9 91.6M491.1 85.6L488.1 84.8L485.1 84L482.2 83.4L479.2 82.8L476.2 82.4L473.3 82.1L470.3 81.8L467.4 81.6L464.4 81.5L461.4 81.4L458.5 81.4L455.5 81.4L452.6 81.5L449.6 81.6L446.6 81.7L443.7 81.9L440.7 82.1L437.8 82.4L434.8 82.7L431.8 83.1L428.9 83.5L425.9 84L422.9 84.5L420 85.1L417 85.8L414.1 86.6L411.1 87.5L408.1 88.4L405.2 89.5L402.2 90.7M492.4 84.2L489.4 83.3L486.4 82.6L483.5 82L480.5 81.4L477.6 81L474.6 80.7L471.6 80.4L468.7 80.3L465.7 80.1L462.8 80.1L459.8 80.1L456.8 80.1L453.9 80.2L450.9 80.3L447.9 80.5L445 80.7L442 80.9L439.1 81.2L436.1 81.5L433.1 81.9L430.2 82.4L427.2 82.9L424.3 83.4L421.3 84.1L418.3 84.8L415.4 85.6L412.4 86.5L409.5 87.5L406.5 88.6L403.5 89.9M493.7 82.8L490.7 81.9L487.7 81.2L484.8 80.5L481.8 80L478.9 79.6L475.9 79.3L472.9 79.1L470 78.9L467 78.8L464.1 78.8L461.1 78.8L458.1 78.8L455.2 78.9L452.2 79.1L449.3 79.2L446.3 79.5L443.3 79.7L440.4 80L437.4 80.4L434.5 80.8L431.5 81.2L428.5 81.8L425.6 82.3L422.6 83L419.6 83.8L416.7 84.6L413.7 85.5L410.8 86.6L407.8 87.7L404.8 89M495 81.4L492 80.5L489.1 79.8L486.1 79.1L483.1 78.6L480.2 78.2L477.2 77.9L474.3 77.7L471.3 77.5L468.3 77.4L465.4 77.4L462.4 77.4L459.4 77.5L456.5 77.6L453.5 77.8L450.6 78L447.6 78.2L444.6 78.5L441.7 78.8L438.7 79.2L435.8 79.6L432.8 80.1L429.8 80.7L426.9 81.3L423.9 82L421 82.7L418 83.6L415 84.6L412.1 85.7L409.1 86.8L406.2 88.2M496.3 80L493.3 79.1L490.4 78.3L487.4 77.7L484.4 77.2L481.5 76.8L478.5 76.5L475.6 76.3L472.6 76.2L469.6 76.1L466.7 76.1L463.7 76.1L460.8 76.2L457.8 76.3L454.8 76.5L451.9 76.7L448.9 77L446 77.3L443 77.6L440 78L437.1 78.5L434.1 79L431.1 79.6L428.2 80.2L425.2 80.9L422.3 81.7L419.3 82.6L416.3 83.6L413.4 84.7L410.4 86L407.5 87.3M497.6 78.6L494.6 77.7L491.7 76.9L488.7 76.3L485.8 75.8L482.8 75.4L479.8 75.1L476.9 74.9L473.9 74.8L471 74.8L468 74.8L465 74.8L462.1 74.9L459.1 75.1L456.1 75.3L453.2 75.5L450.2 75.8L447.3 76.1L444.3 76.5L441.3 76.9L438.4 77.3L435.4 77.9L432.5 78.5L429.5 79.1L426.5 79.9L423.6 80.7L420.6 81.6L417.7 82.7L414.7 83.8L411.7 85.1L408.8 86.5M498.9 77.1L495.9 76.3L493 75.5L490 74.9L487.1 74.4L484.1 74L481.1 73.8L478.2 73.6L475.2 73.5L472.3 73.4L469.3 73.4L466.3 73.5L463.4 73.6L460.4 73.8L457.5 74L454.5 74.2L451.5 74.5L448.6 74.9L445.6 75.3L442.7 75.7L439.7 76.2L436.7 76.7L433.8 77.4L430.8 78.1L427.8 78.8L424.9 79.7L421.9 80.6L419 81.7L416 82.9L413 84.2L410.1 85.6M500.2 75.7L497.3 74.8L494.3 74.1L491.3 73.5L488.4 73L485.4 72.6L482.5 72.4L479.5 72.2L476.5 72.1L473.6 72.1L470.6 72.1L467.6 72.2L464.7 72.3L461.7 72.5L458.8 72.7L455.8 73L452.8 73.3L449.9 73.7L446.9 74.1L444 74.5L441 75L438 75.6L435.1 76.3L432.1 77L429.2 77.8L426.2 78.7L423.2 79.7L420.3 80.7L417.3 82L414.4 83.3L411.4 84.7M501.5 74.3L498.6 73.4L495.6 72.7L492.6 72.1L489.7 71.6L486.7 71.3L483.8 71L480.8 70.8L477.8 70.7L474.9 70.7L471.9 70.8L469 70.9L466 71L463 71.2L460.1 71.5L457.1 71.7L454.2 72.1L451.2 72.5L448.2 72.9L445.3 73.4L442.3 73.9L439.3 74.5L436.4 75.2L433.4 75.9L430.5 76.7L427.5 77.6L424.5 78.7L421.6 79.8L418.6 81L415.7 82.4L412.7 83.9M502.8 72.9L499.9 72L496.9 71.3L494 70.7L491 70.2L488 69.9L485.1 69.6L482.1 69.5L479.2 69.4L476.2 69.4L473.2 69.4L470.3 69.5L467.3 69.7L464.3 69.9L461.4 70.2L458.4 70.5L455.5 70.9L452.5 71.3L449.5 71.7L446.6 72.2L443.6 72.8L440.7 73.4L437.7 74.1L434.7 74.8L431.8 75.7L428.8 76.6L425.9 77.7L422.9 78.8L419.9 80.1L417 81.5L414 83M504.1 71.5L501.2 70.6L498.2 69.9L495.3 69.3L492.3 68.8L489.3 68.5L486.4 68.2L483.4 68.1L480.5 68L477.5 68L474.5 68.1L471.6 68.2L468.6 68.4L465.7 68.6L462.7 68.9L459.7 69.3L456.8 69.6L453.8 70L450.8 70.5L447.9 71L444.9 71.6L442 72.3L439 73L436 73.8L433.1 74.6L430.1 75.6L427.2 76.7L424.2 77.9L421.2 79.2L418.3 80.6L415.3 82.2M505.5 70L502.5 69.2L499.5 68.4L496.6 67.9L493.6 67.4L490.7 67.1L487.7 66.8L484.7 66.7L481.8 66.7L478.8 66.7L475.8 66.8L472.9 66.9L469.9 67.1L467 67.4L464 67.7L461 68L458.1 68.4L455.1 68.8L452.2 69.3L449.2 69.9L446.2 70.5L443.3 71.1L440.3 71.9L437.4 72.7L434.4 73.6L431.4 74.6L428.5 75.7L425.5 76.9L422.5 78.3L419.6 79.7L416.6 81.3M506.8 68.6L503.8 67.7L500.8 67L497.9 66.4L494.9 66L492 65.7L489 65.5L486 65.3L483.1 65.3L480.1 65.3L477.2 65.4L474.2 65.6L471.2 65.8L468.3 66.1L465.3 66.4L462.4 66.8L459.4 67.2L456.4 67.6L453.5 68.1L450.5 68.7L447.5 69.3L444.6 70L441.6 70.8L438.7 71.6L435.7 72.5L432.7 73.6L429.8 74.7L426.8 76L423.9 77.3L420.9 78.8L417.9 80.5M508.1 67.2L505.1 66.3L502.2 65.6L499.2 65L496.2 64.6L493.3 64.3L490.3 64.1L487.3 64L484.4 63.9L481.4 64L478.5 64.1L475.5 64.3L472.5 64.5L469.6 64.8L466.6 65.1L463.7 65.5L460.7 65.9L457.7 66.4L454.8 66.9L451.8 67.5L448.9 68.2L445.9 68.9L442.9 69.7L440 70.5L437 71.5L434.1 72.6L431.1 73.7L428.1 75L425.2 76.4L422.2 77.9L419.2 79.6M509.4 65.8L506.4 64.9L503.5 64.2L500.5 63.6L497.5 63.2L494.6 62.9L491.6 62.7L488.7 62.6L485.7 62.6L482.7 62.6L479.8 62.8L476.8 63L473.9 63.2L470.9 63.5L467.9 63.9L465 64.3L462 64.7L459 65.2L456.1 65.8L453.1 66.4L450.2 67L447.2 67.8L444.2 68.6L441.3 69.5L438.3 70.5L435.4 71.5L432.4 72.7L429.4 74L426.5 75.5L423.5 77L420.6 78.8M510.7 64.4L507.7 63.5L504.8 62.8L501.8 62.2L498.9 61.8L495.9 61.5L492.9 61.3L490 61.2L487 61.2L484 61.3L481.1 61.4L478.1 61.6L475.2 61.9L472.2 62.2L469.2 62.6L466.3 63L463.3 63.5L460.4 64L457.4 64.6L454.4 65.2L451.5 65.9L448.5 66.6L445.6 67.5L442.6 68.4L439.6 69.4L436.7 70.5L433.7 71.7L430.7 73.1L427.8 74.6L424.8 76.2L421.9 77.9M512 63L509 62.1L506.1 61.4L503.1 60.8L500.2 60.4L497.2 60.1L494.2 59.9L491.3 59.8L488.3 59.8L485.4 59.9L482.4 60.1L479.4 60.3L476.5 60.6L473.5 60.9L470.6 61.3L467.6 61.8L464.6 62.3L461.7 62.8L458.7 63.4L455.7 64L452.8 64.7L449.8 65.5L446.9 66.4L443.9 67.3L440.9 68.4L438 69.5L435 70.7L432.1 72.1L429.1 73.6L426.1 75.3L423.2 77.1M513.3 61.5L510.4 60.7L507.4 59.9L504.4 59.4L501.5 59L498.5 58.7L495.5 58.5L492.6 58.5L489.6 58.5L486.7 58.6L483.7 58.8L480.7 59L477.8 59.3L474.8 59.7L471.9 60.1L468.9 60.5L465.9 61L463 61.6L460 62.2L457.1 62.9L454.1 63.6L451.1 64.4L448.2 65.3L445.2 66.3L442.3 67.3L439.3 68.5L436.3 69.8L433.4 71.2L430.4 72.7L427.4 74.4L424.5 76.2M514.6 60.1L511.7 59.2L508.7 58.5L505.7 58L502.8 57.6L499.8 57.3L496.9 57.1L493.9 57.1L490.9 57.1L488 57.2L485 57.4L482.1 57.7L479.1 58L476.1 58.4L473.2 58.8L470.2 59.3L467.2 59.8L464.3 60.4L461.3 61L458.4 61.7L455.4 62.5L452.4 63.3L449.5 64.2L446.5 65.2L443.6 66.3L440.6 67.5L437.6 68.8L434.7 70.2L431.7 71.8L428.8 73.5L425.8 75.3M515.9 58.7L513 57.8L510 57.1L507.1 56.6L504.1 56.2L501.1 55.9L498.2 55.8L495.2 55.7L492.2 55.8L489.3 55.9L486.3 56.1L483.4 56.4L480.4 56.7L477.4 57.1L474.5 57.5L471.5 58L468.6 58.6L465.6 59.2L462.6 59.8L459.7 60.5L456.7 61.3L453.8 62.2L450.8 63.1L447.8 64.1L444.9 65.2L441.9 66.4L438.9 67.8L436 69.2L433 70.8L430.1 72.6L427.1 74.5M517.2 57.3L514.3 56.4L511.3 55.7L508.4 55.2L505.4 54.8L502.4 54.5L499.5 54.4L496.5 54.3L493.6 54.4L490.6 54.6L487.6 54.8L484.7 55.1L481.7 55.4L478.7 55.8L475.8 56.3L472.8 56.8L469.9 57.3L466.9 58L463.9 58.6L461 59.4L458 60.2L455.1 61L452.1 62L449.1 63L446.2 64.2L443.2 65.4L440.3 66.8L437.3 68.3L434.3 69.9L431.4 71.7L428.4 73.6M518.6 55.9L515.6 55L512.6 54.3L509.7 53.8L506.7 53.4L503.7 53.1L500.8 53L497.8 53L494.9 53L491.9 53.2L488.9 53.4L486 53.7L483 54.1L480.1 54.5L477.1 55L474.1 55.5L471.2 56.1L468.2 56.7L465.3 57.4L462.3 58.2L459.3 59L456.4 59.9L453.4 60.9L450.4 62L447.5 63.1L444.5 64.4L441.6 65.8L438.6 67.3L435.6 69L432.7 70.8L429.7 72.8M519.9 54.4L516.9 53.6L513.9 52.9L511 52.3L508 52L505.1 51.7L502.1 51.6L499.1 51.6L496.2 51.7L493.2 51.9L490.3 52.1L487.3 52.4L484.3 52.8L481.4 53.2L478.4 53.7L475.4 54.3L472.5 54.9L469.5 55.5L466.6 56.3L463.6 57L460.6 57.9L457.7 58.8L454.7 59.8L451.8 60.9L448.8 62.1L445.8 63.4L442.9 64.8L439.9 66.4L437 68.1L434 69.9L431 71.9" fill="none" stroke="#000" stroke-opacity="0.2" stroke-width="0.3" stroke-linejoin="round"/>
<path d="M415.1 167.9L519.9 54.4M413.1 167.3L517.9 53.8M411.2 166.7L515.9 53.3M409.2 166.1L513.9 52.9M407.2 165.4L512 52.5M405.2 164.8L510 52.2M403.3 164.2L508 52M401.3 163.6L506 51.8M399.3 163L504.1 51.7M397.3 162.4L502.1 51.6M395.4 161.8L500.1 51.6M393.4 161.1L498.1 51.6M391.4 160.5L496.2 51.7M389.4 159.9L494.2 51.8M387.5 159.3L492.2 51.9M385.5 158.7L490.3 52.1M383.5 158.1L488.3 52.3M381.5 157.5L486.3 52.5M379.6 156.8L484.3 52.8M377.6 156.2L482.4 53.1M375.6 155.6L480.4 53.4M373.6 155L478.4 53.7M371.7 154.4L476.4 54.1M369.7 153.8L474.5 54.5M367.7 153.2L472.5 54.9M365.8 152.6L470.5 55.3M363.8 151.9L468.5 55.8M361.8 151.3L466.6 56.3M359.8 150.7L464.6 56.8M357.9 150.1L462.6 57.3M355.9 149.5L460.6 57.9M353.9 148.9L458.7 58.5M351.9 148.3L456.7 59.1M350 147.6L454.7 59.8M348 147L452.7 60.5M346 146.4L450.8 61.3M344 145.8L448.8 62.1M342.1 145.2L446.8 62.9M340.1 144.6L444.8 63.8M338.1 144L442.9 64.8M336.1 143.3L440.9 65.8M334.2 142.7L438.9 66.9M332.2 142.1L437 68.1M330.2 141.5L435 69.3M328.2 140.9L433 70.6M326.3 140.3L431 71.9" fill="none" stroke="#000" stroke-opacity="0.2" stroke-width="0.3"/></g>
<path d="M316.4 43L316.4 144.4L415.1 175.1L522 146.6M316.4 144L313.9 143.2M316.4 129.6L313.9 128.8M316.4 115.2L313.9 114.4M316.4 100.7L313.9 100M316.4 86.3L313.9 85.5M316.4 71.9L313.9 71.1M316.4 57.5L313.9 56.7M316.4 43.1L313.9 42.3M415.1 175.1L412.6 175.8M365.8 159.8L363.2 160.4M316.4 144.4L313.9 145.1M415.1 175.1L417.6 175.9M441.8 168L444.3 168.7M468.6 160.8L471 161.6M495.3 153.7L497.8 154.5M522 146.6L524.5 147.4" fill="none" stroke="#8a8a8a" stroke-width=".6"/>
<g class="tk"><text transform="translate(311.4 145) scale(.82 1)" text-anchor="end">-2</text><text transform="translate(311.4 130.6) scale(.82 1)" text-anchor="end">0</text><text transform="translate(311.4 116.2) scale(.82 1)" text-anchor="end">2</text><text transform="translate(311.4 101.7) scale(.82 1)" text-anchor="end">4</text><text transform="translate(311.4 87.3) scale(.82 1)" text-anchor="end">6</text><text transform="translate(311.4 72.9) scale(.82 1)" text-anchor="end">8</text><text transform="translate(311.4 58.5) scale(.82 1)" text-anchor="end">10</text><text transform="translate(311.4 44.1) scale(.82 1)" text-anchor="end">12</text><text transform="translate(409.5 183) scale(.82 1)" text-anchor="end">0</text><text transform="translate(360.1 167.7) scale(.82 1)" text-anchor="end">50</text><text transform="translate(310.8 152.3) scale(.82 1)" text-anchor="end">100</text><text transform="translate(419.9 183) scale(.82 1)">0</text><text transform="translate(446.6 175.9) scale(.82 1)">20</text><text transform="translate(473.4 168.8) scale(.82 1)">40</text><text transform="translate(500.1 161.6) scale(.82 1)">60</text><text transform="translate(526.8 154.5) scale(.82 1)">80</text></g>
<text class="lb" text-anchor="middle" textLength="40" lengthAdjust="spacing" transform="translate(297.5 95.5) rotate(-90)"><tspan class="it">V</tspan><tspan class="it" dy="2" font-size="7">xg</tspan><tspan dy="-2">[</tspan><tspan class="it">m</tspan>/<tspan class="it">s</tspan><tspan dy="-3.4" font-size="7">2</tspan><tspan dy="3.4">]</tspan></text>
<circle cx="289.3" cy="112.1" r=".6" fill="#555"/>
<text class="lb" x="350.4" y="186.6" textLength="18.8" lengthAdjust="spacing"><tspan class="it">δ</tspan><tspan class="it" dy="1.8" font-size="7">N</tspan><tspan dy="-1.8">[</tspan><tspan dy="-2.6" font-size="7">°</tspan><tspan dy="2.6">]</tspan></text>
<text class="lb" x="459.2" y="186.6" textLength="18.5" lengthAdjust="spacing"><tspan class="it">T</tspan>[<tspan class="it">N</tspan>]</text>
<text class="ti" x="309.8" y="22.2" textLength="216" lengthAdjust="spacing" xml:space="preserve"><tspan class="it">θ</tspan> = 3  Forward flight speed control effectiveness</text>
<text class="cp" text-anchor="middle" x="413.9" y="220.8">(<tspan font-weight="bold">b</tspan>)</text>
<clipPath id="clc"><rect x="4.7" y="250" width="266.8" height="300"/></clipPath>
<g clip-path="url(#clc)" fill="none"><path d="M35.2 379.6L140.4 352.6L241 380.9M35.2 373L140.4 346L241 374.3M35.2 369.7L140.4 342.7L241 371M35.2 366.3L140.4 339.3L241 367.6M35.2 363L140.4 336L241 364.3M35.2 356.4L140.4 329.4L241 357.7M35.2 353.1L140.4 326.1L241 354.4M35.2 349.7L140.4 322.7L241 351M35.2 346.4L140.4 319.4L241 347.7M35.2 339.8L140.4 312.8L241 341.1M35.2 336.5L140.4 309.5L241 337.8M35.2 333.1L140.4 306.1L241 334.4M35.2 329.8L140.4 302.8L241 331.1M35.2 323.2L140.4 296.2L241 324.5M35.2 319.9L140.4 292.9L241 321.2M35.2 316.5L140.4 289.5L241 317.8M35.2 313.2L140.4 286.2L241 314.5M35.2 306.6L140.4 279.6L241 307.9M35.2 303.3L140.4 276.3L241 304.6M35.2 299.9L140.4 272.9L241 301.2M35.2 296.6L140.4 269.6L241 297.9M35.2 290L140.4 263L241 291.3M35.2 286.7L140.4 259.7L241 288M35.2 283.3L140.4 256.3L241 284.6M35.2 280L140.4 253L241 281.3M40.5 275.1L40.5 380.9L141.1 409.2M45.7 273.8L45.7 379.6L146.3 407.9M51 272.4L51 378.2L151.6 406.6M56.2 271.1L56.2 376.9L156.8 405.2M66.8 268.4L66.8 374.2L167.4 402.5M72 267.1L72 372.9L172.6 401.2M77.3 265.7L77.3 371.5L177.9 399.8M82.5 264.4L82.5 370.2L183.1 398.5M93.1 261.6L93.1 367.4L193.7 395.8M98.3 260.3L98.3 366.1L198.9 394.4M103.6 258.9L103.6 364.8L204.2 393.1M108.8 257.6L108.8 363.4L209.4 391.7M119.4 254.9L119.4 360.7L220 389M124.6 253.6L124.6 359.4L225.2 387.7M129.9 252.2L129.9 358L230.5 386.3M135.1 250.9L135.1 356.7L235.7 385M230.9 275L230.9 380.8L125.7 407.8M220.9 272.1L220.9 377.9L115.7 404.9M210.8 269.3L210.8 375.1L105.6 402.1M200.8 266.5L200.8 372.3L95.6 399.3M180.6 260.8L180.6 366.6L75.4 393.6M170.6 258L170.6 363.8L65.4 390.8M160.5 255.2L160.5 361L55.3 388M150.5 252.3L150.5 358.1L45.3 385.1" stroke="#000" stroke-opacity=".03" stroke-width=".5"/><path d="M35.2 376.3L140.4 349.3L241 377.6M35.2 359.7L140.4 332.7L241 361M35.2 343.1L140.4 316.1L241 344.4M35.2 326.5L140.4 299.5L241 327.8M35.2 309.9L140.4 282.9L241 311.2M35.2 293.3L140.4 266.3L241 294.6M35.2 276.7L140.4 249.7L241 278M35.2 276.5L35.2 382.3L135.8 410.6M61.5 269.8L61.5 375.6L162.1 403.9M87.8 263L87.8 368.8L188.4 397.1M114.1 256.2L114.1 362.1L214.7 390.4M140.4 249.5L140.4 355.3L241 383.6M241 277.8L241 383.6L135.8 410.6M190.7 263.7L190.7 369.5L85.5 396.5M140.4 249.5L140.4 355.3L35.2 382.3" stroke="#000" stroke-opacity=".055" stroke-width=".5"/></g>
<defs><linearGradient id="gc0" gradientUnits="userSpaceOnUse" x1="134.8" y1="410.3" x2="237.9" y2="323.3"><stop offset="0" stop-color="#116515"/><stop offset="0.125" stop-color="#126d2d"/><stop offset="0.25" stop-color="#127546"/><stop offset="0.375" stop-color="#127c61"/><stop offset="0.5" stop-color="#13847b"/><stop offset="0.625" stop-color="#168798"/><stop offset="0.75" stop-color="#1989b5"/><stop offset="0.875" stop-color="#1c8bd3"/><stop offset="1" stop-color="#208df1"/></linearGradient><linearGradient id="gc1" gradientUnits="userSpaceOnUse" x1="132.8" y1="409.8" x2="235.9" y2="320.8"><stop offset="0" stop-color="#116615"/><stop offset="0.125" stop-color="#126e2d"/><stop offset="0.25" stop-color="#127546"/><stop offset="0.375" stop-color="#127c61"/><stop offset="0.5" stop-color="#13837b"/><stop offset="0.625" stop-color="#158798"/><stop offset="0.75" stop-color="#1889b5"/><stop offset="0.875" stop-color="#1c8ad3"/><stop offset="1" stop-color="#1f8df0"/></linearGradient><linearGradient id="gc2" gradientUnits="userSpaceOnUse" x1="130.8" y1="409.2" x2="233.9" y2="318.3"><stop offset="0" stop-color="#116615"/><stop offset="0.125" stop-color="#126e2d"/><stop offset="0.25" stop-color="#127546"/><stop offset="0.375" stop-color="#127c61"/><stop offset="0.5" stop-color="#13837b"/><stop offset="0.625" stop-color="#158698"/><stop offset="0.75" stop-color="#1888b5"/><stop offset="0.875" stop-color="#1c8ad2"/><stop offset="1" stop-color="#1f8df0"/></linearGradient><linearGradient id="gc3" gradientUnits="userSpaceOnUse" x1="128.8" y1="408.6" x2="231.9" y2="315.9"><stop offset="0" stop-color="#116615"/><stop offset="0.125" stop-color="#126e2d"/><stop offset="0.25" stop-color="#127546"/><stop offset="0.375" stop-color="#127c61"/><stop offset="0.5" stop-color="#12837b"/><stop offset="0.625" stop-color="#158698"/><stop offset="0.75" stop-color="#1888b5"/><stop offset="0.875" stop-color="#1c8ad2"/><stop offset="1" stop-color="#1f8df0"/></linearGradient><linearGradient id="gc4" gradientUnits="userSpaceOnUse" x1="126.7" y1="408.1" x2="229.8" y2="313.5"><stop offset="0" stop-color="#116615"/><stop offset="0.125" stop-color="#126e2d"/><stop offset="0.25" stop-color="#127546"/><stop offset="0.375" stop-color="#127c61"/><stop offset="0.5" stop-color="#12837b"/><stop offset="0.625" stop-color="#158698"/><stop offset="0.75" stop-color="#1888b4"/><stop offset="0.875" stop-color="#1c8ad2"/><stop offset="1" stop-color="#1f8df0"/></linearGradient><linearGradient id="gc5" gradientUnits="userSpaceOnUse" x1="124.7" y1="407.5" x2="227.8" y2="311.1"><stop offset="0" stop-color="#116615"/><stop offset="0.125" stop-color="#126e2d"/><stop offset="0.25" stop-color="#127546"/><stop offset="0.375" stop-color="#127c61"/><stop offset="0.5" stop-color="#12837b"/><stop offset="0.625" stop-color="#158698"/><stop offset="0.75" stop-color="#1888b4"/><stop offset="0.875" stop-color="#1c8ad2"/><stop offset="1" stop-color="#1f8def"/></linearGradient><linearGradient id="gc6" gradientUnits="userSpaceOnUse" x1="122.7" y1="406.9" x2="225.8" y2="308.8"><stop offset="0" stop-color="#116715"/><stop offset="0.125" stop-color="#126e2d"/><stop offset="0.25" stop-color="#127546"/><stop offset="0.375" stop-color="#127c61"/><stop offset="0.5" stop-color="#12837b"/><stop offset="0.625" stop-color="#158698"/><stop offset="0.75" stop-color="#1888b4"/><stop offset="0.875" stop-color="#1c8ad2"/><stop offset="1" stop-color="#1f8cef"/></linearGradient><linearGradient id="gc7" gradientUnits="userSpaceOnUse" x1="120.7" y1="406.4" x2="223.8" y2="306.5"><stop offset="0" stop-color="#116715"/><stop offset="0.125" stop-color="#126e2d"/><stop offset="0.25" stop-color="#127546"/><stop offset="0.375" stop-color="#127c61"/><stop offset="0.5" stop-color="#12837b"/><stop offset="0.625" stop-color="#158698"/><stop offset="0.75" stop-color="#1888b4"/><stop offset="0.875" stop-color="#1c8ad1"/><stop offset="1" stop-color="#1f8cef"/></linearGradient><linearGradient id="gc8" gradientUnits="userSpaceOnUse" x1="118.7" y1="405.8" x2="221.8" y2="304.3"><stop offset="0" stop-color="#116715"/><stop offset="0.125" stop-color="#126e2d"/><stop offset="0.25" stop-color="#127546"/><stop offset="0.375" stop-color="#127c61"/><stop offset="0.5" stop-color="#12837b"/><stop offset="0.625" stop-color="#158698"/><stop offset="0.75" stop-color="#1888b4"/><stop offset="0.875" stop-color="#1c8ad1"/><stop offset="1" stop-color="#1f8cef"/></linearGradient><linearGradient id="gc9" gradientUnits="userSpaceOnUse" x1="116.7" y1="405.2" x2="219.8" y2="302.1"><stop offset="0" stop-color="#116715"/><stop offset="0.125" stop-color="#126e2d"/><stop offset="0.25" stop-color="#127546"/><stop offset="0.375" stop-color="#127c61"/><stop offset="0.5" stop-color="#12837b"/><stop offset="0.625" stop-color="#158697"/><stop offset="0.75" stop-color="#1888b4"/><stop offset="0.875" stop-color="#1c8ad1"/><stop offset="1" stop-color="#1f8cef"/></linearGradient><linearGradient id="gc10" gradientUnits="userSpaceOnUse" x1="114.7" y1="404.7" x2="217.8" y2="299.9"><stop offset="0" stop-color="#116715"/><stop offset="0.125" stop-color="#126e2d"/><stop offset="0.25" stop-color="#127546"/><stop offset="0.375" stop-color="#127c61"/><stop offset="0.5" stop-color="#12837a"/><stop offset="0.625" stop-color="#158697"/><stop offset="0.75" stop-color="#1888b4"/><stop offset="0.875" stop-color="#1c89d1"/><stop offset="1" stop-color="#1f8cee"/></linearGradient><linearGradient id="gc11" gradientUnits="userSpaceOnUse" x1="112.7" y1="404.1" x2="215.8" y2="297.8"><stop offset="0" stop-color="#116715"/><stop offset="0.125" stop-color="#126e2d"/><stop offset="0.25" stop-color="#127546"/><stop offset="0.375" stop-color="#127c61"/><stop offset="0.5" stop-color="#12837a"/><stop offset="0.625" stop-color="#158697"/><stop offset="0.75" stop-color="#1888b3"/><stop offset="0.875" stop-color="#1c89d1"/><stop offset="1" stop-color="#1f8cee"/></linearGradient><linearGradient id="gc12" gradientUnits="userSpaceOnUse" x1="110.7" y1="403.5" x2="213.7" y2="295.7"><stop offset="0" stop-color="#116715"/><stop offset="0.125" stop-color="#126e2d"/><stop offset="0.25" stop-color="#127546"/><stop offset="0.375" stop-color="#127c61"/><stop offset="0.5" stop-color="#12837a"/><stop offset="0.625" stop-color="#158697"/><stop offset="0.75" stop-color="#1887b3"/><stop offset="0.875" stop-color="#1c89d1"/><stop offset="1" stop-color="#1f8cee"/></linearGradient><linearGradient id="gc13" gradientUnits="userSpaceOnUse" x1="108.6" y1="403" x2="211.7" y2="293.6"><stop offset="0" stop-color="#126715"/><stop offset="0.125" stop-color="#126e2d"/><stop offset="0.25" stop-color="#127546"/><stop offset="0.375" stop-color="#127c61"/><stop offset="0.5" stop-color="#12837a"/><stop offset="0.625" stop-color="#158597"/><stop offset="0.75" stop-color="#1887b3"/><stop offset="0.875" stop-color="#1c89d0"/><stop offset="1" stop-color="#1f8cee"/></linearGradient><linearGradient id="gc14" gradientUnits="userSpaceOnUse" x1="106.6" y1="402.4" x2="209.7" y2="291.6"><stop offset="0" stop-color="#126715"/><stop offset="0.125" stop-color="#126e2d"/><stop offset="0.25" stop-color="#127546"/><stop offset="0.375" stop-color="#127c61"/><stop offset="0.5" stop-color="#12827a"/><stop offset="0.625" stop-color="#158597"/><stop offset="0.75" stop-color="#1887b3"/><stop offset="0.875" stop-color="#1c89d0"/><stop offset="1" stop-color="#1f8cee"/></linearGradient><linearGradient id="gc15" gradientUnits="userSpaceOnUse" x1="104.6" y1="401.8" x2="207.7" y2="289.5"><stop offset="0" stop-color="#126715"/><stop offset="0.125" stop-color="#126e2d"/><stop offset="0.25" stop-color="#127546"/><stop offset="0.375" stop-color="#127c60"/><stop offset="0.5" stop-color="#12827a"/><stop offset="0.625" stop-color="#158597"/><stop offset="0.75" stop-color="#1887b3"/><stop offset="0.875" stop-color="#1c89d0"/><stop offset="1" stop-color="#1f8bed"/></linearGradient><linearGradient id="gc16" gradientUnits="userSpaceOnUse" x1="102.6" y1="401.3" x2="205.7" y2="287.6"><stop offset="0" stop-color="#126815"/><stop offset="0.125" stop-color="#126e2d"/><stop offset="0.25" stop-color="#127546"/><stop offset="0.375" stop-color="#127c60"/><stop offset="0.5" stop-color="#12827a"/><stop offset="0.625" stop-color="#158597"/><stop offset="0.75" stop-color="#1887b3"/><stop offset="0.875" stop-color="#1c89d0"/><stop offset="1" stop-color="#1f8bed"/></linearGradient><linearGradient id="gc17" gradientUnits="userSpaceOnUse" x1="100.6" y1="400.7" x2="203.7" y2="285.6"><stop offset="0" stop-color="#126815"/><stop offset="0.125" stop-color="#126e2d"/><stop offset="0.25" stop-color="#127546"/><stop offset="0.375" stop-color="#127c60"/><stop offset="0.5" stop-color="#12827a"/><stop offset="0.625" stop-color="#158597"/><stop offset="0.75" stop-color="#1887b3"/><stop offset="0.875" stop-color="#1c89d0"/><stop offset="1" stop-color="#1f8bed"/></linearGradient><linearGradient id="gc18" gradientUnits="userSpaceOnUse" x1="98.6" y1="400.1" x2="201.7" y2="283.7"><stop offset="0" stop-color="#126815"/><stop offset="0.125" stop-color="#126e2d"/><stop offset="0.25" stop-color="#127546"/><stop offset="0.375" stop-color="#127c60"/><stop offset="0.5" stop-color="#12827a"/><stop offset="0.625" stop-color="#158597"/><stop offset="0.75" stop-color="#1887b2"/><stop offset="0.875" stop-color="#1c88d0"/><stop offset="1" stop-color="#1f8bed"/></linearGradient><linearGradient id="gc19" gradientUnits="userSpaceOnUse" x1="96.6" y1="399.6" x2="199.7" y2="281.8"><stop offset="0" stop-color="#126815"/><stop offset="0.125" stop-color="#126e2d"/><stop offset="0.25" stop-color="#127546"/><stop offset="0.375" stop-color="#127c60"/><stop offset="0.5" stop-color="#12827a"/><stop offset="0.625" stop-color="#158596"/><stop offset="0.75" stop-color="#1887b2"/><stop offset="0.875" stop-color="#1c88cf"/><stop offset="1" stop-color="#1f8bec"/></linearGradient><linearGradient id="gc20" gradientUnits="userSpaceOnUse" x1="94.6" y1="399" x2="197.6" y2="280"><stop offset="0" stop-color="#126815"/><stop offset="0.125" stop-color="#126e2d"/><stop offset="0.25" stop-color="#127546"/><stop offset="0.375" stop-color="#127c60"/><stop offset="0.5" stop-color="#12827a"/><stop offset="0.625" stop-color="#158596"/><stop offset="0.75" stop-color="#1887b2"/><stop offset="0.875" stop-color="#1c88cf"/><stop offset="1" stop-color="#1f8bec"/></linearGradient><linearGradient id="gc21" gradientUnits="userSpaceOnUse" x1="92.5" y1="398.4" x2="195.6" y2="278.2"><stop offset="0" stop-color="#126815"/><stop offset="0.125" stop-color="#126e2d"/><stop offset="0.25" stop-color="#127546"/><stop offset="0.375" stop-color="#127b60"/><stop offset="0.5" stop-color="#12827a"/><stop offset="0.625" stop-color="#158596"/><stop offset="0.75" stop-color="#1886b2"/><stop offset="0.875" stop-color="#1c88cf"/><stop offset="1" stop-color="#1f8bec"/></linearGradient><linearGradient id="gc22" gradientUnits="userSpaceOnUse" x1="90.5" y1="397.9" x2="193.6" y2="276.4"><stop offset="0" stop-color="#126815"/><stop offset="0.125" stop-color="#126e2d"/><stop offset="0.25" stop-color="#127546"/><stop offset="0.375" stop-color="#127b60"/><stop offset="0.5" stop-color="#12827a"/><stop offset="0.625" stop-color="#158596"/><stop offset="0.75" stop-color="#1886b2"/><stop offset="0.875" stop-color="#1c88cf"/><stop offset="1" stop-color="#1f8aec"/></linearGradient><linearGradient id="gc23" gradientUnits="userSpaceOnUse" x1="88.5" y1="397.3" x2="191.6" y2="274.7"><stop offset="0" stop-color="#126815"/><stop offset="0.125" stop-color="#126e2d"/><stop offset="0.25" stop-color="#127546"/><stop offset="0.375" stop-color="#127b60"/><stop offset="0.5" stop-color="#128279"/><stop offset="0.625" stop-color="#158496"/><stop offset="0.75" stop-color="#1886b2"/><stop offset="0.875" stop-color="#1c88ce"/><stop offset="1" stop-color="#1f8aeb"/></linearGradient><linearGradient id="gc24" gradientUnits="userSpaceOnUse" x1="86.5" y1="396.7" x2="189.6" y2="273"><stop offset="0" stop-color="#126815"/><stop offset="0.125" stop-color="#126e2d"/><stop offset="0.25" stop-color="#127546"/><stop offset="0.375" stop-color="#127b60"/><stop offset="0.5" stop-color="#128279"/><stop offset="0.625" stop-color="#158496"/><stop offset="0.75" stop-color="#1886b1"/><stop offset="0.875" stop-color="#1c88ce"/><stop offset="1" stop-color="#1f8aeb"/></linearGradient><linearGradient id="gc25" gradientUnits="userSpaceOnUse" x1="84.5" y1="396.2" x2="187.6" y2="271.3"><stop offset="0" stop-color="#126815"/><stop offset="0.125" stop-color="#126e2d"/><stop offset="0.25" stop-color="#127546"/><stop offset="0.375" stop-color="#127b60"/><stop offset="0.5" stop-color="#128179"/><stop offset="0.625" stop-color="#158496"/><stop offset="0.75" stop-color="#1886b1"/><stop offset="0.875" stop-color="#1c87ce"/><stop offset="1" stop-color="#1f8aeb"/></linearGradient><linearGradient id="gc26" gradientUnits="userSpaceOnUse" x1="82.5" y1="395.6" x2="185.6" y2="269.7"><stop offset="0" stop-color="#126815"/><stop offset="0.125" stop-color="#126e2d"/><stop offset="0.25" stop-color="#127546"/><stop offset="0.375" stop-color="#127b60"/><stop offset="0.5" stop-color="#128179"/><stop offset="0.625" stop-color="#158495"/><stop offset="0.75" stop-color="#1886b1"/><stop offset="0.875" stop-color="#1c87cd"/><stop offset="1" stop-color="#1f8aea"/></linearGradient><linearGradient id="gc27" gradientUnits="userSpaceOnUse" x1="80.5" y1="395" x2="183.6" y2="268.2"><stop offset="0" stop-color="#126815"/><stop offset="0.125" stop-color="#126e2d"/><stop offset="0.25" stop-color="#127546"/><stop offset="0.375" stop-color="#127b60"/><stop offset="0.5" stop-color="#128179"/><stop offset="0.625" stop-color="#158495"/><stop offset="0.75" stop-color="#1885b1"/><stop offset="0.875" stop-color="#1c87cd"/><stop offset="1" stop-color="#1f89ea"/></linearGradient><linearGradient id="gc28" gradientUnits="userSpaceOnUse" x1="78.5" y1="394.5" x2="181.6" y2="266.7"><stop offset="0" stop-color="#126815"/><stop offset="0.125" stop-color="#126e2d"/><stop offset="0.25" stop-color="#127546"/><stop offset="0.375" stop-color="#127b60"/><stop offset="0.5" stop-color="#128179"/><stop offset="0.625" stop-color="#158495"/><stop offset="0.75" stop-color="#1885b0"/><stop offset="0.875" stop-color="#1c87cd"/><stop offset="1" stop-color="#1f89e9"/></linearGradient><linearGradient id="gc29" gradientUnits="userSpaceOnUse" x1="76.4" y1="393.9" x2="179.5" y2="265.3"><stop offset="0" stop-color="#126815"/><stop offset="0.125" stop-color="#126e2d"/><stop offset="0.25" stop-color="#127546"/><stop offset="0.375" stop-color="#127b60"/><stop offset="0.5" stop-color="#128179"/><stop offset="0.625" stop-color="#158395"/><stop offset="0.75" stop-color="#1885b0"/><stop offset="0.875" stop-color="#1c86cc"/><stop offset="1" stop-color="#1f89e9"/></linearGradient><linearGradient id="gc30" gradientUnits="userSpaceOnUse" x1="74.4" y1="393.3" x2="177.5" y2="263.9"><stop offset="0" stop-color="#126815"/><stop offset="0.125" stop-color="#126e2d"/><stop offset="0.25" stop-color="#127446"/><stop offset="0.375" stop-color="#127b60"/><stop offset="0.5" stop-color="#128178"/><stop offset="0.625" stop-color="#158394"/><stop offset="0.75" stop-color="#1885b0"/><stop offset="0.875" stop-color="#1c86cc"/><stop offset="1" stop-color="#1e88e8"/></linearGradient><linearGradient id="gc31" gradientUnits="userSpaceOnUse" x1="72.4" y1="392.8" x2="175.5" y2="262.6"><stop offset="0" stop-color="#126815"/><stop offset="0.125" stop-color="#126e2d"/><stop offset="0.25" stop-color="#127446"/><stop offset="0.375" stop-color="#127a5f"/><stop offset="0.5" stop-color="#128078"/><stop offset="0.625" stop-color="#158394"/><stop offset="0.75" stop-color="#1884af"/><stop offset="0.875" stop-color="#1b86cb"/><stop offset="1" stop-color="#1e88e8"/></linearGradient><linearGradient id="gc32" gradientUnits="userSpaceOnUse" x1="70.4" y1="392.2" x2="173.5" y2="261.3"><stop offset="0" stop-color="#126815"/><stop offset="0.125" stop-color="#126e2d"/><stop offset="0.25" stop-color="#127446"/><stop offset="0.375" stop-color="#127a5f"/><stop offset="0.5" stop-color="#128078"/><stop offset="0.625" stop-color="#158394"/><stop offset="0.75" stop-color="#1884af"/><stop offset="0.875" stop-color="#1b85cb"/><stop offset="1" stop-color="#1e88e7"/></linearGradient><linearGradient id="gc33" gradientUnits="userSpaceOnUse" x1="68.4" y1="391.6" x2="171.5" y2="260.2"><stop offset="0" stop-color="#126815"/><stop offset="0.125" stop-color="#126e2d"/><stop offset="0.25" stop-color="#127446"/><stop offset="0.375" stop-color="#127a5f"/><stop offset="0.5" stop-color="#128078"/><stop offset="0.625" stop-color="#158293"/><stop offset="0.75" stop-color="#1884ae"/><stop offset="0.875" stop-color="#1b85ca"/><stop offset="1" stop-color="#1e87e6"/></linearGradient><linearGradient id="gc34" gradientUnits="userSpaceOnUse" x1="66.4" y1="391.1" x2="169.5" y2="259.1"><stop offset="0" stop-color="#126815"/><stop offset="0.125" stop-color="#126e2d"/><stop offset="0.25" stop-color="#127446"/><stop offset="0.375" stop-color="#127a5f"/><stop offset="0.5" stop-color="#128078"/><stop offset="0.625" stop-color="#158293"/><stop offset="0.75" stop-color="#1883ae"/><stop offset="0.875" stop-color="#1b85ca"/><stop offset="1" stop-color="#1e87e6"/></linearGradient><linearGradient id="gc35" gradientUnits="userSpaceOnUse" x1="64.4" y1="390.5" x2="167.5" y2="258"><stop offset="0" stop-color="#126815"/><stop offset="0.125" stop-color="#126e2d"/><stop offset="0.25" stop-color="#127446"/><stop offset="0.375" stop-color="#127a5f"/><stop offset="0.5" stop-color="#127f77"/><stop offset="0.625" stop-color="#158293"/><stop offset="0.75" stop-color="#1783ad"/><stop offset="0.875" stop-color="#1b84c9"/><stop offset="1" stop-color="#1e86e5"/></linearGradient><linearGradient id="gc36" gradientUnits="userSpaceOnUse" x1="62.4" y1="389.9" x2="165.5" y2="257.1"><stop offset="0" stop-color="#126815"/><stop offset="0.125" stop-color="#126e2d"/><stop offset="0.25" stop-color="#127445"/><stop offset="0.375" stop-color="#12795f"/><stop offset="0.5" stop-color="#127f77"/><stop offset="0.625" stop-color="#158192"/><stop offset="0.75" stop-color="#1782ad"/><stop offset="0.875" stop-color="#1b84c8"/><stop offset="1" stop-color="#1e86e4"/></linearGradient><linearGradient id="gc37" gradientUnits="userSpaceOnUse" x1="60.4" y1="389.4" x2="163.4" y2="256.2"><stop offset="0" stop-color="#126815"/><stop offset="0.125" stop-color="#126e2d"/><stop offset="0.25" stop-color="#127445"/><stop offset="0.375" stop-color="#12795e"/><stop offset="0.5" stop-color="#127f77"/><stop offset="0.625" stop-color="#158192"/><stop offset="0.75" stop-color="#1782ac"/><stop offset="0.875" stop-color="#1b83c7"/><stop offset="1" stop-color="#1e85e3"/></linearGradient><linearGradient id="gc38" gradientUnits="userSpaceOnUse" x1="58.3" y1="388.8" x2="161.4" y2="255.5"><stop offset="0" stop-color="#126815"/><stop offset="0.125" stop-color="#126e2d"/><stop offset="0.25" stop-color="#127345"/><stop offset="0.375" stop-color="#12795e"/><stop offset="0.5" stop-color="#127e76"/><stop offset="0.625" stop-color="#148091"/><stop offset="0.75" stop-color="#1781ab"/><stop offset="0.875" stop-color="#1b82c6"/><stop offset="1" stop-color="#1e84e1"/></linearGradient><linearGradient id="gc39" gradientUnits="userSpaceOnUse" x1="56.3" y1="388.2" x2="159.4" y2="254.8"><stop offset="0" stop-color="#126815"/><stop offset="0.125" stop-color="#126e2d"/><stop offset="0.25" stop-color="#127345"/><stop offset="0.375" stop-color="#12795e"/><stop offset="0.5" stop-color="#127e76"/><stop offset="0.625" stop-color="#148091"/><stop offset="0.75" stop-color="#1781aa"/><stop offset="0.875" stop-color="#1b82c5"/><stop offset="1" stop-color="#1d83e0"/></linearGradient><linearGradient id="gc40" gradientUnits="userSpaceOnUse" x1="54.3" y1="387.7" x2="157.4" y2="254.2"><stop offset="0" stop-color="#126815"/><stop offset="0.125" stop-color="#126e2d"/><stop offset="0.25" stop-color="#127345"/><stop offset="0.375" stop-color="#12785e"/><stop offset="0.5" stop-color="#127d76"/><stop offset="0.625" stop-color="#147f90"/><stop offset="0.75" stop-color="#1780aa"/><stop offset="0.875" stop-color="#1a81c4"/><stop offset="1" stop-color="#1d83de"/></linearGradient><linearGradient id="gc41" gradientUnits="userSpaceOnUse" x1="52.3" y1="387.1" x2="155.4" y2="253.8"><stop offset="0" stop-color="#126815"/><stop offset="0.125" stop-color="#126e2d"/><stop offset="0.25" stop-color="#127345"/><stop offset="0.375" stop-color="#12785d"/><stop offset="0.5" stop-color="#127d75"/><stop offset="0.625" stop-color="#147f8f"/><stop offset="0.75" stop-color="#177fa8"/><stop offset="0.875" stop-color="#1a80c3"/><stop offset="1" stop-color="#1d81dc"/></linearGradient><linearGradient id="gc42" gradientUnits="userSpaceOnUse" x1="50.3" y1="386.5" x2="153.4" y2="253.4"><stop offset="0" stop-color="#126815"/><stop offset="0.125" stop-color="#126d2d"/><stop offset="0.25" stop-color="#127245"/><stop offset="0.375" stop-color="#12775d"/><stop offset="0.5" stop-color="#127c75"/><stop offset="0.625" stop-color="#147e8e"/><stop offset="0.75" stop-color="#177ea7"/><stop offset="0.875" stop-color="#1a7fc1"/><stop offset="1" stop-color="#1d80da"/></linearGradient><linearGradient id="gc43" gradientUnits="userSpaceOnUse" x1="48.3" y1="386" x2="151.4" y2="253.1"><stop offset="0" stop-color="#126815"/><stop offset="0.125" stop-color="#126d2d"/><stop offset="0.25" stop-color="#127245"/><stop offset="0.375" stop-color="#12775d"/><stop offset="0.5" stop-color="#117c74"/><stop offset="0.625" stop-color="#147d8e"/><stop offset="0.75" stop-color="#167da6"/><stop offset="0.875" stop-color="#1a7ebf"/><stop offset="1" stop-color="#1c7fd8"/></linearGradient><linearGradient id="gc44" gradientUnits="userSpaceOnUse" x1="46.3" y1="385.4" x2="149.4" y2="253"><stop offset="0" stop-color="#126815"/><stop offset="0.125" stop-color="#126d2d"/><stop offset="0.25" stop-color="#127244"/><stop offset="0.375" stop-color="#11775c"/><stop offset="0.5" stop-color="#117b73"/><stop offset="0.625" stop-color="#147c8d"/><stop offset="0.75" stop-color="#167ca5"/><stop offset="0.875" stop-color="#1a7cbd"/><stop offset="1" stop-color="#1c7dd5"/></linearGradient></defs>
<g filter="url(#bl)"><path d="M135.8 410.6L238.9 324.6L235.7 320.5L132.6 409.7Z" fill="url(#gc0)"/><path d="M133.8 410L236.9 322L233.7 318.1L130.6 409.1Z" fill="url(#gc1)"/><path d="M131.8 409.5L234.9 319.5L231.7 315.6L128.6 408.6Z" fill="url(#gc2)"/><path d="M129.8 408.9L232.9 317.1L229.6 313.2L126.5 408Z" fill="url(#gc3)"/><path d="M127.8 408.3L230.8 314.7L227.6 310.9L124.5 407.4Z" fill="url(#gc4)"/><path d="M125.7 407.8L228.8 312.3L225.6 308.6L122.5 406.9Z" fill="url(#gc5)"/><path d="M123.7 407.2L226.8 310L223.6 306.3L120.5 406.3Z" fill="url(#gc6)"/><path d="M121.7 406.6L224.8 307.7L221.6 304.1L118.5 405.7Z" fill="url(#gc7)"/><path d="M119.7 406.1L222.8 305.4L219.6 301.9L116.5 405.2Z" fill="url(#gc8)"/><path d="M117.7 405.5L220.8 303.2L217.6 299.7L114.5 404.6Z" fill="url(#gc9)"/><path d="M115.7 404.9L218.8 301L215.6 297.6L112.5 404Z" fill="url(#gc10)"/><path d="M113.7 404.4L216.8 298.9L213.5 295.5L110.4 403.5Z" fill="url(#gc11)"/><path d="M111.7 403.8L214.8 296.7L211.5 293.4L108.4 402.9Z" fill="url(#gc12)"/><path d="M109.6 403.2L212.7 294.6L209.5 291.4L106.4 402.3Z" fill="url(#gc13)"/><path d="M107.6 402.7L210.7 292.6L207.5 289.3L104.4 401.8Z" fill="url(#gc14)"/><path d="M105.6 402.1L208.7 290.6L205.5 287.4L102.4 401.2Z" fill="url(#gc15)"/><path d="M103.6 401.5L206.7 288.6L203.5 285.4L100.4 400.6Z" fill="url(#gc16)"/><path d="M101.6 401L204.7 286.6L201.5 283.5L98.4 400.1Z" fill="url(#gc17)"/><path d="M99.6 400.4L202.7 284.7L199.5 281.6L96.4 399.5Z" fill="url(#gc18)"/><path d="M97.6 399.8L200.7 282.8L197.4 279.8L94.4 398.9Z" fill="url(#gc19)"/><path d="M95.6 399.3L198.7 280.9L195.4 278L92.3 398.4Z" fill="url(#gc20)"/><path d="M93.5 398.7L196.6 279.1L193.4 276.2L90.3 397.8Z" fill="url(#gc21)"/><path d="M91.5 398.1L194.6 277.3L191.4 274.5L88.3 397.2Z" fill="url(#gc22)"/><path d="M89.5 397.6L192.6 275.5L189.4 272.8L86.3 396.7Z" fill="url(#gc23)"/><path d="M87.5 397L190.6 273.8L187.4 271.2L84.3 396.1Z" fill="url(#gc24)"/><path d="M85.5 396.5L188.6 272.1L185.4 269.6L82.3 395.5Z" fill="url(#gc25)"/><path d="M83.5 395.9L186.6 270.5L183.4 268L80.3 395Z" fill="url(#gc26)"/><path d="M81.5 395.3L184.6 269L181.4 266.6L78.3 394.4Z" fill="url(#gc27)"/><path d="M79.5 394.8L182.6 267.4L179.3 265.1L76.2 393.8Z" fill="url(#gc28)"/><path d="M77.5 394.2L180.5 266L177.3 263.8L74.2 393.3Z" fill="url(#gc29)"/><path d="M75.4 393.6L178.5 264.6L175.3 262.4L72.2 392.7Z" fill="url(#gc30)"/><path d="M73.4 393.1L176.5 263.2L173.3 261.2L70.2 392.1Z" fill="url(#gc31)"/><path d="M71.4 392.5L174.5 261.9L171.3 260L68.2 391.6Z" fill="url(#gc32)"/><path d="M69.4 391.9L172.5 260.7L169.3 259L66.2 391Z" fill="url(#gc33)"/><path d="M67.4 391.4L170.5 259.6L167.3 257.9L64.2 390.5Z" fill="url(#gc34)"/><path d="M65.4 390.8L168.5 258.5L165.3 257L62.2 389.9Z" fill="url(#gc35)"/><path d="M63.4 390.2L166.5 257.6L163.2 256.2L60.1 389.3Z" fill="url(#gc36)"/><path d="M61.4 389.7L164.5 256.7L161.2 255.4L58.1 388.8Z" fill="url(#gc37)"/><path d="M59.3 389.1L162.4 255.8L159.2 254.7L56.1 388.2Z" fill="url(#gc38)"/><path d="M57.3 388.5L160.4 255.1L157.2 254.2L54.1 387.6Z" fill="url(#gc39)"/><path d="M55.3 388L158.4 254.5L155.2 253.7L52.1 387.1Z" fill="url(#gc40)"/><path d="M53.3 387.4L156.4 254L153.2 253.4L50.1 386.5Z" fill="url(#gc41)"/><path d="M51.3 386.8L154.4 253.6L151.2 253.1L48.1 385.9Z" fill="url(#gc42)"/><path d="M49.3 386.3L152.4 253.3L149.2 253L46.1 385.4Z" fill="url(#gc43)"/><path d="M47.3 385.7L150.4 253.1L148.4 253L45.3 385.1Z" fill="url(#gc44)"/>
<path d="M135.8 410.6L45.3 385.1M137.1 409.5L134.1 408.6L131.1 407.8L128 406.9L125 406L122 405.1L119 404.2L116 403.3L112.9 402.5L109.9 401.6L106.9 400.7L103.9 399.8L100.9 399L97.9 398.1L94.8 397.2L91.8 396.3L88.8 395.5L85.8 394.6L82.8 393.7L79.7 392.9L76.7 392L73.7 391.1L70.7 390.3L67.7 389.4L64.7 388.6L61.6 387.7L58.6 386.9L55.6 386L52.6 385.2L49.6 384.3L46.5 383.5M138.4 408.4L135.4 407.5L132.3 406.6L129.3 405.7L126.3 404.8L123.3 403.9L120.3 402.9L117.3 402L114.2 401.1L111.2 400.2L108.2 399.3L105.2 398.4L102.2 397.5L99.1 396.6L96.1 395.7L93.1 394.8L90.1 393.9L87.1 393L84.1 392.2L81 391.3L78 390.4L75 389.5L72 388.6L69 387.8L65.9 386.9L62.9 386L59.9 385.2L56.9 384.3L53.9 383.5L50.9 382.7L47.8 381.8M139.7 407.4L136.6 406.4L133.6 405.5L130.6 404.5L127.6 403.6L124.6 402.6L121.6 401.7L118.5 400.7L115.5 399.8L112.5 398.9L109.5 397.9L106.5 397L103.5 396.1L100.4 395.1L97.4 394.2L94.4 393.3L91.4 392.4L88.4 391.5L85.3 390.6L82.3 389.7L79.3 388.8L76.3 387.9L73.3 387L70.3 386.1L67.2 385.2L64.2 384.4L61.2 383.5L58.2 382.7L55.2 381.8L52.1 381L49.1 380.2M141 406.3L137.9 405.3L134.9 404.3L131.9 403.3L128.9 402.3L125.9 401.4L122.8 400.4L119.8 399.4L116.8 398.5L113.8 397.5L110.8 396.5L107.8 395.6L104.7 394.6L101.7 393.7L98.7 392.7L95.7 391.8L92.7 390.9L89.6 389.9L86.6 389L83.6 388.1L80.6 387.2L77.6 386.3L74.6 385.4L71.5 384.5L68.5 383.6L65.5 382.7L62.5 381.9L59.5 381L56.5 380.2L53.4 379.3L50.4 378.5M142.2 405.2L139.2 404.2L136.2 403.2L133.2 402.1L130.2 401.1L127.2 400.1L124.1 399.1L121.1 398.1L118.1 397.1L115.1 396.1L112.1 395.1L109 394.2L106 393.2L103 392.2L100 391.2L97 390.3L94 389.3L90.9 388.4L87.9 387.4L84.9 386.5L81.9 385.6L78.9 384.6L75.8 383.7L72.8 382.8L69.8 381.9L66.8 381.1L63.8 380.2L60.8 379.3L57.7 378.5L54.7 377.7L51.7 376.9M143.5 404.1L140.5 403.1L137.5 402L134.5 401L131.5 399.9L128.4 398.9L125.4 397.8L122.4 396.8L119.4 395.8L116.4 394.8L113.4 393.7L110.3 392.7L107.3 391.7L104.3 390.7L101.3 389.7L98.3 388.8L95.2 387.8L92.2 386.8L89.2 385.8L86.2 384.9L83.2 383.9L80.2 383L77.1 382.1L74.1 381.2L71.1 380.3L68.1 379.4L65.1 378.5L62 377.7L59 376.8L56 376L53 375.2M144.8 403.1L141.8 402L138.8 400.9L135.8 399.8L132.7 398.7L129.7 397.6L126.7 396.6L123.7 395.5L120.7 394.4L117.7 393.4L114.6 392.3L111.6 391.3L108.6 390.3L105.6 389.3L102.6 388.2L99.6 387.2L96.5 386.2L93.5 385.2L90.5 384.3L87.5 383.3L84.5 382.3L81.4 381.4L78.4 380.4L75.4 379.5L72.4 378.6L69.4 377.7L66.4 376.9L63.3 376L60.3 375.2L57.3 374.4L54.3 373.6M146.1 402L143.1 400.9L140.1 399.7L137.1 398.6L134 397.5L131 396.4L128 395.3L125 394.2L122 393.1L118.9 392L115.9 391L112.9 389.9L109.9 388.8L106.9 387.8L103.9 386.7L100.8 385.7L97.8 384.7L94.8 383.7L91.8 382.7L88.8 381.7L85.7 380.7L82.7 379.8L79.7 378.8L76.7 377.9L73.7 377L70.7 376.1L67.6 375.2L64.6 374.3L61.6 373.5L58.6 372.7L55.6 371.9M147.4 400.9L144.4 399.7L141.4 398.6L138.3 397.4L135.3 396.3L132.3 395.1L129.3 394L126.3 392.9L123.3 391.8L120.2 390.7L117.2 389.6L114.2 388.5L111.2 387.4L108.2 386.3L105.1 385.3L102.1 384.2L99.1 383.2L96.1 382.1L93.1 381.1L90.1 380.1L87 379.1L84 378.1L81 377.2L78 376.2L75 375.3L71.9 374.4L68.9 373.5L65.9 372.7L62.9 371.8L59.9 371L56.9 370.3M148.7 399.8L145.7 398.6L142.7 397.4L139.6 396.2L136.6 395.1L133.6 393.9L130.6 392.7L127.6 391.6L124.5 390.4L121.5 389.3L118.5 388.2L115.5 387L112.5 385.9L109.5 384.8L106.4 383.8L103.4 382.7L100.4 381.6L97.4 380.6L94.4 379.5L91.3 378.5L88.3 377.5L85.3 376.5L82.3 375.5L79.3 374.6L76.3 373.6L73.2 372.7L70.2 371.9L67.2 371L64.2 370.2L61.2 369.4L58.1 368.6M150 398.8L147 397.5L143.9 396.3L140.9 395L137.9 393.8L134.9 392.6L131.9 391.4L128.8 390.3L125.8 389.1L122.8 387.9L119.8 386.8L116.8 385.6L113.8 384.5L110.7 383.4L107.7 382.3L104.7 381.2L101.7 380.1L98.7 379L95.7 377.9L92.6 376.9L89.6 375.9L86.6 374.9L83.6 373.9L80.6 372.9L77.5 372L74.5 371.1L71.5 370.2L68.5 369.3L65.5 368.5L62.5 367.7L59.4 367M151.3 397.7L148.2 396.4L145.2 395.1L142.2 393.9L139.2 392.6L136.2 391.4L133.2 390.2L130.1 388.9L127.1 387.7L124.1 386.6L121.1 385.4L118.1 384.2L115 383L112 381.9L109 380.8L106 379.6L103 378.5L100 377.4L96.9 376.4L93.9 375.3L90.9 374.3L87.9 373.2L84.9 372.2L81.9 371.3L78.8 370.3L75.8 369.4L72.8 368.5L69.8 367.7L66.8 366.8L63.7 366.1L60.7 365.3M152.6 396.6L149.5 395.3L146.5 394L143.5 392.7L140.5 391.4L137.5 390.1L134.4 388.9L131.4 387.6L128.4 386.4L125.4 385.2L122.4 384L119.4 382.8L116.3 381.6L113.3 380.4L110.3 379.3L107.3 378.1L104.3 377L101.2 375.9L98.2 374.8L95.2 373.7L92.2 372.6L89.2 371.6L86.2 370.6L83.1 369.6L80.1 368.7L77.1 367.7L74.1 366.8L71.1 366L68 365.2L65 364.4L62 363.7M153.8 395.5L150.8 394.2L147.8 392.8L144.8 391.5L141.8 390.2L138.8 388.9L135.7 387.6L132.7 386.3L129.7 385.1L126.7 383.8L123.7 382.6L120.6 381.4L117.6 380.2L114.6 379L111.6 377.8L108.6 376.6L105.6 375.5L102.5 374.3L99.5 373.2L96.5 372.1L93.5 371L90.5 370L87.4 369L84.4 368L81.4 367L78.4 366.1L75.4 365.2L72.4 364.3L69.3 363.5L66.3 362.7L63.3 362M155.1 394.5L152.1 393.1L149.1 391.7L146.1 390.3L143.1 389L140 387.6L137 386.3L134 385L131 383.7L128 382.5L125 381.2L121.9 379.9L118.9 378.7L115.9 377.5L112.9 376.3L109.9 375.1L106.8 373.9L103.8 372.8L100.8 371.6L97.8 370.5L94.8 369.4L91.8 368.4L88.7 367.3L85.7 366.3L82.7 365.3L79.7 364.4L76.7 363.5L73.6 362.7L70.6 361.8L67.6 361.1L64.6 360.4M156.4 393.4L153.4 392L150.4 390.5L147.4 389.1L144.3 387.8L141.3 386.4L138.3 385L135.3 383.7L132.3 382.4L129.3 381.1L126.2 379.8L123.2 378.5L120.2 377.3L117.2 376L114.2 374.8L111.1 373.6L108.1 372.4L105.1 371.2L102.1 370L99.1 368.9L96.1 367.8L93 366.7L90 365.7L87 364.7L84 363.7L81 362.7L78 361.8L74.9 361L71.9 360.2L68.9 359.4L65.9 358.7M157.7 392.3L154.7 390.8L151.7 389.4L148.7 388L145.6 386.5L142.6 385.1L139.6 383.8L136.6 382.4L133.6 381.1L130.5 379.7L127.5 378.4L124.5 377.1L121.5 375.8L118.5 374.5L115.5 373.3L112.4 372.1L109.4 370.8L106.4 369.6L103.4 368.5L100.4 367.3L97.3 366.2L94.3 365.1L91.3 364L88.3 363L85.3 362L82.3 361.1L79.2 360.2L76.2 359.3L73.2 358.5L70.2 357.8L67.2 357M159 391.2L156 389.7L153 388.2L149.9 386.8L146.9 385.3L143.9 383.9L140.9 382.5L137.9 381.1L134.9 379.7L131.8 378.4L128.8 377L125.8 375.7L122.8 374.4L119.8 373.1L116.7 371.8L113.7 370.5L110.7 369.3L107.7 368.1L104.7 366.9L101.7 365.7L98.6 364.6L95.6 363.5L92.6 362.4L89.6 361.4L86.6 360.4L83.5 359.4L80.5 358.5L77.5 357.7L74.5 356.8L71.5 356.1L68.5 355.4M160.3 390.2L157.3 388.6L154.2 387.1L151.2 385.6L148.2 384.1L145.2 382.7L142.2 381.2L139.2 379.8L136.1 378.4L133.1 377L130.1 375.6L127.1 374.3L124.1 372.9L121.1 371.6L118 370.3L115 369L112 367.8L109 366.5L106 365.3L102.9 364.1L99.9 363L96.9 361.9L93.9 360.8L90.9 359.7L87.9 358.7L84.8 357.8L81.8 356.8L78.8 356L75.8 355.2L72.8 354.4L69.7 353.7M161.6 389.1L158.6 387.5L155.5 385.9L152.5 384.4L149.5 382.9L146.5 381.4L143.5 379.9L140.4 378.5L137.4 377L134.4 375.6L131.4 374.2L128.4 372.8L125.4 371.5L122.3 370.1L119.3 368.8L116.3 367.5L113.3 366.2L110.3 365L107.2 363.7L104.2 362.5L101.2 361.4L98.2 360.2L95.2 359.1L92.2 358.1L89.1 357.1L86.1 356.1L83.1 355.2L80.1 354.3L77.1 353.5L74.1 352.8L71 352.1M162.9 388L159.8 386.4L156.8 384.8L153.8 383.2L150.8 381.7L147.8 380.2L144.8 378.7L141.7 377.2L138.7 375.7L135.7 374.3L132.7 372.8L129.7 371.4L126.6 370L123.6 368.7L120.6 367.3L117.6 366L114.6 364.7L111.6 363.4L108.5 362.1L105.5 360.9L102.5 359.7L99.5 358.6L96.5 357.5L93.4 356.4L90.4 355.4L87.4 354.4L84.4 353.5L81.4 352.6L78.4 351.8L75.3 351.1L72.3 350.4M164.2 386.9L161.1 385.3L158.1 383.7L155.1 382L152.1 380.5L149.1 378.9L146 377.4L143 375.9L140 374.4L137 372.9L134 371.4L131 370L127.9 368.6L124.9 367.2L121.9 365.8L118.9 364.5L115.9 363.1L112.8 361.8L109.8 360.6L106.8 359.3L103.8 358.1L100.8 357L97.8 355.8L94.7 354.8L91.7 353.7L88.7 352.8L85.7 351.8L82.7 351L79.6 350.2L76.6 349.5L73.6 348.8M165.4 385.9L162.4 384.2L159.4 382.5L156.4 380.9L153.4 379.3L150.4 377.7L147.3 376.1L144.3 374.5L141.3 373L138.3 371.5L135.3 370L132.2 368.6L129.2 367.1L126.2 365.7L123.2 364.3L120.2 362.9L117.2 361.6L114.1 360.3L111.1 359L108.1 357.7L105.1 356.5L102.1 355.3L99 354.2L96 353.1L93 352.1L90 351.1L87 350.2L84 349.3L80.9 348.5L77.9 347.8L74.9 347.1M166.7 384.8L163.7 383.1L160.7 381.4L157.7 379.7L154.7 378L151.6 376.4L148.6 374.8L145.6 373.2L142.6 371.7L139.6 370.2L136.5 368.6L133.5 367.2L130.5 365.7L127.5 364.2L124.5 362.8L121.5 361.4L118.4 360.1L115.4 358.7L112.4 357.4L109.4 356.1L106.4 354.9L103.4 353.7L100.3 352.6L97.3 351.5L94.3 350.4L91.3 349.4L88.3 348.5L85.2 347.6L82.2 346.9L79.2 346.1L76.2 345.5M168 383.7L165 381.9L162 380.2L159 378.5L155.9 376.8L152.9 375.2L149.9 373.5L146.9 371.9L143.9 370.3L140.9 368.8L137.8 367.2L134.8 365.7L131.8 364.2L128.8 362.8L125.8 361.3L122.7 359.9L119.7 358.5L116.7 357.2L113.7 355.8L110.7 354.5L107.7 353.3L104.6 352.1L101.6 350.9L98.6 349.8L95.6 348.8L92.6 347.8L89.5 346.8L86.5 346L83.5 345.2L80.5 344.5L77.5 343.8M169.3 382.6L166.3 380.8L163.3 379.1L160.3 377.3L157.2 375.6L154.2 373.9L151.2 372.3L148.2 370.6L145.2 369L142.1 367.4L139.1 365.9L136.1 364.3L133.1 362.8L130.1 361.3L127.1 359.8L124 358.4L121 357L118 355.6L115 354.3L112 352.9L108.9 351.7L105.9 350.5L102.9 349.3L99.9 348.2L96.9 347.1L93.9 346.1L90.8 345.2L87.8 344.3L84.8 343.5L81.8 342.8L78.8 342.2M170.6 381.6L167.6 379.7L164.6 377.9L161.5 376.1L158.5 374.4L155.5 372.7L152.5 371L149.5 369.3L146.5 367.7L143.4 366.1L140.4 364.5L137.4 362.9L134.4 361.3L131.4 359.8L128.3 358.3L125.3 356.9L122.3 355.4L119.3 354L116.3 352.7L113.3 351.3L110.2 350.1L107.2 348.8L104.2 347.6L101.2 346.5L98.2 345.4L95.1 344.4L92.1 343.5L89.1 342.6L86.1 341.9L83.1 341.1L80.1 340.5M171.9 380.5L168.9 378.6L165.8 376.8L162.8 375L159.8 373.2L156.8 371.4L153.8 369.7L150.8 368L147.7 366.3L144.7 364.7L141.7 363.1L138.7 361.5L135.7 359.9L132.6 358.4L129.6 356.8L126.6 355.4L123.6 353.9L120.6 352.5L117.6 351.1L114.5 349.8L111.5 348.5L108.5 347.2L105.5 346L102.5 344.9L99.5 343.8L96.4 342.8L93.4 341.8L90.4 341L87.4 340.2L84.4 339.5L81.3 338.9M173.2 379.4L170.2 377.5L167.1 375.6L164.1 373.8L161.1 372L158.1 370.2L155.1 368.4L152 366.7L149 365L146 363.3L143 361.7L140 360L137 358.5L133.9 356.9L130.9 355.3L127.9 353.8L124.9 352.4L121.9 350.9L118.8 349.5L115.8 348.2L112.8 346.8L109.8 345.6L106.8 344.4L103.8 343.2L100.7 342.1L97.7 341.1L94.7 340.2L91.7 339.3L88.7 338.5L85.7 337.8L82.6 337.2M174.5 378.3L171.4 376.4L168.4 374.5L165.4 372.6L162.4 370.7L159.4 368.9L156.4 367.1L153.3 365.4L150.3 363.7L147.3 362L144.3 360.3L141.3 358.6L138.2 357L135.2 355.4L132.2 353.8L129.2 352.3L126.2 350.8L123.2 349.4L120.1 347.9L117.1 346.6L114.1 345.2L111.1 343.9L108.1 342.7L105 341.6L102 340.5L99 339.4L96 338.5L93 337.6L90 336.9L86.9 336.2L83.9 335.6M175.7 377.3L172.7 375.3L169.7 373.3L166.7 371.4L163.7 369.5L160.7 367.7L157.6 365.9L154.6 364.1L151.6 362.3L148.6 360.6L145.6 358.9L142.6 357.2L139.5 355.6L136.5 353.9L133.5 352.4L130.5 350.8L127.5 349.3L124.4 347.8L121.4 346.4L118.4 345L115.4 343.6L112.4 342.3L109.4 341.1L106.3 339.9L103.3 338.8L100.3 337.8L97.3 336.8L94.3 336L91.2 335.2L88.2 334.5L85.2 333.9M177 376.2L174 374.2L171 372.2L168 370.2L165 368.3L161.9 366.4L158.9 364.6L155.9 362.8L152.9 361L149.9 359.2L146.9 357.5L143.8 355.8L140.8 354.1L137.8 352.5L134.8 350.9L131.8 349.3L128.8 347.7L125.7 346.2L122.7 344.8L119.7 343.4L116.7 342L113.7 340.7L110.6 339.4L107.6 338.3L104.6 337.2L101.6 336.1L98.6 335.2L95.6 334.3L92.5 333.5L89.5 332.8L86.5 332.3M178.3 375.1L175.3 373L172.3 371L169.3 369L166.3 367.1L163.2 365.2L160.2 363.3L157.2 361.5L154.2 359.6L151.2 357.9L148.1 356.1L145.1 354.4L142.1 352.7L139.1 351L136.1 349.4L133.1 347.8L130 346.2L127 344.7L124 343.2L121 341.8L118 340.4L114.9 339.1L111.9 337.8L108.9 336.6L105.9 335.5L102.9 334.5L99.9 333.5L96.8 332.6L93.8 331.9L90.8 331.2L87.8 330.6M179.6 374L176.6 371.9L173.6 369.9L170.6 367.9L167.5 365.9L164.5 363.9L161.5 362L158.5 360.1L155.5 358.3L152.5 356.5L149.4 354.7L146.4 352.9L143.4 351.2L140.4 349.5L137.4 347.9L134.3 346.2L131.3 344.7L128.3 343.1L125.3 341.6L122.3 340.2L119.3 338.8L116.2 337.4L113.2 336.2L110.2 335L107.2 333.8L104.2 332.8L101.1 331.8L98.1 331L95.1 330.2L92.1 329.5L89.1 329M180.9 373L177.9 370.8L174.9 368.7L171.9 366.7L168.8 364.7L165.8 362.7L162.8 360.7L159.8 358.8L156.8 357L153.7 355.1L150.7 353.3L147.7 351.5L144.7 349.8L141.7 348.1L138.7 346.4L135.6 344.7L132.6 343.1L129.6 341.6L126.6 340L123.6 338.6L120.5 337.2L117.5 335.8L114.5 334.5L111.5 333.3L108.5 332.2L105.5 331.1L102.4 330.2L99.4 329.3L96.4 328.5L93.4 327.9L90.4 327.3M182.2 371.9L179.2 369.7L176.2 367.6L173.1 365.5L170.1 363.5L167.1 361.4L164.1 359.5L161.1 357.5L158 355.6L155 353.8L152 351.9L149 350.1L146 348.3L143 346.6L139.9 344.9L136.9 343.2L133.9 341.6L130.9 340L127.9 338.5L124.9 337L121.8 335.5L118.8 334.2L115.8 332.9L112.8 331.7L109.8 330.5L106.7 329.5L103.7 328.5L100.7 327.6L97.7 326.9L94.7 326.2L91.7 325.7M183.5 370.8L180.5 368.6L177.4 366.4L174.4 364.3L171.4 362.2L168.4 360.2L165.4 358.2L162.4 356.2L159.3 354.3L156.3 352.4L153.3 350.5L150.3 348.7L147.3 346.9L144.2 345.1L141.2 343.4L138.2 341.7L135.2 340L132.2 338.4L129.2 336.9L126.1 335.4L123.1 333.9L120.1 332.6L117.1 331.2L114.1 330L111 328.9L108 327.8L105 326.8L102 326L99 325.2L96 324.5L92.9 324M184.8 369.7L181.8 367.5L178.7 365.3L175.7 363.1L172.7 361L169.7 358.9L166.7 356.9L163.6 354.9L160.6 352.9L157.6 351L154.6 349.1L151.6 347.3L148.6 345.4L145.5 343.6L142.5 341.9L139.5 340.2L136.5 338.5L133.5 336.9L130.4 335.3L127.4 333.8L124.4 332.3L121.4 330.9L118.4 329.6L115.4 328.4L112.3 327.2L109.3 326.1L106.3 325.2L103.3 324.3L100.3 323.5L97.2 322.9L94.2 322.4M186.1 368.7L183 366.4L180 364.1L177 362L174 359.8L171 357.7L168 355.6L164.9 353.6L161.9 351.6L158.9 349.6L155.9 347.7L152.9 345.8L149.8 344L146.8 342.2L143.8 340.4L140.8 338.6L137.8 337L134.8 335.3L131.7 333.7L128.7 332.2L125.7 330.7L122.7 329.3L119.7 328L116.6 326.7L113.6 325.5L110.6 324.5L107.6 323.5L104.6 322.6L101.6 321.9L98.5 321.2L95.5 320.7M187.3 367.6L184.3 365.3L181.3 363L178.3 360.8L175.3 358.6L172.3 356.5L169.2 354.4L166.2 352.3L163.2 350.3L160.2 348.3L157.2 346.3L154.1 344.4L151.1 342.5L148.1 340.7L145.1 338.9L142.1 337.1L139.1 335.4L136 333.8L133 332.1L130 330.6L127 329.1L124 327.7L121 326.3L117.9 325.1L114.9 323.9L111.9 322.8L108.9 321.8L105.9 321L102.8 320.2L99.8 319.6L96.8 319.1M188.6 366.5L185.6 364.1L182.6 361.8L179.6 359.6L176.6 357.4L173.5 355.2L170.5 353.1L167.5 351L164.5 348.9L161.5 346.9L158.5 344.9L155.4 343L152.4 341.1L149.4 339.2L146.4 337.4L143.4 335.6L140.3 333.9L137.3 332.2L134.3 330.6L131.3 329L128.3 327.5L125.3 326L122.2 324.7L119.2 323.4L116.2 322.2L113.2 321.1L110.2 320.2L107.2 319.3L104.1 318.5L101.1 317.9L98.1 317.4M189.9 365.4L186.9 363L183.9 360.7L180.9 358.4L177.9 356.2L174.8 354L171.8 351.8L168.8 349.7L165.8 347.6L162.8 345.5L159.7 343.5L156.7 341.6L153.7 339.6L150.7 337.7L147.7 335.9L144.7 334.1L141.6 332.3L138.6 330.6L135.6 329L132.6 327.4L129.6 325.9L126.5 324.4L123.5 323L120.5 321.8L117.5 320.6L114.5 319.5L111.5 318.5L108.4 317.6L105.4 316.9L102.4 316.2L99.4 315.8M191.2 364.4L188.2 361.9L185.2 359.5L182.2 357.2L179.1 354.9L176.1 352.7L173.1 350.5L170.1 348.4L167.1 346.3L164.1 344.2L161 342.1L158 340.2L155 338.2L152 336.3L149 334.4L145.9 332.6L142.9 330.8L139.9 329.1L136.9 327.4L133.9 325.8L130.9 324.3L127.8 322.8L124.8 321.4L121.8 320.1L118.8 318.9L115.8 317.8L112.7 316.8L109.7 316L106.7 315.2L103.7 314.6L100.7 314.1M192.5 363.3L189.5 360.8L186.5 358.4L183.4 356L180.4 353.7L177.4 351.5L174.4 349.2L171.4 347.1L168.4 344.9L165.3 342.8L162.3 340.8L159.3 338.7L156.3 336.7L153.3 334.8L150.3 332.9L147.2 331.1L144.2 329.3L141.2 327.5L138.2 325.8L135.2 324.2L132.1 322.6L129.1 321.2L126.1 319.8L123.1 318.5L120.1 317.3L117.1 316.2L114 315.2L111 314.3L108 313.5L105 312.9L102 312.4M193.8 362.2L190.8 359.7L187.8 357.3L184.7 354.9L181.7 352.5L178.7 350.2L175.7 348L172.7 345.7L169.6 343.6L166.6 341.4L163.6 339.4L160.6 337.3L157.6 335.3L154.6 333.3L151.5 331.4L148.5 329.5L145.5 327.7L142.5 325.9L139.5 324.2L136.4 322.6L133.4 321L130.4 319.5L127.4 318.1L124.4 316.8L121.4 315.6L118.3 314.5L115.3 313.5L112.3 312.6L109.3 311.9L106.3 311.3L103.3 310.8M195.1 361.1L192.1 358.6L189 356.1L186 353.7L183 351.3L180 349L177 346.7L174 344.4L170.9 342.2L167.9 340.1L164.9 338L161.9 335.9L158.9 333.9L155.8 331.9L152.8 329.9L149.8 328L146.8 326.2L143.8 324.4L140.8 322.7L137.7 321L134.7 319.4L131.7 317.9L128.7 316.5L125.7 315.2L122.6 313.9L119.6 312.8L116.6 311.8L113.6 310.9L110.6 310.2L107.6 309.6L104.5 309.1M196.4 360L193.4 357.5L190.3 355L187.3 352.5L184.3 350.1L181.3 347.7L178.3 345.4L175.2 343.1L172.2 340.9L169.2 338.7L166.2 336.6L163.2 334.5L160.2 332.4L157.1 330.4L154.1 328.4L151.1 326.5L148.1 324.6L145.1 322.8L142 321.1L139 319.4L136 317.8L133 316.3L130 314.8L127 313.5L123.9 312.3L120.9 311.2L117.9 310.2L114.9 309.3L111.9 308.5L108.8 307.9L105.8 307.5M197.7 359L194.6 356.4L191.6 353.8L188.6 351.3L185.6 348.9L182.6 346.5L179.5 344.1L176.5 341.8L173.5 339.6L170.5 337.3L167.5 335.2L164.5 333L161.4 331L158.4 328.9L155.4 326.9L152.4 325L149.4 323.1L146.4 321.3L143.3 319.5L140.3 317.8L137.3 316.2L134.3 314.7L131.3 313.2L128.2 311.9L125.2 310.6L122.2 309.5L119.2 308.5L116.2 307.6L113.2 306.9L110.1 306.3L107.1 305.8M198.9 357.9L195.9 355.3L192.9 352.7L189.9 350.1L186.9 347.7L183.9 345.2L180.8 342.8L177.8 340.5L174.8 338.2L171.8 336L168.8 333.8L165.7 331.6L162.7 329.5L159.7 327.4L156.7 325.4L153.7 323.5L150.7 321.6L147.6 319.7L144.6 317.9L141.6 316.2L138.6 314.6L135.6 313L132.6 311.6L129.5 310.2L126.5 309L123.5 307.8L120.5 306.8L117.5 305.9L114.4 305.2L111.4 304.6L108.4 304.2M200.2 356.8L197.2 354.1L194.2 351.5L191.2 348.9L188.2 346.4L185.1 344L182.1 341.6L179.1 339.2L176.1 336.9L173.1 334.6L170.1 332.4L167 330.2L164 328.1L161 326L158 323.9L155 321.9L151.9 320L148.9 318.1L145.9 316.3L142.9 314.6L139.9 313L136.9 311.4L133.8 309.9L130.8 308.6L127.8 307.3L124.8 306.2L121.8 305.2L118.7 304.3L115.7 303.5L112.7 303L109.7 302.5M201.5 355.7L198.5 353L195.5 350.4L192.5 347.8L189.5 345.2L186.4 342.7L183.4 340.3L180.4 337.9L177.4 335.5L174.4 333.2L171.3 331L168.3 328.8L165.3 326.6L162.3 324.5L159.3 322.4L156.3 320.4L153.2 318.5L150.2 316.6L147.2 314.8L144.2 313L141.2 311.4L138.1 309.8L135.1 308.3L132.1 306.9L129.1 305.6L126.1 304.5L123.1 303.5L120 302.6L117 301.9L114 301.3L111 300.9M202.8 354.7L199.8 351.9L196.8 349.2L193.8 346.6L190.7 344L187.7 341.5L184.7 339L181.7 336.6L178.7 334.2L175.7 331.9L172.6 329.6L169.6 327.4L166.6 325.2L163.6 323L160.6 320.9L157.5 318.9L154.5 316.9L151.5 315L148.5 313.2L145.5 311.4L142.5 309.7L139.4 308.1L136.4 306.7L133.4 305.3L130.4 304L127.4 302.8L124.3 301.8L121.3 300.9L118.3 300.2L115.3 299.6L112.3 299.2M204.1 353.6L201.1 350.8L198.1 348.1L195 345.4L192 342.8L189 340.2L186 337.7L183 335.3L180 332.9L176.9 330.5L173.9 328.2L170.9 325.9L167.9 323.7L164.9 321.6L161.8 319.4L158.8 317.4L155.8 315.4L152.8 313.5L149.8 311.6L146.8 309.8L143.7 308.1L140.7 306.5L137.7 305L134.7 303.6L131.7 302.3L128.7 301.2L125.6 300.2L122.6 299.3L119.6 298.5L116.6 298L113.6 297.6M205.4 352.5L202.4 349.7L199.4 346.9L196.3 344.2L193.3 341.6L190.3 339L187.3 336.5L184.3 334L181.2 331.5L178.2 329.1L175.2 326.8L172.2 324.5L169.2 322.3L166.2 320.1L163.1 318L160.1 315.9L157.1 313.9L154.1 311.9L151.1 310L148 308.2L145 306.5L142 304.9L139 303.4L136 302L133 300.7L129.9 299.5L126.9 298.5L123.9 297.6L120.9 296.9L117.9 296.3L114.8 295.9M206.7 351.4L203.7 348.6L200.6 345.8L197.6 343L194.6 340.4L191.6 337.7L188.6 335.2L185.6 332.7L182.5 330.2L179.5 327.8L176.5 325.4L173.5 323.1L170.5 320.8L167.4 318.6L164.4 316.5L161.4 314.4L158.4 312.3L155.4 310.3L152.4 308.4L149.3 306.6L146.3 304.9L143.3 303.3L140.3 301.7L137.3 300.3L134.2 299L131.2 297.8L128.2 296.8L125.2 295.9L122.2 295.2L119.2 294.7L116.1 294.3M208 350.4L204.9 347.5L201.9 344.6L198.9 341.9L195.9 339.1L192.9 336.5L189.9 333.9L186.8 331.3L183.8 328.9L180.8 326.4L177.8 324L174.8 321.7L171.8 319.4L168.7 317.1L165.7 315L162.7 312.8L159.7 310.8L156.7 308.8L153.6 306.9L150.6 305L147.6 303.3L144.6 301.6L141.6 300.1L138.6 298.7L135.5 297.4L132.5 296.2L129.5 295.1L126.5 294.3L123.5 293.5L120.4 293L117.4 292.6M209.3 349.3L206.2 346.4L203.2 343.5L200.2 340.7L197.2 337.9L194.2 335.2L191.1 332.6L188.1 330L185.1 327.5L182.1 325L179.1 322.6L176.1 320.3L173 317.9L170 315.7L167 313.5L164 311.3L161 309.2L157.9 307.2L154.9 305.3L151.9 303.4L148.9 301.7L145.9 300L142.9 298.5L139.8 297L136.8 295.7L133.8 294.5L130.8 293.5L127.8 292.6L124.8 291.9L121.7 291.3L118.7 291M210.5 348.2L207.5 345.2L204.5 342.3L201.5 339.5L198.5 336.7L195.5 334L192.4 331.3L189.4 328.7L186.4 326.2L183.4 323.7L180.4 321.2L177.3 318.8L174.3 316.5L171.3 314.2L168.3 312L165.3 309.8L162.3 307.7L159.2 305.7L156.2 303.7L153.2 301.8L150.2 300.1L147.2 298.4L144.1 296.8L141.1 295.4L138.1 294L135.1 292.9L132.1 291.8L129.1 290.9L126 290.2L123 289.7L120 289.3M211.8 347.1L208.8 344.1L205.8 341.2L202.8 338.3L199.8 335.5L196.7 332.7L193.7 330.1L190.7 327.4L187.7 324.8L184.7 322.3L181.7 319.8L178.6 317.4L175.6 315L172.6 312.7L169.6 310.5L166.6 308.3L163.5 306.2L160.5 304.1L157.5 302.1L154.5 300.2L151.5 298.4L148.5 296.8L145.4 295.2L142.4 293.7L139.4 292.4L136.4 291.2L133.4 290.1L130.3 289.3L127.3 288.6L124.3 288L121.3 287.7M213.1 346.1L210.1 343L207.1 340L204.1 337.1L201.1 334.3L198 331.5L195 328.8L192 326.1L189 323.5L186 320.9L182.9 318.4L179.9 316L176.9 313.6L173.9 311.3L170.9 309L167.9 306.8L164.8 304.6L161.8 302.5L158.8 300.5L155.8 298.6L152.8 296.8L149.7 295.1L146.7 293.5L143.7 292.1L140.7 290.7L137.7 289.5L134.7 288.5L131.6 287.6L128.6 286.9L125.6 286.4L122.6 286M214.4 345L211.4 341.9L208.4 338.9L205.4 335.9L202.3 333.1L199.3 330.3L196.3 327.5L193.3 324.8L190.3 322.2L187.2 319.6L184.2 317L181.2 314.6L178.2 312.1L175.2 309.8L172.2 307.5L169.1 305.2L166.1 303.1L163.1 301L160.1 299L157.1 297L154.1 295.2L151 293.5L148 291.9L145 290.4L142 289.1L139 287.9L135.9 286.8L132.9 285.9L129.9 285.2L126.9 284.7L123.9 284.4M215.7 343.9L212.7 340.8L209.7 337.7L206.6 334.8L203.6 331.9L200.6 329L197.6 326.2L194.6 323.5L191.6 320.8L188.5 318.2L185.5 315.7L182.5 313.1L179.5 310.7L176.5 308.3L173.4 306L170.4 303.7L167.4 301.5L164.4 299.4L161.4 297.4L158.4 295.4L155.3 293.6L152.3 291.9L149.3 290.3L146.3 288.8L143.3 287.4L140.2 286.2L137.2 285.1L134.2 284.3L131.2 283.6L128.2 283L125.2 282.7M217 342.8L214 339.7L211 336.6L207.9 333.6L204.9 330.6L201.9 327.8L198.9 324.9L195.9 322.2L192.8 319.5L189.8 316.8L186.8 314.3L183.8 311.7L180.8 309.3L177.8 306.8L174.7 304.5L171.7 302.2L168.7 300L165.7 297.9L162.7 295.8L159.6 293.9L156.6 292L153.6 290.2L150.6 288.6L147.6 287.1L144.6 285.7L141.5 284.5L138.5 283.5L135.5 282.6L132.5 281.9L129.5 281.4L126.4 281.1M218.3 341.8L215.3 338.6L212.2 335.4L209.2 332.4L206.2 329.4L203.2 326.5L200.2 323.7L197.2 320.9L194.1 318.1L191.1 315.5L188.1 312.9L185.1 310.3L182.1 307.8L179 305.4L176 303L173 300.7L170 298.5L167 296.3L164 294.2L160.9 292.3L157.9 290.4L154.9 288.6L151.9 287L148.9 285.5L145.8 284.1L142.8 282.9L139.8 281.8L136.8 280.9L133.8 280.2L130.8 279.7L127.7 279.4M219.6 340.7L216.5 337.5L213.5 334.3L210.5 331.2L207.5 328.2L204.5 325.3L201.5 322.4L198.4 319.6L195.4 316.8L192.4 314.1L189.4 311.5L186.4 308.9L183.3 306.4L180.3 303.9L177.3 301.5L174.3 299.2L171.3 296.9L168.3 294.7L165.2 292.7L162.2 290.7L159.2 288.8L156.2 287L153.2 285.3L150.2 283.8L147.1 282.4L144.1 281.2L141.1 280.1L138.1 279.3L135.1 278.6L132 278.1L129 277.8M220.9 339.6L217.8 336.3L214.8 333.2L211.8 330L208.8 327L205.8 324L202.7 321.1L199.7 318.3L196.7 315.5L193.7 312.7L190.7 310.1L187.7 307.5L184.6 304.9L181.6 302.4L178.6 300L175.6 297.7L172.6 295.4L169.5 293.2L166.5 291.1L163.5 289.1L160.5 287.2L157.5 285.4L154.5 283.7L151.4 282.2L148.4 280.8L145.4 279.5L142.4 278.5L139.4 277.6L136.4 276.9L133.3 276.4L130.3 276.1M222.1 338.5L219.1 335.2L216.1 332L213.1 328.9L210.1 325.8L207.1 322.8L204 319.8L201 316.9L198 314.1L195 311.4L192 308.7L188.9 306L185.9 303.5L182.9 301L179.9 298.5L176.9 296.1L173.9 293.8L170.8 291.6L167.8 289.5L164.8 287.5L161.8 285.5L158.8 283.7L155.7 282.1L152.7 280.5L149.7 279.1L146.7 277.9L143.7 276.8L140.7 275.9L137.6 275.2L134.6 274.7L131.6 274.5M223.4 337.5L220.4 334.1L217.4 330.9L214.4 327.7L211.4 324.6L208.3 321.5L205.3 318.5L202.3 315.6L199.3 312.8L196.3 310L193.3 307.3L190.2 304.6L187.2 302L184.2 299.5L181.2 297L178.2 294.6L175.1 292.3L172.1 290.1L169.1 287.9L166.1 285.9L163.1 283.9L160.1 282.1L157 280.4L154 278.9L151 277.5L148 276.2L145 275.1L141.9 274.3L138.9 273.6L135.9 273.1L132.9 272.8M224.7 336.4L221.7 333L218.7 329.7L215.7 326.5L212.6 323.3L209.6 320.3L206.6 317.3L203.6 314.3L200.6 311.5L197.6 308.6L194.5 305.9L191.5 303.2L188.5 300.6L185.5 298L182.5 295.5L179.5 293.1L176.4 290.8L173.4 288.5L170.4 286.3L167.4 284.3L164.4 282.3L161.3 280.5L158.3 278.8L155.3 277.2L152.3 275.8L149.3 274.5L146.3 273.5L143.2 272.6L140.2 271.9L137.2 271.4L134.2 271.2M226 335.3L223 331.9L220 328.6L217 325.3L213.9 322.1L210.9 319L207.9 316L204.9 313L201.9 310.1L198.8 307.3L195.8 304.5L192.8 301.8L189.8 299.1L186.8 296.5L183.8 294L180.7 291.6L177.7 289.2L174.7 286.9L171.7 284.8L168.7 282.7L165.6 280.7L162.6 278.9L159.6 277.1L156.6 275.6L153.6 274.1L150.6 272.9L147.5 271.8L144.5 270.9L141.5 270.2L138.5 269.8L135.5 269.5M227.3 334.2L224.3 330.8L221.3 327.4L218.2 324.1L215.2 320.9L212.2 317.8L209.2 314.7L206.2 311.7L203.2 308.8L200.1 305.9L197.1 303.1L194.1 300.4L191.1 297.7L188.1 295.1L185 292.5L182 290.1L179 287.7L176 285.4L173 283.2L170 281.1L166.9 279.1L163.9 277.2L160.9 275.5L157.9 273.9L154.9 272.5L151.8 271.2L148.8 270.1L145.8 269.2L142.8 268.6L139.8 268.1L136.8 267.9M228.6 333.2L225.6 329.7L222.6 326.3L219.5 322.9L216.5 319.7L213.5 316.5L210.5 313.4L207.5 310.4L204.4 307.4L201.4 304.5L198.4 301.7L195.4 298.9L192.4 296.2L189.4 293.6L186.3 291L183.3 288.5L180.3 286.1L177.3 283.8L174.3 281.6L171.2 279.5L168.2 277.5L165.2 275.6L162.2 273.9L159.2 272.3L156.2 270.8L153.1 269.6L150.1 268.5L147.1 267.6L144.1 266.9L141.1 266.4L138 266.2M229.9 332.1L226.9 328.6L223.8 325.1L220.8 321.8L217.8 318.5L214.8 315.3L211.8 312.2L208.7 309.1L205.7 306.1L202.7 303.2L199.7 300.3L196.7 297.5L193.7 294.8L190.6 292.1L187.6 289.5L184.6 287L181.6 284.6L178.6 282.3L175.6 280L172.5 277.9L169.5 275.9L166.5 274L163.5 272.2L160.5 270.6L157.4 269.2L154.4 267.9L151.4 266.8L148.4 265.9L145.4 265.2L142.4 264.8L139.3 264.5M231.2 331L228.1 327.4L225.1 324L222.1 320.6L219.1 317.3L216.1 314L213.1 310.9L210 307.8L207 304.8L204 301.8L201 298.9L198 296.1L194.9 293.3L191.9 290.7L188.9 288L185.9 285.5L182.9 283.1L179.9 280.7L176.8 278.4L173.8 276.3L170.8 274.2L167.8 272.3L164.8 270.6L161.7 269L158.7 267.5L155.7 266.2L152.7 265.1L149.7 264.2L146.7 263.6L143.6 263.1L140.6 262.9M232.5 329.9L229.4 326.3L226.4 322.8L223.4 319.4L220.4 316.1L217.4 312.8L214.3 309.6L211.3 306.5L208.3 303.4L205.3 300.4L202.3 297.5L199.3 294.7L196.2 291.9L193.2 289.2L190.2 286.5L187.2 284L184.2 281.5L181.1 279.1L178.1 276.9L175.1 274.7L172.1 272.6L169.1 270.7L166.1 268.9L163 267.3L160 265.8L157 264.6L154 263.5L151 262.6L147.9 261.9L144.9 261.5L141.9 261.2M233.7 328.9L230.7 325.2L227.7 321.7L224.7 318.2L221.7 314.8L218.7 311.5L215.6 308.3L212.6 305.2L209.6 302.1L206.6 299.1L203.6 296.1L200.5 293.3L197.5 290.4L194.5 287.7L191.5 285L188.5 282.5L185.5 280L182.4 277.6L179.4 275.3L176.4 273.1L173.4 271L170.4 269.1L167.3 267.3L164.3 265.7L161.3 264.2L158.3 262.9L155.3 261.8L152.3 260.9L149.2 260.2L146.2 259.8L143.2 259.6M235 327.8L232 324.1L229 320.5L226 317L223 313.6L219.9 310.3L216.9 307L213.9 303.9L210.9 300.7L207.9 297.7L204.8 294.7L201.8 291.8L198.8 289L195.8 286.2L192.8 283.6L189.8 280.9L186.7 278.4L183.7 276L180.7 273.7L177.7 271.5L174.7 269.4L171.7 267.5L168.6 265.7L165.6 264L162.6 262.5L159.6 261.2L156.6 260.1L153.5 259.2L150.5 258.6L147.5 258.1L144.5 257.9M236.3 326.7L233.3 323L230.3 319.4L227.3 315.8L224.2 312.4L221.2 309L218.2 305.8L215.2 302.5L212.2 299.4L209.2 296.3L206.1 293.3L203.1 290.4L200.1 287.5L197.1 284.8L194.1 282.1L191 279.4L188 276.9L185 274.5L182 272.1L179 269.9L176 267.8L172.9 265.8L169.9 264L166.9 262.4L163.9 260.9L160.9 259.6L157.9 258.5L154.8 257.6L151.8 256.9L148.8 256.5L145.8 256.3M237.6 325.6L234.6 321.9L231.6 318.2L228.6 314.7L225.5 311.2L222.5 307.8L219.5 304.5L216.5 301.2L213.5 298.1L210.4 295L207.4 291.9L204.4 289L201.4 286.1L198.4 283.3L195.4 280.6L192.3 277.9L189.3 275.4L186.3 272.9L183.3 270.5L180.3 268.3L177.2 266.2L174.2 264.2L171.2 262.4L168.2 260.7L165.2 259.2L162.2 257.9L159.1 256.8L156.1 255.9L153.1 255.2L150.1 254.8L147.1 254.6M238.9 324.6L235.9 320.8L232.9 317.1L229.8 313.5L226.8 310L223.8 306.5L220.8 303.2L217.8 299.9L214.8 296.7L211.7 293.6L208.7 290.6L205.7 287.6L202.7 284.7L199.7 281.8L196.6 279.1L193.6 276.4L190.6 273.8L187.6 271.3L184.6 269L181.6 266.7L178.5 264.6L175.5 262.6L172.5 260.7L169.5 259.1L166.5 257.6L163.4 256.2L160.4 255.1L157.4 254.2L154.4 253.6L151.4 253.1L148.4 253" fill="none" stroke="#000" stroke-opacity="0.55" stroke-width="0.5" stroke-linejoin="round"/>
<path d="M135.8 410.6L238.9 324.6M133.8 410L236.9 322M131.8 409.5L234.9 319.5M129.8 408.9L232.9 317.1M127.8 408.3L230.8 314.7M125.7 407.8L228.8 312.3M123.7 407.2L226.8 310M121.7 406.6L224.8 307.7M119.7 406.1L222.8 305.4M117.7 405.5L220.8 303.2M115.7 404.9L218.8 301M113.7 404.4L216.8 298.9M111.7 403.8L214.8 296.7M109.6 403.2L212.7 294.6M107.6 402.7L210.7 292.6M105.6 402.1L208.7 290.6M103.6 401.5L206.7 288.6M101.6 401L204.7 286.6M99.6 400.4L202.7 284.7M97.6 399.8L200.7 282.8M95.6 399.3L198.7 280.9M93.5 398.7L196.6 279.1M91.5 398.1L194.6 277.3M89.5 397.6L192.6 275.5M87.5 397L190.6 273.8M85.5 396.5L188.6 272.1M83.5 395.9L186.6 270.5M81.5 395.3L184.6 269M79.5 394.8L182.6 267.4M77.5 394.2L180.5 266M75.4 393.6L178.5 264.6M73.4 393.1L176.5 263.2M71.4 392.5L174.5 261.9M69.4 391.9L172.5 260.7M67.4 391.4L170.5 259.6M65.4 390.8L168.5 258.5M63.4 390.2L166.5 257.6M61.4 389.7L164.5 256.7M59.3 389.1L162.4 255.8M57.3 388.5L160.4 255.1M55.3 388L158.4 254.5M53.3 387.4L156.4 254M51.3 386.8L154.4 253.6M49.3 386.3L152.4 253.3M47.3 385.7L150.4 253.1M45.3 385.1L148.4 253" fill="none" stroke="#000" stroke-opacity="0.12" stroke-width="0.3"/></g>
<path d="M35.2 276.5L35.2 382.3L135.8 410.6L241 383.6M35.2 376.3L32.7 375.6M35.2 359.7L32.7 359M35.2 343.1L32.7 342.4M35.2 326.5L32.7 325.8M35.2 309.9L32.7 309.2M35.2 293.3L32.7 292.6M35.2 276.7L32.7 276M135.8 410.6L133.3 411.2M85.5 396.5L83 397.1M35.2 382.3L32.7 382.9M135.8 410.6L138.3 411.3M162.1 403.9L164.6 404.6M188.4 397.1L190.9 397.8M214.7 390.4L217.2 391.1M241 383.6L243.5 384.3" fill="none" stroke="#8a8a8a" stroke-width=".6"/>
<g class="tk"><text transform="translate(30.2 377.3) scale(.82 1)" text-anchor="end">-6</text><text transform="translate(30.2 360.7) scale(.82 1)" text-anchor="end">-4</text><text transform="translate(30.2 344.1) scale(.82 1)" text-anchor="end">-2</text><text transform="translate(30.2 327.5) scale(.82 1)" text-anchor="end">0</text><text transform="translate(30.2 310.9) scale(.82 1)" text-anchor="end">2</text><text transform="translate(30.2 294.3) scale(.82 1)" text-anchor="end">4</text><text transform="translate(30.2 277.7) scale(.82 1)" text-anchor="end">6</text><text transform="translate(130.2 418.5) scale(.82 1)" text-anchor="end">0</text><text transform="translate(79.9 404.4) scale(.82 1)" text-anchor="end">50</text><text transform="translate(29.6 390.2) scale(.82 1)" text-anchor="end">100</text><text transform="translate(140.6 418.5) scale(.82 1)">0</text><text transform="translate(166.9 411.8) scale(.82 1)">20</text><text transform="translate(193.2 405) scale(.82 1)">40</text><text transform="translate(219.5 398.2) scale(.82 1)">60</text><text transform="translate(245.8 391.5) scale(.82 1)">80</text></g>
<text class="lb" text-anchor="middle" textLength="39.8" lengthAdjust="spacing" transform="translate(18.3 330.7) rotate(-90)"><tspan class="it">V</tspan><tspan class="it" dy="2" font-size="7">zg</tspan><tspan dy="-2">[</tspan><tspan class="it">m</tspan>/<tspan class="it">s</tspan><tspan dy="-3.4" font-size="7">2</tspan><tspan dy="3.4">]</tspan></text>
<circle cx="10.1" cy="347.2" r=".6" fill="#555"/>
<text class="lb" x="70.4" y="422" textLength="18.8" lengthAdjust="spacing"><tspan class="it">δ</tspan><tspan class="it" dy="1.8" font-size="7">N</tspan><tspan dy="-1.8">[</tspan><tspan dy="-2.6" font-size="7">°</tspan><tspan dy="2.6">]</tspan></text>
<text class="lb" x="179.2" y="422" textLength="18.5" lengthAdjust="spacing"><tspan class="it">T</tspan>[<tspan class="it">N</tspan>]</text>
<text class="ti" x="57" y="243" textLength="151.5" lengthAdjust="spacing" xml:space="preserve"><tspan class="it">θ</tspan> = 5°  Sink rate control efficiency</text>
<text class="cp" text-anchor="middle" x="133.2" y="445.5">(<tspan font-weight="bold">c</tspan>)</text>
<clipPath id="cld"><rect x="285.5" y="250" width="267" height="300"/></clipPath>
<g clip-path="url(#cld)" fill="none"><path d="M316 372L438 351.6L522 381.8M316 368.9L438 348.5L522 378.7M316 365.7L438 345.3L522 375.5M316 362.6L438 342.2L522 372.4M316 356.3L438 335.9L522 366.1M316 353.2L438 332.8L522 363M316 350.1L438 329.7L522 359.9M316 346.9L438 326.5L522 356.7M316 340.6L438 320.2L522 350.4M316 337.5L438 317.1L522 347.3M316 334.4L438 314L522 344.2M316 331.2L438 310.8L522 341M316 325L438 304.6L522 334.8M316 321.8L438 301.4L522 331.6M316 318.7L438 298.3L522 328.5M316 315.5L438 295.1L522 325.3M316 309.3L438 288.9L522 319.1M316 306.1L438 285.7L522 315.9M316 303L438 282.6L522 312.8M316 299.8L438 279.4L522 309.6M316 293.6L438 273.2L522 303.4M316 290.4L438 270L522 300.2M316 287.3L438 266.9L522 297.1M316 284.2L438 263.8L522 294M316 277.9L438 257.5L522 287.7M316 274.7L438 254.3L522 284.5M316 271.6L438 251.2L522 281.4M316 268.5L438 248.1L522 278.3M322.1 264.2L322.1 374.7L406.1 404.9M328.2 263.2L328.2 373.7L412.2 403.9M334.3 262.1L334.3 372.6L418.3 402.8M340.4 261.1L340.4 371.6L424.4 401.8M352.6 259.1L352.6 369.6L436.6 399.8M358.7 258.1L358.7 368.6L442.7 398.8M364.8 257L364.8 367.5L448.8 397.7M370.9 256L370.9 366.5L454.9 396.7M383.1 254L383.1 364.5L467.1 394.7M389.2 253L389.2 363.5L473.2 393.7M395.3 251.9L395.3 362.4L479.3 392.6M401.4 250.9L401.4 361.4L485.4 391.6M413.6 248.9L413.6 359.4L497.6 389.6M419.7 247.9L419.7 358.4L503.7 388.6M425.8 246.8L425.8 357.3L509.8 387.5M431.9 245.8L431.9 356.3L515.9 386.5M513.6 272L513.6 382.5L391.6 402.9M505.2 269L505.2 379.5L383.2 399.9M496.8 265.9L496.8 376.4L374.8 396.8M488.4 262.9L488.4 373.4L366.4 393.8M471.6 256.9L471.6 367.4L349.6 387.8M463.2 253.9L463.2 364.4L341.2 384.8M454.8 250.8L454.8 361.3L332.8 381.7M446.4 247.8L446.4 358.3L324.4 378.7" stroke="#000" stroke-opacity=".03" stroke-width=".5"/><path d="M316 375.2L438 354.8L522 385M316 359.5L438 339.1L522 369.3M316 343.8L438 323.4L522 353.6M316 328.1L438 307.7L522 337.9M316 312.4L438 292L522 322.2M316 296.7L438 276.3L522 306.5M316 281L438 260.6L522 290.8M316 265.3L438 244.9L522 275.1M316 265.2L316 375.7L400 405.9M346.5 260.1L346.5 370.6L430.5 400.8M377 255L377 365.5L461 395.7M407.5 249.9L407.5 360.4L491.5 390.6M438 244.8L438 355.3L522 385.5M522 275L522 385.5L400 405.9M480 259.9L480 370.4L358 390.8M438 244.8L438 355.3L316 375.7" stroke="#000" stroke-opacity=".055" stroke-width=".5"/></g>
<defs><linearGradient id="gd0" gradientUnits="userSpaceOnUse" x1="399.2" y1="400.6" x2="518.7" y2="325.7"><stop offset="0" stop-color="#105e13"/><stop offset="0.125" stop-color="#11672a"/><stop offset="0.25" stop-color="#116f43"/><stop offset="0.375" stop-color="#12775d"/><stop offset="0.5" stop-color="#127f77"/><stop offset="0.625" stop-color="#158293"/><stop offset="0.75" stop-color="#1885b0"/><stop offset="0.875" stop-color="#1c87cd"/><stop offset="1" stop-color="#1f8aeb"/></linearGradient><linearGradient id="gd1" gradientUnits="userSpaceOnUse" x1="397.5" y1="400" x2="517" y2="323.7"><stop offset="0" stop-color="#105f13"/><stop offset="0.125" stop-color="#11672b"/><stop offset="0.25" stop-color="#117043"/><stop offset="0.375" stop-color="#12775d"/><stop offset="0.5" stop-color="#127f77"/><stop offset="0.625" stop-color="#158294"/><stop offset="0.75" stop-color="#1885b0"/><stop offset="0.875" stop-color="#1c87ce"/><stop offset="1" stop-color="#1f8aeb"/></linearGradient><linearGradient id="gd2" gradientUnits="userSpaceOnUse" x1="395.8" y1="399.4" x2="515.4" y2="321.6"><stop offset="0" stop-color="#105f13"/><stop offset="0.125" stop-color="#11682b"/><stop offset="0.25" stop-color="#117043"/><stop offset="0.375" stop-color="#12785d"/><stop offset="0.5" stop-color="#127f77"/><stop offset="0.625" stop-color="#158394"/><stop offset="0.75" stop-color="#1885b0"/><stop offset="0.875" stop-color="#1c87ce"/><stop offset="1" stop-color="#1f8aec"/></linearGradient><linearGradient id="gd3" gradientUnits="userSpaceOnUse" x1="394.1" y1="398.8" x2="513.7" y2="319.5"><stop offset="0" stop-color="#105f13"/><stop offset="0.125" stop-color="#11682b"/><stop offset="0.25" stop-color="#117043"/><stop offset="0.375" stop-color="#12785d"/><stop offset="0.5" stop-color="#127f77"/><stop offset="0.625" stop-color="#158394"/><stop offset="0.75" stop-color="#1885b1"/><stop offset="0.875" stop-color="#1c88ce"/><stop offset="1" stop-color="#1f8bec"/></linearGradient><linearGradient id="gd4" gradientUnits="userSpaceOnUse" x1="392.4" y1="398.2" x2="512" y2="317.4"><stop offset="0" stop-color="#105f13"/><stop offset="0.125" stop-color="#11682b"/><stop offset="0.25" stop-color="#117043"/><stop offset="0.375" stop-color="#12785e"/><stop offset="0.5" stop-color="#128077"/><stop offset="0.625" stop-color="#158394"/><stop offset="0.75" stop-color="#1886b1"/><stop offset="0.875" stop-color="#1c88ce"/><stop offset="1" stop-color="#1f8bec"/></linearGradient><linearGradient id="gd5" gradientUnits="userSpaceOnUse" x1="390.8" y1="397.6" x2="510.3" y2="315.2"><stop offset="0" stop-color="#106013"/><stop offset="0.125" stop-color="#11682b"/><stop offset="0.25" stop-color="#117043"/><stop offset="0.375" stop-color="#12785e"/><stop offset="0.5" stop-color="#128078"/><stop offset="0.625" stop-color="#158395"/><stop offset="0.75" stop-color="#1886b1"/><stop offset="0.875" stop-color="#1c88cf"/><stop offset="1" stop-color="#1f8bec"/></linearGradient><linearGradient id="gd6" gradientUnits="userSpaceOnUse" x1="389.1" y1="397" x2="508.6" y2="313.1"><stop offset="0" stop-color="#106014"/><stop offset="0.125" stop-color="#11692b"/><stop offset="0.25" stop-color="#117144"/><stop offset="0.375" stop-color="#12785e"/><stop offset="0.5" stop-color="#128078"/><stop offset="0.625" stop-color="#158395"/><stop offset="0.75" stop-color="#1886b1"/><stop offset="0.875" stop-color="#1c88cf"/><stop offset="1" stop-color="#1f8bed"/></linearGradient><linearGradient id="gd7" gradientUnits="userSpaceOnUse" x1="387.4" y1="396.4" x2="507" y2="310.9"><stop offset="0" stop-color="#106014"/><stop offset="0.125" stop-color="#11692b"/><stop offset="0.25" stop-color="#117144"/><stop offset="0.375" stop-color="#12795e"/><stop offset="0.5" stop-color="#128078"/><stop offset="0.625" stop-color="#158495"/><stop offset="0.75" stop-color="#1886b1"/><stop offset="0.875" stop-color="#1c88cf"/><stop offset="1" stop-color="#1f8bed"/></linearGradient><linearGradient id="gd8" gradientUnits="userSpaceOnUse" x1="385.7" y1="395.8" x2="505.3" y2="308.7"><stop offset="0" stop-color="#106014"/><stop offset="0.125" stop-color="#11692b"/><stop offset="0.25" stop-color="#117144"/><stop offset="0.375" stop-color="#12795e"/><stop offset="0.5" stop-color="#128078"/><stop offset="0.625" stop-color="#158495"/><stop offset="0.75" stop-color="#1886b1"/><stop offset="0.875" stop-color="#1c88cf"/><stop offset="1" stop-color="#1f8bed"/></linearGradient><linearGradient id="gd9" gradientUnits="userSpaceOnUse" x1="384" y1="395.2" x2="503.6" y2="306.5"><stop offset="0" stop-color="#106114"/><stop offset="0.125" stop-color="#11692b"/><stop offset="0.25" stop-color="#117144"/><stop offset="0.375" stop-color="#12795e"/><stop offset="0.5" stop-color="#128078"/><stop offset="0.625" stop-color="#158495"/><stop offset="0.75" stop-color="#1886b1"/><stop offset="0.875" stop-color="#1c88cf"/><stop offset="1" stop-color="#1f8bed"/></linearGradient><linearGradient id="gd10" gradientUnits="userSpaceOnUse" x1="382.4" y1="394.6" x2="501.9" y2="304.3"><stop offset="0" stop-color="#106114"/><stop offset="0.125" stop-color="#11692b"/><stop offset="0.25" stop-color="#117144"/><stop offset="0.375" stop-color="#12795e"/><stop offset="0.5" stop-color="#128078"/><stop offset="0.625" stop-color="#158495"/><stop offset="0.75" stop-color="#1886b1"/><stop offset="0.875" stop-color="#1c88cf"/><stop offset="1" stop-color="#1f8bed"/></linearGradient><linearGradient id="gd11" gradientUnits="userSpaceOnUse" x1="380.7" y1="394" x2="500.2" y2="302.1"><stop offset="0" stop-color="#106114"/><stop offset="0.125" stop-color="#11692b"/><stop offset="0.25" stop-color="#117144"/><stop offset="0.375" stop-color="#12795e"/><stop offset="0.5" stop-color="#128078"/><stop offset="0.625" stop-color="#158495"/><stop offset="0.75" stop-color="#1886b1"/><stop offset="0.875" stop-color="#1c88cf"/><stop offset="1" stop-color="#1f8bed"/></linearGradient><linearGradient id="gd12" gradientUnits="userSpaceOnUse" x1="379" y1="393.3" x2="498.6" y2="299.9"><stop offset="0" stop-color="#106114"/><stop offset="0.125" stop-color="#11692b"/><stop offset="0.25" stop-color="#117144"/><stop offset="0.375" stop-color="#12795e"/><stop offset="0.5" stop-color="#128078"/><stop offset="0.625" stop-color="#158495"/><stop offset="0.75" stop-color="#1886b1"/><stop offset="0.875" stop-color="#1c88cf"/><stop offset="1" stop-color="#1f8bed"/></linearGradient><linearGradient id="gd13" gradientUnits="userSpaceOnUse" x1="377.3" y1="392.7" x2="496.9" y2="297.8"><stop offset="0" stop-color="#106114"/><stop offset="0.125" stop-color="#116a2b"/><stop offset="0.25" stop-color="#117144"/><stop offset="0.375" stop-color="#12795e"/><stop offset="0.5" stop-color="#128078"/><stop offset="0.625" stop-color="#158495"/><stop offset="0.75" stop-color="#1886b1"/><stop offset="0.875" stop-color="#1c88cf"/><stop offset="1" stop-color="#1f8bec"/></linearGradient><linearGradient id="gd14" gradientUnits="userSpaceOnUse" x1="375.6" y1="392.1" x2="495.2" y2="295.6"><stop offset="0" stop-color="#116114"/><stop offset="0.125" stop-color="#116a2b"/><stop offset="0.25" stop-color="#117144"/><stop offset="0.375" stop-color="#12795e"/><stop offset="0.5" stop-color="#128078"/><stop offset="0.625" stop-color="#158495"/><stop offset="0.75" stop-color="#1886b1"/><stop offset="0.875" stop-color="#1c88cf"/><stop offset="1" stop-color="#1f8bec"/></linearGradient><linearGradient id="gd15" gradientUnits="userSpaceOnUse" x1="374" y1="391.5" x2="493.5" y2="293.5"><stop offset="0" stop-color="#116214"/><stop offset="0.125" stop-color="#116a2b"/><stop offset="0.25" stop-color="#117144"/><stop offset="0.375" stop-color="#12795e"/><stop offset="0.5" stop-color="#128078"/><stop offset="0.625" stop-color="#158395"/><stop offset="0.75" stop-color="#1886b1"/><stop offset="0.875" stop-color="#1c88cf"/><stop offset="1" stop-color="#1f8bec"/></linearGradient><linearGradient id="gd16" gradientUnits="userSpaceOnUse" x1="372.3" y1="390.9" x2="491.8" y2="291.3"><stop offset="0" stop-color="#116214"/><stop offset="0.125" stop-color="#116a2b"/><stop offset="0.25" stop-color="#117144"/><stop offset="0.375" stop-color="#12795e"/><stop offset="0.5" stop-color="#128078"/><stop offset="0.625" stop-color="#158395"/><stop offset="0.75" stop-color="#1886b1"/><stop offset="0.875" stop-color="#1c88ce"/><stop offset="1" stop-color="#1f8bec"/></linearGradient><linearGradient id="gd17" gradientUnits="userSpaceOnUse" x1="370.6" y1="390.3" x2="490.2" y2="289.3"><stop offset="0" stop-color="#116214"/><stop offset="0.125" stop-color="#116a2c"/><stop offset="0.25" stop-color="#117144"/><stop offset="0.375" stop-color="#12795e"/><stop offset="0.5" stop-color="#128078"/><stop offset="0.625" stop-color="#158395"/><stop offset="0.75" stop-color="#1885b1"/><stop offset="0.875" stop-color="#1c88ce"/><stop offset="1" stop-color="#1f8aec"/></linearGradient><linearGradient id="gd18" gradientUnits="userSpaceOnUse" x1="368.9" y1="389.7" x2="488.5" y2="287.2"><stop offset="0" stop-color="#116214"/><stop offset="0.125" stop-color="#116a2c"/><stop offset="0.25" stop-color="#117144"/><stop offset="0.375" stop-color="#12795e"/><stop offset="0.5" stop-color="#128078"/><stop offset="0.625" stop-color="#158394"/><stop offset="0.75" stop-color="#1885b1"/><stop offset="0.875" stop-color="#1c87ce"/><stop offset="1" stop-color="#1f8aeb"/></linearGradient><linearGradient id="gd19" gradientUnits="userSpaceOnUse" x1="367.2" y1="389.1" x2="486.8" y2="285.2"><stop offset="0" stop-color="#116214"/><stop offset="0.125" stop-color="#116a2c"/><stop offset="0.25" stop-color="#117144"/><stop offset="0.375" stop-color="#12795e"/><stop offset="0.5" stop-color="#128078"/><stop offset="0.625" stop-color="#158394"/><stop offset="0.75" stop-color="#1885b0"/><stop offset="0.875" stop-color="#1c87ce"/><stop offset="1" stop-color="#1f8aeb"/></linearGradient><linearGradient id="gd20" gradientUnits="userSpaceOnUse" x1="365.6" y1="388.5" x2="485.1" y2="283.2"><stop offset="0" stop-color="#116214"/><stop offset="0.125" stop-color="#116a2c"/><stop offset="0.25" stop-color="#117144"/><stop offset="0.375" stop-color="#12785e"/><stop offset="0.5" stop-color="#127f77"/><stop offset="0.625" stop-color="#158394"/><stop offset="0.75" stop-color="#1885b0"/><stop offset="0.875" stop-color="#1c87cd"/><stop offset="1" stop-color="#1f8aeb"/></linearGradient><linearGradient id="gd21" gradientUnits="userSpaceOnUse" x1="363.9" y1="387.9" x2="483.4" y2="281.3"><stop offset="0" stop-color="#116214"/><stop offset="0.125" stop-color="#116a2c"/><stop offset="0.25" stop-color="#117144"/><stop offset="0.375" stop-color="#12785e"/><stop offset="0.5" stop-color="#127f77"/><stop offset="0.625" stop-color="#158294"/><stop offset="0.75" stop-color="#1885b0"/><stop offset="0.875" stop-color="#1c87cd"/><stop offset="1" stop-color="#1f89ea"/></linearGradient><linearGradient id="gd22" gradientUnits="userSpaceOnUse" x1="362.2" y1="387.3" x2="481.8" y2="279.4"><stop offset="0" stop-color="#116314"/><stop offset="0.125" stop-color="#116a2c"/><stop offset="0.25" stop-color="#117144"/><stop offset="0.375" stop-color="#12785e"/><stop offset="0.5" stop-color="#127f77"/><stop offset="0.625" stop-color="#158293"/><stop offset="0.75" stop-color="#1884af"/><stop offset="0.875" stop-color="#1c86cc"/><stop offset="1" stop-color="#1f89ea"/></linearGradient><linearGradient id="gd23" gradientUnits="userSpaceOnUse" x1="360.5" y1="386.7" x2="480.1" y2="277.6"><stop offset="0" stop-color="#116314"/><stop offset="0.125" stop-color="#116a2c"/><stop offset="0.25" stop-color="#117144"/><stop offset="0.375" stop-color="#12785d"/><stop offset="0.5" stop-color="#127f77"/><stop offset="0.625" stop-color="#158293"/><stop offset="0.75" stop-color="#1884af"/><stop offset="0.875" stop-color="#1c86cc"/><stop offset="1" stop-color="#1f89e9"/></linearGradient><linearGradient id="gd24" gradientUnits="userSpaceOnUse" x1="358.8" y1="386.1" x2="478.4" y2="275.8"><stop offset="0" stop-color="#116314"/><stop offset="0.125" stop-color="#116a2c"/><stop offset="0.25" stop-color="#117144"/><stop offset="0.375" stop-color="#12785d"/><stop offset="0.5" stop-color="#127f77"/><stop offset="0.625" stop-color="#158293"/><stop offset="0.75" stop-color="#1884ae"/><stop offset="0.875" stop-color="#1b86cb"/><stop offset="1" stop-color="#1e89e8"/></linearGradient><linearGradient id="gd25" gradientUnits="userSpaceOnUse" x1="357.2" y1="385.5" x2="476.7" y2="274.1"><stop offset="0" stop-color="#116314"/><stop offset="0.125" stop-color="#116a2c"/><stop offset="0.25" stop-color="#117144"/><stop offset="0.375" stop-color="#12785d"/><stop offset="0.5" stop-color="#127e76"/><stop offset="0.625" stop-color="#158192"/><stop offset="0.75" stop-color="#1883ae"/><stop offset="0.875" stop-color="#1b85cb"/><stop offset="1" stop-color="#1e88e8"/></linearGradient><linearGradient id="gd26" gradientUnits="userSpaceOnUse" x1="355.5" y1="384.9" x2="475" y2="272.5"><stop offset="0" stop-color="#116314"/><stop offset="0.125" stop-color="#116a2b"/><stop offset="0.25" stop-color="#117144"/><stop offset="0.375" stop-color="#12775d"/><stop offset="0.5" stop-color="#127e76"/><stop offset="0.625" stop-color="#158192"/><stop offset="0.75" stop-color="#1783ae"/><stop offset="0.875" stop-color="#1b85ca"/><stop offset="1" stop-color="#1e88e7"/></linearGradient><linearGradient id="gd27" gradientUnits="userSpaceOnUse" x1="353.8" y1="384.3" x2="473.4" y2="270.9"><stop offset="0" stop-color="#116314"/><stop offset="0.125" stop-color="#116a2b"/><stop offset="0.25" stop-color="#117043"/><stop offset="0.375" stop-color="#12775d"/><stop offset="0.5" stop-color="#127e76"/><stop offset="0.625" stop-color="#158192"/><stop offset="0.75" stop-color="#1783ad"/><stop offset="0.875" stop-color="#1b85ca"/><stop offset="1" stop-color="#1e87e6"/></linearGradient><linearGradient id="gd28" gradientUnits="userSpaceOnUse" x1="352.1" y1="383.7" x2="471.7" y2="269.4"><stop offset="0" stop-color="#116314"/><stop offset="0.125" stop-color="#116a2b"/><stop offset="0.25" stop-color="#117043"/><stop offset="0.375" stop-color="#11775d"/><stop offset="0.5" stop-color="#127d75"/><stop offset="0.625" stop-color="#148091"/><stop offset="0.75" stop-color="#1782ac"/><stop offset="0.875" stop-color="#1b84c9"/><stop offset="1" stop-color="#1e87e5"/></linearGradient><linearGradient id="gd29" gradientUnits="userSpaceOnUse" x1="350.4" y1="383.1" x2="470" y2="267.9"><stop offset="0" stop-color="#116314"/><stop offset="0.125" stop-color="#116a2b"/><stop offset="0.25" stop-color="#117043"/><stop offset="0.375" stop-color="#11775c"/><stop offset="0.5" stop-color="#127d75"/><stop offset="0.625" stop-color="#148091"/><stop offset="0.75" stop-color="#1782ac"/><stop offset="0.875" stop-color="#1b84c8"/><stop offset="1" stop-color="#1e86e5"/></linearGradient><linearGradient id="gd30" gradientUnits="userSpaceOnUse" x1="348.8" y1="382.5" x2="468.3" y2="266.6"><stop offset="0" stop-color="#116314"/><stop offset="0.125" stop-color="#11692b"/><stop offset="0.25" stop-color="#117043"/><stop offset="0.375" stop-color="#11765c"/><stop offset="0.5" stop-color="#127d75"/><stop offset="0.625" stop-color="#147f90"/><stop offset="0.75" stop-color="#1781ab"/><stop offset="0.875" stop-color="#1b83c7"/><stop offset="1" stop-color="#1e86e4"/></linearGradient><linearGradient id="gd31" gradientUnits="userSpaceOnUse" x1="347.1" y1="381.9" x2="466.6" y2="265.3"><stop offset="0" stop-color="#116314"/><stop offset="0.125" stop-color="#11692b"/><stop offset="0.25" stop-color="#117043"/><stop offset="0.375" stop-color="#11765c"/><stop offset="0.5" stop-color="#117c74"/><stop offset="0.625" stop-color="#147f90"/><stop offset="0.75" stop-color="#1781aa"/><stop offset="0.875" stop-color="#1b82c6"/><stop offset="1" stop-color="#1e85e2"/></linearGradient><linearGradient id="gd32" gradientUnits="userSpaceOnUse" x1="345.4" y1="381.3" x2="465" y2="264"><stop offset="0" stop-color="#116314"/><stop offset="0.125" stop-color="#11692b"/><stop offset="0.25" stop-color="#116f43"/><stop offset="0.375" stop-color="#11765c"/><stop offset="0.5" stop-color="#117c74"/><stop offset="0.625" stop-color="#147e8f"/><stop offset="0.75" stop-color="#1780aa"/><stop offset="0.875" stop-color="#1b82c5"/><stop offset="1" stop-color="#1d84e1"/></linearGradient><linearGradient id="gd33" gradientUnits="userSpaceOnUse" x1="343.7" y1="380.7" x2="463.3" y2="262.9"><stop offset="0" stop-color="#116314"/><stop offset="0.125" stop-color="#11692b"/><stop offset="0.25" stop-color="#116f43"/><stop offset="0.375" stop-color="#11755b"/><stop offset="0.5" stop-color="#117b73"/><stop offset="0.625" stop-color="#147e8e"/><stop offset="0.75" stop-color="#177fa9"/><stop offset="0.875" stop-color="#1b81c4"/><stop offset="1" stop-color="#1d84e0"/></linearGradient><linearGradient id="gd34" gradientUnits="userSpaceOnUse" x1="342" y1="380.1" x2="461.6" y2="261.8"><stop offset="0" stop-color="#116314"/><stop offset="0.125" stop-color="#11692b"/><stop offset="0.25" stop-color="#116f43"/><stop offset="0.375" stop-color="#11755b"/><stop offset="0.5" stop-color="#117b73"/><stop offset="0.625" stop-color="#147d8e"/><stop offset="0.75" stop-color="#177fa8"/><stop offset="0.875" stop-color="#1a80c3"/><stop offset="1" stop-color="#1d83df"/></linearGradient><linearGradient id="gd35" gradientUnits="userSpaceOnUse" x1="340.4" y1="379.5" x2="459.9" y2="260.8"><stop offset="0" stop-color="#116314"/><stop offset="0.125" stop-color="#11692b"/><stop offset="0.25" stop-color="#116f42"/><stop offset="0.375" stop-color="#11755b"/><stop offset="0.5" stop-color="#117a73"/><stop offset="0.625" stop-color="#147d8d"/><stop offset="0.75" stop-color="#177ea7"/><stop offset="0.875" stop-color="#1a80c2"/><stop offset="1" stop-color="#1d82dd"/></linearGradient><linearGradient id="gd36" gradientUnits="userSpaceOnUse" x1="338.7" y1="378.9" x2="458.2" y2="259.9"><stop offset="0" stop-color="#116314"/><stop offset="0.125" stop-color="#11692b"/><stop offset="0.25" stop-color="#116e42"/><stop offset="0.375" stop-color="#11745b"/><stop offset="0.5" stop-color="#117a72"/><stop offset="0.625" stop-color="#147c8c"/><stop offset="0.75" stop-color="#167da6"/><stop offset="0.875" stop-color="#1a7fc1"/><stop offset="1" stop-color="#1d81dc"/></linearGradient><linearGradient id="gd37" gradientUnits="userSpaceOnUse" x1="337" y1="378.2" x2="456.6" y2="259"><stop offset="0" stop-color="#116314"/><stop offset="0.125" stop-color="#11692b"/><stop offset="0.25" stop-color="#116e42"/><stop offset="0.375" stop-color="#11745a"/><stop offset="0.5" stop-color="#117972"/><stop offset="0.625" stop-color="#147b8c"/><stop offset="0.75" stop-color="#167da5"/><stop offset="0.875" stop-color="#1a7ebf"/><stop offset="1" stop-color="#1d80da"/></linearGradient><linearGradient id="gd38" gradientUnits="userSpaceOnUse" x1="335.3" y1="377.6" x2="454.9" y2="258.2"><stop offset="0" stop-color="#116314"/><stop offset="0.125" stop-color="#11692b"/><stop offset="0.25" stop-color="#116e42"/><stop offset="0.375" stop-color="#11735a"/><stop offset="0.5" stop-color="#117971"/><stop offset="0.625" stop-color="#147b8b"/><stop offset="0.75" stop-color="#167ca4"/><stop offset="0.875" stop-color="#1a7dbe"/><stop offset="1" stop-color="#1c7fd8"/></linearGradient><linearGradient id="gd39" gradientUnits="userSpaceOnUse" x1="333.6" y1="377" x2="453.2" y2="257.5"><stop offset="0" stop-color="#116314"/><stop offset="0.125" stop-color="#11692b"/><stop offset="0.25" stop-color="#116e42"/><stop offset="0.375" stop-color="#11735a"/><stop offset="0.5" stop-color="#117870"/><stop offset="0.625" stop-color="#137a8a"/><stop offset="0.75" stop-color="#167ba3"/><stop offset="0.875" stop-color="#197cbc"/><stop offset="1" stop-color="#1c7ed6"/></linearGradient><linearGradient id="gd40" gradientUnits="userSpaceOnUse" x1="332" y1="376.4" x2="451.5" y2="256.9"><stop offset="0" stop-color="#116314"/><stop offset="0.125" stop-color="#11682b"/><stop offset="0.25" stop-color="#116d42"/><stop offset="0.375" stop-color="#117259"/><stop offset="0.5" stop-color="#117770"/><stop offset="0.625" stop-color="#137989"/><stop offset="0.75" stop-color="#167aa1"/><stop offset="0.875" stop-color="#197bbb"/><stop offset="1" stop-color="#1c7cd4"/></linearGradient><linearGradient id="gd41" gradientUnits="userSpaceOnUse" x1="330.3" y1="375.8" x2="449.8" y2="256.4"><stop offset="0" stop-color="#116314"/><stop offset="0.125" stop-color="#11682b"/><stop offset="0.25" stop-color="#116d41"/><stop offset="0.375" stop-color="#117259"/><stop offset="0.5" stop-color="#11776f"/><stop offset="0.625" stop-color="#137888"/><stop offset="0.75" stop-color="#1679a0"/><stop offset="0.875" stop-color="#197ab9"/><stop offset="1" stop-color="#1b7bd1"/></linearGradient><linearGradient id="gd42" gradientUnits="userSpaceOnUse" x1="328.6" y1="375.2" x2="448.2" y2="255.9"><stop offset="0" stop-color="#116314"/><stop offset="0.125" stop-color="#11682b"/><stop offset="0.25" stop-color="#116d41"/><stop offset="0.375" stop-color="#117258"/><stop offset="0.5" stop-color="#11766f"/><stop offset="0.625" stop-color="#137787"/><stop offset="0.75" stop-color="#15789f"/><stop offset="0.875" stop-color="#1978b7"/><stop offset="1" stop-color="#1b7acf"/></linearGradient><linearGradient id="gd43" gradientUnits="userSpaceOnUse" x1="326.9" y1="374.6" x2="446.5" y2="255.5"><stop offset="0" stop-color="#116314"/><stop offset="0.125" stop-color="#11682b"/><stop offset="0.25" stop-color="#116d41"/><stop offset="0.375" stop-color="#117158"/><stop offset="0.5" stop-color="#11756e"/><stop offset="0.625" stop-color="#137786"/><stop offset="0.75" stop-color="#15779d"/><stop offset="0.875" stop-color="#1877b5"/><stop offset="1" stop-color="#1b78cc"/></linearGradient><linearGradient id="gd44" gradientUnits="userSpaceOnUse" x1="325.2" y1="374" x2="444.8" y2="255.1"><stop offset="0" stop-color="#116314"/><stop offset="0.125" stop-color="#11682b"/><stop offset="0.25" stop-color="#116c41"/><stop offset="0.375" stop-color="#117158"/><stop offset="0.5" stop-color="#10756d"/><stop offset="0.625" stop-color="#137685"/><stop offset="0.75" stop-color="#15769c"/><stop offset="0.875" stop-color="#1876b3"/><stop offset="1" stop-color="#1a76c9"/></linearGradient></defs>
<g filter="url(#bl)"><path d="M400 400.9L519.6 326.7L516.9 323.5L397.3 399.9Z" fill="url(#gd0)"/><path d="M398.3 400.3L517.9 324.7L515.2 321.4L395.6 399.3Z" fill="url(#gd1)"/><path d="M396.6 399.7L516.2 322.6L513.5 319.3L394 398.7Z" fill="url(#gd2)"/><path d="M395 399.1L514.5 320.6L511.8 317.2L392.3 398.1Z" fill="url(#gd3)"/><path d="M393.3 398.5L512.8 318.4L510.2 315L390.6 397.5Z" fill="url(#gd4)"/><path d="M391.6 397.9L511.2 316.3L508.5 312.9L388.9 396.9Z" fill="url(#gd5)"/><path d="M389.9 397.3L509.5 314.2L506.8 310.7L387.2 396.3Z" fill="url(#gd6)"/><path d="M388.2 396.7L507.8 312L505.1 308.5L385.6 395.7Z" fill="url(#gd7)"/><path d="M386.6 396.1L506.1 309.8L503.4 306.3L383.9 395.1Z" fill="url(#gd8)"/><path d="M384.9 395.5L504.4 307.6L501.8 304.1L382.2 394.5Z" fill="url(#gd9)"/><path d="M383.2 394.9L502.8 305.4L500.1 301.9L380.5 393.9Z" fill="url(#gd10)"/><path d="M381.5 394.3L501.1 303.2L498.4 299.7L378.8 393.3Z" fill="url(#gd11)"/><path d="M379.8 393.7L499.4 301L496.7 297.5L377.2 392.7Z" fill="url(#gd12)"/><path d="M378.2 393L497.7 298.8L495 295.4L375.5 392.1Z" fill="url(#gd13)"/><path d="M376.5 392.4L496 296.7L493.4 293.2L373.8 391.5Z" fill="url(#gd14)"/><path d="M374.8 391.8L494.4 294.5L491.7 291.1L372.1 390.9Z" fill="url(#gd15)"/><path d="M373.1 391.2L492.7 292.4L490 289.1L370.4 390.3Z" fill="url(#gd16)"/><path d="M371.4 390.6L491 290.3L488.3 287L368.8 389.7Z" fill="url(#gd17)"/><path d="M369.8 390L489.3 288.2L486.6 285L367.1 389.1Z" fill="url(#gd18)"/><path d="M368.1 389.4L487.6 286.2L485 283L365.4 388.5Z" fill="url(#gd19)"/><path d="M366.4 388.8L486 284.2L483.3 281.1L363.7 387.9Z" fill="url(#gd20)"/><path d="M364.7 388.2L484.3 282.3L481.6 279.2L362 387.2Z" fill="url(#gd21)"/><path d="M363 387.6L482.6 280.4L479.9 277.4L360.4 386.6Z" fill="url(#gd22)"/><path d="M361.4 387L480.9 278.5L478.2 275.7L358.7 386Z" fill="url(#gd23)"/><path d="M359.7 386.4L479.2 276.7L476.6 274L357 385.4Z" fill="url(#gd24)"/><path d="M358 385.8L477.6 275L474.9 272.3L355.3 384.8Z" fill="url(#gd25)"/><path d="M356.3 385.2L475.9 273.3L473.2 270.8L353.6 384.2Z" fill="url(#gd26)"/><path d="M354.6 384.6L474.2 271.7L471.5 269.2L352 383.6Z" fill="url(#gd27)"/><path d="M353 384L472.5 270.1L469.8 267.8L350.3 383Z" fill="url(#gd28)"/><path d="M351.3 383.4L470.8 268.7L468.2 266.4L348.6 382.4Z" fill="url(#gd29)"/><path d="M349.6 382.8L469.2 267.2L466.5 265.1L346.9 381.8Z" fill="url(#gd30)"/><path d="M347.9 382.2L467.5 265.9L464.8 263.9L345.2 381.2Z" fill="url(#gd31)"/><path d="M346.2 381.6L465.8 264.6L463.1 262.8L343.6 380.6Z" fill="url(#gd32)"/><path d="M344.6 381L464.1 263.4L461.4 261.7L341.9 380Z" fill="url(#gd33)"/><path d="M342.9 380.4L462.4 262.3L459.8 260.7L340.2 379.4Z" fill="url(#gd34)"/><path d="M341.2 379.8L460.8 261.3L458.1 259.8L338.5 378.8Z" fill="url(#gd35)"/><path d="M339.5 379.2L459.1 260.3L456.4 258.9L336.8 378.2Z" fill="url(#gd36)"/><path d="M337.8 378.6L457.4 259.4L454.7 258.2L335.2 377.6Z" fill="url(#gd37)"/><path d="M336.2 377.9L455.7 258.6L453 257.5L333.5 377Z" fill="url(#gd38)"/><path d="M334.5 377.3L454 257.9L451.4 256.8L331.8 376.4Z" fill="url(#gd39)"/><path d="M332.8 376.7L452.4 257.2L449.7 256.3L330.1 375.8Z" fill="url(#gd40)"/><path d="M331.1 376.1L450.7 256.6L448 255.8L328.4 375.2Z" fill="url(#gd41)"/><path d="M329.4 375.5L449 256.1L446.3 255.4L326.8 374.6Z" fill="url(#gd42)"/><path d="M327.8 374.9L447.3 255.7L444.6 255.1L325.1 374Z" fill="url(#gd43)"/><path d="M326.1 374.3L445.6 255.3L444 255L324.4 373.7Z" fill="url(#gd44)"/>
<path d="M400 400.9L324.4 373.7M401.5 400L399 399L396.5 398.1L393.9 397.2L391.4 396.2L388.9 395.3L386.4 394.4L383.9 393.4L381.3 392.5L378.8 391.6L376.3 390.6L373.8 389.7L371.3 388.8L368.7 387.8L366.2 386.9L363.7 386L361.2 385L358.7 384.1L356.1 383.2L353.6 382.3L351.1 381.3L348.6 380.4L346.1 379.5L343.5 378.6L341 377.7L338.5 376.8L336 375.9L333.5 374.9L330.9 374L328.4 373.1L325.9 372.2M403 399L400.5 398.1L397.9 397.1L395.4 396.2L392.9 395.2L390.4 394.2L387.9 393.3L385.3 392.3L382.8 391.3L380.3 390.4L377.8 389.4L375.3 388.4L372.7 387.5L370.2 386.5L367.7 385.6L365.2 384.6L362.7 383.7L360.1 382.7L357.6 381.8L355.1 380.8L352.6 379.9L350.1 379L347.5 378L345 377.1L342.5 376.2L340 375.3L337.5 374.4L334.9 373.4L332.4 372.5L329.9 371.6L327.4 370.8M404.5 398.1L402 397.1L399.4 396.1L396.9 395.2L394.4 394.2L391.9 393.2L389.4 392.2L386.8 391.2L384.3 390.2L381.8 389.2L379.3 388.2L376.8 387.2L374.2 386.2L371.7 385.2L369.2 384.2L366.7 383.3L364.2 382.3L361.6 381.3L359.1 380.4L356.6 379.4L354.1 378.4L351.6 377.5L349 376.6L346.5 375.6L344 374.7L341.5 373.8L339 372.9L336.4 372L333.9 371.1L331.4 370.2L328.9 369.3M406 397.2L403.5 396.2L400.9 395.2L398.4 394.1L395.9 393.1L393.4 392.1L390.9 391.1L388.3 390L385.8 389L383.3 388L380.8 387L378.3 386L375.7 384.9L373.2 383.9L370.7 382.9L368.2 381.9L365.7 380.9L363.1 379.9L360.6 378.9L358.1 378L355.6 377L353.1 376L350.5 375.1L348 374.1L345.5 373.2L343 372.3L340.5 371.4L337.9 370.5L335.4 369.6L332.9 368.7L330.4 367.8M407.5 396.3L405 395.2L402.4 394.2L399.9 393.1L397.4 392.1L394.9 391L392.4 390L389.8 388.9L387.3 387.9L384.8 386.8L382.3 385.8L379.8 384.7L377.2 383.7L374.7 382.6L372.2 381.6L369.7 380.6L367.2 379.5L364.6 378.5L362.1 377.5L359.6 376.5L357.1 375.6L354.6 374.6L352 373.6L349.5 372.7L347 371.7L344.5 370.8L342 369.9L339.4 369L336.9 368.1L334.4 367.2L331.9 366.3M409 395.3L406.4 394.3L403.9 393.2L401.4 392.1L398.9 391L396.4 390L393.8 388.9L391.3 387.8L388.8 386.7L386.3 385.6L383.8 384.5L381.2 383.5L378.7 382.4L376.2 381.3L373.7 380.3L371.2 379.2L368.6 378.2L366.1 377.1L363.6 376.1L361.1 375.1L358.6 374.1L356 373.1L353.5 372.2L351 371.2L348.5 370.2L346 369.3L343.4 368.4L340.9 367.5L338.4 366.6L335.9 365.7L333.4 364.8M410.5 394.4L407.9 393.3L405.4 392.2L402.9 391.1L400.4 390L397.9 388.9L395.3 387.8L392.8 386.7L390.3 385.5L387.8 384.4L385.3 383.3L382.7 382.2L380.2 381.1L377.7 380L375.2 378.9L372.7 377.9L370.1 376.8L367.6 375.8L365.1 374.7L362.6 373.7L360.1 372.7L357.5 371.7L355 370.7L352.5 369.7L350 368.8L347.5 367.8L344.9 366.9L342.4 366L339.9 365.1L337.4 364.2L334.9 363.3M412 393.5L409.4 392.4L406.9 391.2L404.4 390.1L401.9 389L399.4 387.8L396.8 386.7L394.3 385.5L391.8 384.4L389.3 383.2L386.8 382.1L384.2 381L381.7 379.8L379.2 378.7L376.7 377.6L374.2 376.5L371.6 375.4L369.1 374.4L366.6 373.3L364.1 372.3L361.6 371.2L359 370.2L356.5 369.2L354 368.2L351.5 367.3L349 366.3L346.4 365.4L343.9 364.5L341.4 363.6L338.9 362.7L336.4 361.8M413.5 392.6L410.9 391.4L408.4 390.3L405.9 389.1L403.4 387.9L400.9 386.8L398.3 385.6L395.8 384.4L393.3 383.2L390.8 382.1L388.3 380.9L385.7 379.7L383.2 378.6L380.7 377.4L378.2 376.3L375.7 375.2L373.1 374.1L370.6 373L368.1 371.9L365.6 370.8L363.1 369.8L360.5 368.8L358 367.7L355.5 366.8L353 365.8L350.5 364.8L347.9 363.9L345.4 363L342.9 362.1L340.4 361.2L337.9 360.4M414.9 391.6L412.4 390.5L409.9 389.3L407.4 388.1L404.9 386.9L402.3 385.7L399.8 384.5L397.3 383.3L394.8 382.1L392.3 380.9L389.7 379.7L387.2 378.5L384.7 377.3L382.2 376.1L379.7 375L377.1 373.8L374.6 372.7L372.1 371.6L369.6 370.5L367.1 369.4L364.5 368.3L362 367.3L359.5 366.3L357 365.3L354.5 364.3L351.9 363.3L349.4 362.4L346.9 361.5L344.4 360.6L341.9 359.7L339.3 358.9M416.4 390.7L413.9 389.5L411.4 388.3L408.9 387.1L406.4 385.8L403.8 384.6L401.3 383.4L398.8 382.1L396.3 380.9L393.8 379.7L391.2 378.5L388.7 377.2L386.2 376L383.7 374.8L381.2 373.6L378.6 372.5L376.1 371.3L373.6 370.2L371.1 369.1L368.6 368L366 366.9L363.5 365.8L361 364.8L358.5 363.8L356 362.8L353.4 361.9L350.9 360.9L348.4 360L345.9 359.1L343.4 358.2L340.8 357.4M417.9 389.8L415.4 388.5L412.9 387.3L410.4 386.1L407.9 384.8L405.3 383.5L402.8 382.3L400.3 381L397.8 379.8L395.3 378.5L392.7 377.2L390.2 376L387.7 374.8L385.2 373.5L382.7 372.3L380.1 371.1L377.6 370L375.1 368.8L372.6 367.7L370.1 366.5L367.5 365.5L365 364.4L362.5 363.3L360 362.3L357.5 361.3L354.9 360.4L352.4 359.4L349.9 358.5L347.4 357.6L344.9 356.8L342.3 355.9M419.4 388.8L416.9 387.6L414.4 386.3L411.9 385.1L409.3 383.8L406.8 382.5L404.3 381.2L401.8 379.9L399.3 378.6L396.7 377.3L394.2 376L391.7 374.8L389.2 373.5L386.7 372.2L384.1 371L381.6 369.8L379.1 368.6L376.6 367.4L374.1 366.2L371.5 365.1L369 364L366.5 362.9L364 361.9L361.5 360.8L358.9 359.8L356.4 358.9L353.9 357.9L351.4 357L348.9 356.1L346.3 355.3L343.8 354.4M420.9 387.9L418.4 386.6L415.9 385.3L413.4 384L410.8 382.7L408.3 381.4L405.8 380.1L403.3 378.8L400.8 377.4L398.2 376.1L395.7 374.8L393.2 373.5L390.7 372.2L388.2 370.9L385.6 369.7L383.1 368.4L380.6 367.2L378.1 366L375.6 364.8L373 363.7L370.5 362.6L368 361.5L365.5 360.4L363 359.4L360.4 358.4L357.9 357.4L355.4 356.4L352.9 355.5L350.4 354.6L347.8 353.8L345.3 352.9M422.4 387L419.9 385.7L417.4 384.4L414.9 383L412.3 381.7L409.8 380.3L407.3 379L404.8 377.6L402.3 376.3L399.7 374.9L397.2 373.6L394.7 372.3L392.2 370.9L389.7 369.6L387.1 368.4L384.6 367.1L382.1 365.8L379.6 364.6L377.1 363.4L374.5 362.3L372 361.1L369.5 360L367 358.9L364.5 357.9L361.9 356.9L359.4 355.9L356.9 354.9L354.4 354L351.9 353.1L349.3 352.3L346.8 351.5M423.9 386.1L421.4 384.7L418.9 383.4L416.4 382L413.8 380.7L411.3 379.3L408.8 377.9L406.3 376.5L403.8 375.1L401.2 373.7L398.7 372.4L396.2 371L393.7 369.7L391.2 368.3L388.6 367L386.1 365.7L383.6 364.5L381.1 363.2L378.6 362L376 360.8L373.5 359.7L371 358.6L368.5 357.5L366 356.4L363.4 355.4L360.9 354.4L358.4 353.4L355.9 352.5L353.4 351.6L350.8 350.8L348.3 350M425.4 385.1L422.9 383.8L420.4 382.4L417.8 381L415.3 379.6L412.8 378.2L410.3 376.8L407.8 375.4L405.2 374L402.7 372.6L400.2 371.2L397.7 369.8L395.2 368.4L392.6 367L390.1 365.7L387.6 364.4L385.1 363.1L382.6 361.8L380 360.6L377.5 359.4L375 358.2L372.5 357.1L370 356L367.4 354.9L364.9 353.9L362.4 352.9L359.9 352L357.4 351L354.8 350.2L352.3 349.3L349.8 348.5M426.9 384.2L424.4 382.8L421.9 381.4L419.3 380L416.8 378.6L414.3 377.1L411.8 375.7L409.3 374.3L406.7 372.8L404.2 371.4L401.7 369.9L399.2 368.5L396.7 367.1L394.1 365.7L391.6 364.4L389.1 363L386.6 361.7L384.1 360.4L381.5 359.2L379 358L376.5 356.8L374 355.6L371.5 354.5L368.9 353.5L366.4 352.4L363.9 351.4L361.4 350.5L358.9 349.5L356.3 348.7L353.8 347.8L351.3 347M428.4 383.3L425.9 381.9L423.4 380.4L420.8 379L418.3 377.5L415.8 376.1L413.3 374.6L410.8 373.1L408.2 371.7L405.7 370.2L403.2 368.7L400.7 367.3L398.2 365.9L395.6 364.4L393.1 363.1L390.6 361.7L388.1 360.4L385.6 359L383 357.8L380.5 356.5L378 355.3L375.5 354.2L373 353.1L370.4 352L367.9 350.9L365.4 349.9L362.9 349L360.4 348L357.8 347.2L355.3 346.3L352.8 345.5M429.9 382.3L427.4 380.9L424.8 379.5L422.3 378L419.8 376.5L417.3 375L414.8 373.5L412.2 372L409.7 370.5L407.2 369L404.7 367.5L402.2 366L399.6 364.6L397.1 363.1L394.6 361.7L392.1 360.3L389.6 359L387 357.7L384.5 356.4L382 355.1L379.5 353.9L377 352.7L374.4 351.6L371.9 350.5L369.4 349.4L366.9 348.4L364.4 347.5L361.8 346.6L359.3 345.7L356.8 344.8L354.3 344M431.4 381.4L428.9 380L426.3 378.5L423.8 377L421.3 375.5L418.8 373.9L416.3 372.4L413.7 370.9L411.2 369.3L408.7 367.8L406.2 366.3L403.7 364.8L401.1 363.3L398.6 361.8L396.1 360.4L393.6 359L391.1 357.6L388.5 356.3L386 355L383.5 353.7L381 352.5L378.5 351.3L375.9 350.1L373.4 349L370.9 348L368.4 346.9L365.9 346L363.3 345.1L360.8 344.2L358.3 343.3L355.8 342.6M432.9 380.5L430.4 379L427.8 377.5L425.3 376L422.8 374.4L420.3 372.9L417.8 371.3L415.2 369.7L412.7 368.2L410.2 366.6L407.7 365.1L405.2 363.5L402.6 362L400.1 360.5L397.6 359.1L395.1 357.6L392.6 356.2L390 354.9L387.5 353.5L385 352.3L382.5 351L380 349.8L377.4 348.6L374.9 347.5L372.4 346.5L369.9 345.5L367.4 344.5L364.8 343.6L362.3 342.7L359.8 341.9L357.3 341.1M434.4 379.6L431.9 378.1L429.3 376.5L426.8 375L424.3 373.4L421.8 371.8L419.3 370.2L416.7 368.6L414.2 367L411.7 365.4L409.2 363.9L406.7 362.3L404.1 360.8L401.6 359.2L399.1 357.8L396.6 356.3L394.1 354.9L391.5 353.5L389 352.1L386.5 350.8L384 349.6L381.5 348.3L378.9 347.2L376.4 346.1L373.9 345L371.4 344L368.9 343L366.3 342.1L363.8 341.2L361.3 340.4L358.8 339.6M435.9 378.6L433.3 377.1L430.8 375.5L428.3 373.9L425.8 372.3L423.3 370.7L420.7 369.1L418.2 367.5L415.7 365.9L413.2 364.2L410.7 362.6L408.1 361.1L405.6 359.5L403.1 357.9L400.6 356.4L398.1 354.9L395.5 353.5L393 352.1L390.5 350.7L388 349.4L385.5 348.1L382.9 346.9L380.4 345.7L377.9 344.6L375.4 343.5L372.9 342.5L370.3 341.5L367.8 340.6L365.3 339.7L362.8 338.9L360.3 338.1M437.4 377.7L434.8 376.1L432.3 374.5L429.8 372.9L427.3 371.3L424.8 369.7L422.2 368L419.7 366.4L417.2 364.7L414.7 363.1L412.2 361.4L409.6 359.8L407.1 358.2L404.6 356.6L402.1 355.1L399.6 353.6L397 352.1L394.5 350.7L392 349.3L389.5 348L387 346.7L384.4 345.4L381.9 344.2L379.4 343.1L376.9 342L374.4 341L371.8 340L369.3 339.1L366.8 338.2L364.3 337.4L361.8 336.6M438.9 376.8L436.3 375.2L433.8 373.6L431.3 371.9L428.8 370.3L426.3 368.6L423.7 366.9L421.2 365.2L418.7 363.5L416.2 361.9L413.7 360.2L411.1 358.6L408.6 356.9L406.1 355.3L403.6 353.8L401.1 352.3L398.5 350.8L396 349.3L393.5 347.9L391 346.5L388.5 345.2L385.9 344L383.4 342.8L380.9 341.6L378.4 340.5L375.9 339.5L373.3 338.5L370.8 337.6L368.3 336.7L365.8 335.9L363.3 335.1M440.4 375.9L437.8 374.2L435.3 372.6L432.8 370.9L430.3 369.2L427.8 367.5L425.2 365.8L422.7 364.1L420.2 362.4L417.7 360.7L415.2 359L412.6 357.3L410.1 355.7L407.6 354L405.1 352.5L402.6 350.9L400 349.4L397.5 347.9L395 346.5L392.5 345.1L390 343.8L387.4 342.5L384.9 341.3L382.4 340.1L379.9 339L377.4 338L374.8 337L372.3 336.1L369.8 335.2L367.3 334.4L364.8 333.6M441.8 374.9L439.3 373.3L436.8 371.6L434.3 369.9L431.8 368.2L429.2 366.5L426.7 364.7L424.2 363L421.7 361.2L419.2 359.5L416.6 357.8L414.1 356.1L411.6 354.4L409.1 352.8L406.6 351.1L404 349.6L401.5 348L399 346.5L396.5 345.1L394 343.7L391.4 342.3L388.9 341.1L386.4 339.8L383.9 338.7L381.4 337.6L378.8 336.5L376.3 335.5L373.8 334.6L371.3 333.7L368.8 332.9L366.2 332.2M443.3 374L440.8 372.3L438.3 370.6L435.8 368.9L433.3 367.1L430.7 365.4L428.2 363.6L425.7 361.8L423.2 360.1L420.7 358.3L418.1 356.6L415.6 354.8L413.1 353.1L410.6 351.5L408.1 349.8L405.5 348.2L403 346.6L400.5 345.1L398 343.7L395.5 342.3L392.9 340.9L390.4 339.6L387.9 338.4L385.4 337.2L382.9 336.1L380.3 335L377.8 334L375.3 333.1L372.8 332.2L370.3 331.4L367.7 330.7M444.8 373.1L442.3 371.4L439.8 369.6L437.3 367.9L434.8 366.1L432.2 364.3L429.7 362.5L427.2 360.7L424.7 358.9L422.2 357.1L419.6 355.3L417.1 353.6L414.6 351.9L412.1 350.2L409.6 348.5L407 346.9L404.5 345.3L402 343.7L399.5 342.3L397 340.8L394.4 339.5L391.9 338.1L389.4 336.9L386.9 335.7L384.4 334.6L381.8 333.5L379.3 332.5L376.8 331.6L374.3 330.7L371.8 329.9L369.2 329.2M446.3 372.1L443.8 370.4L441.3 368.7L438.8 366.9L436.2 365.1L433.7 363.2L431.2 361.4L428.7 359.6L426.2 357.8L423.6 355.9L421.1 354.1L418.6 352.3L416.1 350.6L413.6 348.9L411 347.2L408.5 345.5L406 343.9L403.5 342.3L401 340.8L398.4 339.4L395.9 338L393.4 336.7L390.9 335.4L388.4 334.2L385.8 333.1L383.3 332L380.8 331L378.3 330.1L375.8 329.3L373.2 328.5L370.7 327.7M447.8 371.2L445.3 369.5L442.8 367.7L440.3 365.9L437.7 364L435.2 362.2L432.7 360.3L430.2 358.5L427.7 356.6L425.1 354.7L422.6 352.9L420.1 351.1L417.6 349.3L415.1 347.6L412.5 345.8L410 344.2L407.5 342.5L405 341L402.5 339.4L399.9 338L397.4 336.6L394.9 335.2L392.4 334L389.9 332.8L387.3 331.6L384.8 330.6L382.3 329.6L379.8 328.6L377.3 327.8L374.7 327L372.2 326.2M449.3 370.3L446.8 368.5L444.3 366.7L441.8 364.9L439.2 363L436.7 361.1L434.2 359.2L431.7 357.3L429.2 355.4L426.6 353.6L424.1 351.7L421.6 349.9L419.1 348L416.6 346.3L414 344.5L411.5 342.8L409 341.2L406.5 339.6L404 338L401.4 336.5L398.9 335.1L396.4 333.8L393.9 332.5L391.4 331.3L388.8 330.1L386.3 329.1L383.8 328.1L381.3 327.1L378.8 326.3L376.2 325.5L373.7 324.7M450.8 369.4L448.3 367.6L445.8 365.7L443.3 363.8L440.7 362L438.2 360L435.7 358.1L433.2 356.2L430.7 354.3L428.1 352.4L425.6 350.5L423.1 348.6L420.6 346.8L418.1 345L415.5 343.2L413 341.5L410.5 339.8L408 338.2L405.5 336.6L402.9 335.1L400.4 333.7L397.9 332.3L395.4 331L392.9 329.8L390.3 328.6L387.8 327.6L385.3 326.6L382.8 325.6L380.3 324.8L377.7 324L375.2 323.3M452.3 368.4L449.8 366.6L447.3 364.7L444.7 362.8L442.2 360.9L439.7 359L437.2 357L434.7 355.1L432.1 353.1L429.6 351.2L427.1 349.3L424.6 347.4L422.1 345.5L419.5 343.7L417 341.9L414.5 340.1L412 338.4L409.5 336.8L406.9 335.2L404.4 333.7L401.9 332.2L399.4 330.9L396.9 329.6L394.3 328.3L391.8 327.2L389.3 326.1L386.8 325.1L384.3 324.1L381.7 323.3L379.2 322.5L376.7 321.8M453.8 367.5L451.3 365.6L448.8 363.8L446.2 361.8L443.7 359.9L441.2 357.9L438.7 355.9L436.2 353.9L433.6 352L431.1 350L428.6 348L426.1 346.1L423.6 344.2L421 342.4L418.5 340.5L416 338.8L413.5 337L411 335.4L408.4 333.8L405.9 332.3L403.4 330.8L400.9 329.4L398.4 328.1L395.8 326.8L393.3 325.7L390.8 324.6L388.3 323.6L385.8 322.6L383.2 321.8L380.7 321L378.2 320.3M455.3 366.6L452.8 364.7L450.3 362.8L447.7 360.8L445.2 358.8L442.7 356.8L440.2 354.8L437.7 352.8L435.1 350.8L432.6 348.8L430.1 346.8L427.6 344.9L425.1 342.9L422.5 341.1L420 339.2L417.5 337.4L415 335.7L412.5 334L409.9 332.4L407.4 330.8L404.9 329.3L402.4 327.9L399.9 326.6L397.3 325.4L394.8 324.2L392.3 323.1L389.8 322.1L387.3 321.2L384.7 320.3L382.2 319.5L379.7 318.8M456.8 365.7L454.3 363.7L451.8 361.8L449.2 359.8L446.7 357.8L444.2 355.8L441.7 353.7L439.2 351.7L436.6 349.7L434.1 347.6L431.6 345.6L429.1 343.6L426.6 341.7L424 339.8L421.5 337.9L419 336.1L416.5 334.3L414 332.6L411.4 331L408.9 329.4L406.4 327.9L403.9 326.5L401.4 325.1L398.8 323.9L396.3 322.7L393.8 321.6L391.3 320.6L388.8 319.7L386.2 318.8L383.7 318L381.2 317.3M458.3 364.7L455.8 362.8L453.2 360.8L450.7 358.8L448.2 356.8L445.7 354.7L443.2 352.6L440.6 350.6L438.1 348.5L435.6 346.4L433.1 344.4L430.6 342.4L428 340.4L425.5 338.5L423 336.6L420.5 334.7L418 332.9L415.4 331.2L412.9 329.6L410.4 328L407.9 326.5L405.4 325L402.8 323.7L400.3 322.4L397.8 321.2L395.3 320.1L392.8 319.1L390.2 318.2L387.7 317.3L385.2 316.5L382.7 315.8M459.8 363.8L457.3 361.8L454.7 359.8L452.2 357.8L449.7 355.7L447.2 353.6L444.7 351.5L442.1 349.4L439.6 347.3L437.1 345.2L434.6 343.2L432.1 341.1L429.5 339.1L427 337.2L424.5 335.2L422 333.4L419.5 331.6L416.9 329.8L414.4 328.1L411.9 326.5L409.4 325L406.9 323.6L404.3 322.2L401.8 320.9L399.3 319.7L396.8 318.6L394.3 317.6L391.7 316.7L389.2 315.8L386.7 315L384.2 314.3M461.3 362.9L458.8 360.9L456.2 358.8L453.7 356.8L451.2 354.7L448.7 352.6L446.2 350.4L443.6 348.3L441.1 346.2L438.6 344.1L436.1 342L433.6 339.9L431 337.9L428.5 335.9L426 333.9L423.5 332L421 330.2L418.4 328.4L415.9 326.7L413.4 325.1L410.9 323.6L408.4 322.1L405.8 320.7L403.3 319.5L400.8 318.3L398.3 317.1L395.8 316.1L393.2 315.2L390.7 314.3L388.2 313.6L385.7 312.9M462.8 361.9L460.2 359.9L457.7 357.9L455.2 355.8L452.7 353.6L450.2 351.5L447.6 349.3L445.1 347.2L442.6 345L440.1 342.9L437.6 340.7L435 338.7L432.5 336.6L430 334.6L427.5 332.6L425 330.7L422.4 328.8L419.9 327L417.4 325.3L414.9 323.7L412.4 322.1L409.8 320.7L407.3 319.3L404.8 318L402.3 316.8L399.8 315.6L397.2 314.6L394.7 313.7L392.2 312.8L389.7 312.1L387.2 311.4M464.3 361L461.7 359L459.2 356.9L456.7 354.8L454.2 352.6L451.7 350.4L449.1 348.2L446.6 346L444.1 343.9L441.6 341.7L439.1 339.5L436.5 337.4L434 335.3L431.5 333.3L429 331.3L426.5 329.3L423.9 327.4L421.4 325.6L418.9 323.9L416.4 322.3L413.9 320.7L411.3 319.2L408.8 317.8L406.3 316.5L403.8 315.3L401.3 314.2L398.7 313.1L396.2 312.2L393.7 311.3L391.2 310.6L388.7 309.9M465.8 360.1L463.2 358L460.7 355.9L458.2 353.7L455.7 351.6L453.2 349.4L450.6 347.1L448.1 344.9L445.6 342.7L443.1 340.5L440.6 338.3L438 336.2L435.5 334L433 332L430.5 329.9L428 328L425.4 326.1L422.9 324.2L420.4 322.5L417.9 320.8L415.4 319.2L412.8 317.7L410.3 316.3L407.8 315L405.3 313.8L402.8 312.7L400.2 311.6L397.7 310.7L395.2 309.8L392.7 309.1L390.2 308.4M467.3 359.2L464.7 357.1L462.2 354.9L459.7 352.7L457.2 350.5L454.7 348.3L452.1 346L449.6 343.8L447.1 341.5L444.6 339.3L442.1 337.1L439.5 334.9L437 332.8L434.5 330.7L432 328.6L429.5 326.6L426.9 324.7L424.4 322.9L421.9 321.1L419.4 319.4L416.9 317.8L414.3 316.3L411.8 314.9L409.3 313.5L406.8 312.3L404.3 311.2L401.7 310.1L399.2 309.2L396.7 308.4L394.2 307.6L391.7 306.9M468.7 358.2L466.2 356.1L463.7 353.9L461.2 351.7L458.7 349.5L456.1 347.2L453.6 344.9L451.1 342.7L448.6 340.4L446.1 338.1L443.5 335.9L441 333.7L438.5 331.5L436 329.4L433.5 327.3L430.9 325.3L428.4 323.3L425.9 321.5L423.4 319.7L420.9 318L418.3 316.3L415.8 314.8L413.3 313.4L410.8 312.1L408.3 310.8L405.7 309.7L403.2 308.6L400.7 307.7L398.2 306.9L395.7 306.1L393.1 305.4M470.2 357.3L467.7 355.2L465.2 353L462.7 350.7L460.2 348.4L457.6 346.2L455.1 343.8L452.6 341.5L450.1 339.2L447.6 336.9L445 334.7L442.5 332.4L440 330.2L437.5 328.1L435 326L432.4 323.9L429.9 322L427.4 320.1L424.9 318.3L422.4 316.5L419.8 314.9L417.3 313.4L414.8 311.9L412.3 310.6L409.8 309.3L407.2 308.2L404.7 307.2L402.2 306.2L399.7 305.4L397.2 304.6L394.6 304M471.7 356.4L469.2 354.2L466.7 352L464.2 349.7L461.7 347.4L459.1 345.1L456.6 342.7L454.1 340.4L451.6 338.1L449.1 335.8L446.5 333.5L444 331.2L441.5 329L439 326.8L436.5 324.6L433.9 322.6L431.4 320.6L428.9 318.7L426.4 316.9L423.9 315.1L421.3 313.5L418.8 311.9L416.3 310.5L413.8 309.1L411.3 307.9L408.7 306.7L406.2 305.7L403.7 304.7L401.2 303.9L398.7 303.1L396.1 302.5M473.2 355.5L470.7 353.2L468.2 351L465.7 348.7L463.2 346.4L460.6 344L458.1 341.7L455.6 339.3L453.1 336.9L450.6 334.6L448 332.2L445.5 329.9L443 327.7L440.5 325.5L438 323.3L435.4 321.2L432.9 319.2L430.4 317.3L427.9 315.4L425.4 313.7L422.8 312L420.3 310.5L417.8 309L415.3 307.6L412.8 306.4L410.2 305.2L407.7 304.2L405.2 303.2L402.7 302.4L400.2 301.6L397.6 301M474.7 354.5L472.2 352.3L469.7 350L467.2 347.7L464.6 345.3L462.1 342.9L459.6 340.6L457.1 338.2L454.6 335.8L452 333.4L449.5 331L447 328.7L444.5 326.4L442 324.2L439.4 322L436.9 319.9L434.4 317.9L431.9 315.9L429.4 314L426.8 312.3L424.3 310.6L421.8 309L419.3 307.5L416.8 306.1L414.2 304.9L411.7 303.7L409.2 302.7L406.7 301.7L404.2 300.9L401.6 300.1L399.1 299.5M476.2 353.6L473.7 351.3L471.2 349L468.7 346.7L466.1 344.3L463.6 341.9L461.1 339.5L458.6 337L456.1 334.6L453.5 332.2L451 329.8L448.5 327.4L446 325.1L443.5 322.9L440.9 320.7L438.4 318.5L435.9 316.5L433.4 314.5L430.9 312.6L428.3 310.8L425.8 309.1L423.3 307.5L420.8 306L418.3 304.7L415.7 303.4L413.2 302.2L410.7 301.2L408.2 300.2L405.7 299.4L403.1 298.7L400.6 298M477.7 352.7L475.2 350.4L472.7 348L470.2 345.7L467.6 343.2L465.1 340.8L462.6 338.4L460.1 335.9L457.6 333.4L455 331L452.5 328.6L450 326.2L447.5 323.9L445 321.6L442.4 319.3L439.9 317.2L437.4 315.1L434.9 313.1L432.4 311.2L429.8 309.4L427.3 307.7L424.8 306.1L422.3 304.6L419.8 303.2L417.2 301.9L414.7 300.7L412.2 299.7L409.7 298.7L407.2 297.9L404.6 297.2L402.1 296.5M479.2 351.7L476.7 349.4L474.2 347.1L471.6 344.7L469.1 342.2L466.6 339.7L464.1 337.3L461.6 334.8L459 332.3L456.5 329.8L454 327.4L451.5 325L449 322.6L446.4 320.3L443.9 318L441.4 315.8L438.9 313.7L436.4 311.7L433.8 309.8L431.3 308L428.8 306.2L426.3 304.6L423.8 303.1L421.2 301.7L418.7 300.4L416.2 299.3L413.7 298.2L411.2 297.2L408.6 296.4L406.1 295.7L403.6 295.1M480.7 350.8L478.2 348.5L475.7 346.1L473.1 343.6L470.6 341.2L468.1 338.7L465.6 336.2L463.1 333.6L460.5 331.1L458 328.6L455.5 326.2L453 323.7L450.5 321.3L447.9 319L445.4 316.7L442.9 314.5L440.4 312.4L437.9 310.3L435.3 308.4L432.8 306.5L430.3 304.8L427.8 303.2L425.3 301.6L422.7 300.2L420.2 298.9L417.7 297.8L415.2 296.7L412.7 295.8L410.1 294.9L407.6 294.2L405.1 293.6M482.2 349.9L479.7 347.5L477.2 345.1L474.6 342.6L472.1 340.1L469.6 337.6L467.1 335.1L464.6 332.5L462 330L459.5 327.4L457 324.9L454.5 322.5L452 320L449.4 317.7L446.9 315.4L444.4 313.1L441.9 311L439.4 308.9L436.8 307L434.3 305.1L431.8 303.4L429.3 301.7L426.8 300.2L424.2 298.8L421.7 297.5L419.2 296.3L416.7 295.2L414.2 294.3L411.6 293.4L409.1 292.7L406.6 292.1M483.7 349L481.2 346.6L478.7 344.1L476.1 341.6L473.6 339.1L471.1 336.5L468.6 334L466.1 331.4L463.5 328.8L461 326.3L458.5 323.7L456 321.2L453.5 318.8L450.9 316.4L448.4 314.1L445.9 311.8L443.4 309.6L440.9 307.5L438.3 305.6L435.8 303.7L433.3 301.9L430.8 300.2L428.3 298.7L425.7 297.3L423.2 296L420.7 294.8L418.2 293.7L415.7 292.8L413.1 291.9L410.6 291.2L408.1 290.6M485.2 348L482.7 345.6L480.1 343.1L477.6 340.6L475.1 338.1L472.6 335.5L470.1 332.9L467.5 330.3L465 327.7L462.5 325.1L460 322.5L457.5 320L454.9 317.5L452.4 315.1L449.9 312.7L447.4 310.4L444.9 308.3L442.3 306.2L439.8 304.1L437.3 302.3L434.8 300.5L432.3 298.8L429.7 297.2L427.2 295.8L424.7 294.5L422.2 293.3L419.7 292.2L417.1 291.3L414.6 290.4L412.1 289.7L409.6 289.1M486.7 347.1L484.2 344.7L481.6 342.2L479.1 339.6L476.6 337L474.1 334.4L471.6 331.8L469 329.1L466.5 326.5L464 323.9L461.5 321.3L459 318.7L456.4 316.2L453.9 313.8L451.4 311.4L448.9 309.1L446.4 306.9L443.8 304.8L441.3 302.7L438.8 300.8L436.3 299L433.8 297.3L431.2 295.8L428.7 294.3L426.2 293L423.7 291.8L421.2 290.7L418.6 289.8L416.1 288.9L413.6 288.2L411.1 287.6M488.2 346.2L485.7 343.7L483.1 341.2L480.6 338.6L478.1 336L475.6 333.3L473.1 330.7L470.5 328L468 325.3L465.5 322.7L463 320.1L460.5 317.5L457.9 315L455.4 312.5L452.9 310.1L450.4 307.8L447.9 305.5L445.3 303.4L442.8 301.3L440.3 299.4L437.8 297.6L435.3 295.9L432.7 294.3L430.2 292.8L427.7 291.5L425.2 290.3L422.7 289.2L420.1 288.3L417.6 287.5L415.1 286.7L412.6 286.1M489.7 345.2L487.1 342.8L484.6 340.2L482.1 337.6L479.6 334.9L477.1 332.3L474.6 329.6L472 326.9L469.5 324.2L467 321.5L464.5 318.9L461.9 316.2L459.4 313.7L456.9 311.2L454.4 308.8L451.9 306.4L449.4 304.1L446.8 302L444.3 299.9L441.8 298L439.3 296.1L436.8 294.4L434.2 292.8L431.7 291.4L429.2 290L426.7 288.8L424.2 287.7L421.6 286.8L419.1 286L416.6 285.3L414.1 284.7M491.2 344.3L488.6 341.8L486.1 339.2L483.6 336.6L481.1 333.9L478.6 331.2L476 328.5L473.5 325.7L471 323L468.5 320.3L466 317.6L463.4 315L460.9 312.4L458.4 309.9L455.9 307.4L453.4 305.1L450.8 302.8L448.3 300.6L445.8 298.5L443.3 296.5L440.8 294.7L438.2 293L435.7 291.4L433.2 289.9L430.7 288.5L428.2 287.3L425.6 286.2L423.1 285.3L420.6 284.5L418.1 283.8L415.6 283.2M492.7 343.4L490.1 340.8L487.6 338.2L485.1 335.6L482.6 332.9L480.1 330.1L477.5 327.4L475 324.6L472.5 321.9L470 319.1L467.5 316.4L464.9 313.8L462.4 311.1L459.9 308.6L457.4 306.1L454.9 303.7L452.3 301.4L449.8 299.2L447.3 297.1L444.8 295.1L442.3 293.2L439.7 291.5L437.2 289.9L434.7 288.4L432.2 287.1L429.7 285.8L427.1 284.8L424.6 283.8L422.1 283L419.6 282.3L417.1 281.7M494.2 342.5L491.6 339.9L489.1 337.2L486.6 334.6L484.1 331.8L481.6 329.1L479 326.3L476.5 323.5L474 320.7L471.5 317.9L469 315.2L466.4 312.5L463.9 309.9L461.4 307.3L458.9 304.8L456.4 302.4L453.8 300L451.3 297.8L448.8 295.7L446.3 293.7L443.8 291.8L441.2 290L438.7 288.4L436.2 286.9L433.7 285.6L431.2 284.3L428.6 283.3L426.1 282.3L423.6 281.5L421.1 280.8L418.6 280.2M495.6 341.5L493.1 338.9L490.6 336.3L488.1 333.5L485.6 330.8L483 328L480.5 325.2L478 322.4L475.5 319.5L473 316.8L470.4 314L467.9 311.3L465.4 308.6L462.9 306L460.4 303.5L457.8 301L455.3 298.7L452.8 296.4L450.3 294.3L447.8 292.3L445.2 290.4L442.7 288.6L440.2 286.9L437.7 285.4L435.2 284.1L432.6 282.9L430.1 281.8L427.6 280.8L425.1 280L422.6 279.3L420 278.7M497.1 340.6L494.6 338L492.1 335.3L489.6 332.5L487.1 329.7L484.5 326.9L482 324.1L479.5 321.2L477 318.4L474.5 315.6L471.9 312.8L469.4 310L466.9 307.3L464.4 304.7L461.9 302.1L459.3 299.7L456.8 297.3L454.3 295L451.8 292.9L449.3 290.8L446.7 288.9L444.2 287.1L441.7 285.5L439.2 284L436.7 282.6L434.1 281.4L431.6 280.3L429.1 279.3L426.6 278.5L424.1 277.8L421.5 277.2M498.6 339.7L496.1 337L493.6 334.3L491.1 331.5L488.6 328.7L486 325.9L483.5 323L481 320.1L478.5 317.2L476 314.4L473.4 311.6L470.9 308.8L468.4 306L465.9 303.4L463.4 300.8L460.8 298.3L458.3 295.9L455.8 293.6L453.3 291.4L450.8 289.4L448.2 287.5L445.7 285.7L443.2 284L440.7 282.5L438.2 281.1L435.6 279.9L433.1 278.8L430.6 277.8L428.1 277L425.6 276.3L423 275.8M500.1 338.8L497.6 336.1L495.1 333.3L492.6 330.5L490.1 327.7L487.5 324.8L485 321.9L482.5 319L480 316.1L477.5 313.2L474.9 310.3L472.4 307.5L469.9 304.8L467.4 302.1L464.9 299.5L462.3 297L459.8 294.5L457.3 292.2L454.8 290L452.3 288L449.7 286L447.2 284.2L444.7 282.5L442.2 281L439.7 279.6L437.1 278.4L434.6 277.3L432.1 276.3L429.6 275.5L427.1 274.8L424.5 274.3M501.6 337.8L499.1 335.1L496.6 332.3L494.1 329.5L491.5 326.6L489 323.7L486.5 320.8L484 317.8L481.5 314.9L478.9 312L476.4 309.1L473.9 306.3L471.4 303.5L468.9 300.8L466.3 298.2L463.8 295.6L461.3 293.2L458.8 290.8L456.3 288.6L453.7 286.5L451.2 284.6L448.7 282.8L446.2 281.1L443.7 279.5L441.1 278.1L438.6 276.9L436.1 275.8L433.6 274.8L431.1 274L428.5 273.3L426 272.8M503.1 336.9L500.6 334.2L498.1 331.4L495.6 328.5L493 325.6L490.5 322.6L488 319.7L485.5 316.7L483 313.8L480.4 310.8L477.9 307.9L475.4 305L472.9 302.2L470.4 299.5L467.8 296.8L465.3 294.3L462.8 291.8L460.3 289.4L457.8 287.2L455.2 285.1L452.7 283.1L450.2 281.3L447.7 279.6L445.2 278.1L442.6 276.7L440.1 275.4L437.6 274.3L435.1 273.3L432.6 272.5L430 271.8L427.5 271.3M504.6 336L502.1 333.2L499.6 330.4L497.1 327.5L494.5 324.5L492 321.6L489.5 318.6L487 315.6L484.5 312.6L481.9 309.6L479.4 306.7L476.9 303.8L474.4 301L471.9 298.2L469.3 295.5L466.8 292.9L464.3 290.4L461.8 288.1L459.3 285.8L456.7 283.7L454.2 281.7L451.7 279.8L449.2 278.1L446.7 276.6L444.1 275.2L441.6 273.9L439.1 272.8L436.6 271.8L434.1 271L431.5 270.4L429 269.8M506.1 335L503.6 332.3L501.1 329.4L498.5 326.5L496 323.5L493.5 320.5L491 317.5L488.5 314.5L485.9 311.4L483.4 308.4L480.9 305.5L478.4 302.5L475.9 299.7L473.3 296.9L470.8 294.2L468.3 291.6L465.8 289.1L463.3 286.7L460.7 284.4L458.2 282.2L455.7 280.2L453.2 278.4L450.7 276.7L448.1 275.1L445.6 273.7L443.1 272.4L440.6 271.3L438.1 270.4L435.5 269.5L433 268.9L430.5 268.3M507.6 334.1L505.1 331.3L502.6 328.4L500 325.5L497.5 322.5L495 319.4L492.5 316.4L490 313.3L487.4 310.3L484.9 307.3L482.4 304.3L479.9 301.3L477.4 298.4L474.8 295.6L472.3 292.9L469.8 290.2L467.3 287.7L464.8 285.3L462.2 283L459.7 280.8L457.2 278.8L454.7 276.9L452.2 275.2L449.6 273.6L447.1 272.2L444.6 270.9L442.1 269.8L439.6 268.9L437 268L434.5 267.4L432 266.9M509.1 333.2L506.6 330.3L504.1 327.4L501.5 324.5L499 321.4L496.5 318.4L494 315.3L491.5 312.2L488.9 309.1L486.4 306.1L483.9 303L481.4 300.1L478.9 297.1L476.3 294.3L473.8 291.5L471.3 288.9L468.8 286.3L466.3 283.9L463.7 281.6L461.2 279.4L458.7 277.4L456.2 275.5L453.7 273.7L451.1 272.1L448.6 270.7L446.1 269.4L443.6 268.3L441.1 267.4L438.5 266.6L436 265.9L433.5 265.4M510.6 332.3L508.1 329.4L505.6 326.4L503 323.4L500.5 320.4L498 317.3L495.5 314.2L493 311.1L490.4 308L487.9 304.9L485.4 301.8L482.9 298.8L480.4 295.9L477.8 293L475.3 290.2L472.8 287.5L470.3 284.9L467.8 282.5L465.2 280.2L462.7 278L460.2 275.9L457.7 274L455.2 272.3L452.6 270.7L450.1 269.2L447.6 268L445.1 266.8L442.6 265.9L440 265.1L437.5 264.4L435 263.9M512.1 331.3L509.6 328.4L507 325.5L504.5 322.4L502 319.4L499.5 316.2L497 313.1L494.4 310L491.9 306.8L489.4 303.7L486.9 300.6L484.4 297.6L481.8 294.6L479.3 291.7L476.8 288.9L474.3 286.2L471.8 283.6L469.2 281.1L466.7 278.7L464.2 276.5L461.7 274.5L459.2 272.6L456.6 270.8L454.1 269.2L451.6 267.7L449.1 266.5L446.6 265.3L444 264.4L441.5 263.6L439 262.9L436.5 262.4M513.6 330.4L511.1 327.5L508.5 324.5L506 321.4L503.5 318.3L501 315.2L498.5 312L495.9 308.8L493.4 305.7L490.9 302.5L488.4 299.4L485.9 296.3L483.3 293.3L480.8 290.4L478.3 287.6L475.8 284.8L473.3 282.2L470.7 279.7L468.2 277.3L465.7 275.1L463.2 273L460.7 271.1L458.1 269.3L455.6 267.7L453.1 266.3L450.6 265L448.1 263.8L445.5 262.9L443 262.1L440.5 261.4L438 260.9M515.1 329.5L512.6 326.5L510 323.5L507.5 320.4L505 317.3L502.5 314.1L500 310.9L497.4 307.7L494.9 304.5L492.4 301.3L489.9 298.2L487.4 295.1L484.8 292.1L482.3 289.1L479.8 286.2L477.3 283.5L474.8 280.8L472.2 278.3L469.7 275.9L467.2 273.7L464.7 271.6L462.2 269.6L459.6 267.9L457.1 266.2L454.6 264.8L452.1 263.5L449.6 262.4L447 261.4L444.5 260.6L442 259.9L439.5 259.4M516.6 328.6L514.1 325.6L511.5 322.5L509 319.4L506.5 316.2L504 313L501.5 309.8L498.9 306.6L496.4 303.3L493.9 300.1L491.4 297L488.9 293.8L486.3 290.8L483.8 287.8L481.3 284.9L478.8 282.1L476.3 279.5L473.7 276.9L471.2 274.5L468.7 272.2L466.2 270.1L463.7 268.2L461.1 266.4L458.6 264.8L456.1 263.3L453.6 262L451.1 260.9L448.5 259.9L446 259.1L443.5 258.4L441 257.9M518.1 327.6L515.5 324.6L513 321.5L510.5 318.4L508 315.2L505.5 312L502.9 308.7L500.4 305.4L497.9 302.2L495.4 298.9L492.9 295.7L490.3 292.6L487.8 289.5L485.3 286.5L482.8 283.6L480.3 280.8L477.7 278.1L475.2 275.5L472.7 273.1L470.2 270.8L467.7 268.7L465.1 266.7L462.6 264.9L460.1 263.3L457.6 261.8L455.1 260.5L452.5 259.4L450 258.4L447.5 257.6L445 257L442.5 256.5M519.6 326.7L517 323.7L514.5 320.6L512 317.4L509.5 314.2L507 310.9L504.4 307.6L501.9 304.3L499.4 301L496.9 297.8L494.4 294.5L491.8 291.3L489.3 288.2L486.8 285.2L484.3 282.3L481.8 279.4L479.2 276.7L476.7 274.1L474.2 271.7L471.7 269.4L469.2 267.2L466.6 265.3L464.1 263.4L461.6 261.8L459.1 260.3L456.6 259L454 257.9L451.5 256.9L449 256.1L446.5 255.5L444 255" fill="none" stroke="#000" stroke-opacity="0.55" stroke-width="0.5" stroke-linejoin="round"/>
<path d="M400 400.9L519.6 326.7M398.3 400.3L517.9 324.7M396.6 399.7L516.2 322.6M395 399.1L514.5 320.6M393.3 398.5L512.8 318.4M391.6 397.9L511.2 316.3M389.9 397.3L509.5 314.2M388.2 396.7L507.8 312M386.6 396.1L506.1 309.8M384.9 395.5L504.4 307.6M383.2 394.9L502.8 305.4M381.5 394.3L501.1 303.2M379.8 393.7L499.4 301M378.2 393L497.7 298.8M376.5 392.4L496 296.7M374.8 391.8L494.4 294.5M373.1 391.2L492.7 292.4M371.4 390.6L491 290.3M369.8 390L489.3 288.2M368.1 389.4L487.6 286.2M366.4 388.8L486 284.2M364.7 388.2L484.3 282.3M363 387.6L482.6 280.4M361.4 387L480.9 278.5M359.7 386.4L479.2 276.7M358 385.8L477.6 275M356.3 385.2L475.9 273.3M354.6 384.6L474.2 271.7M353 384L472.5 270.1M351.3 383.4L470.8 268.7M349.6 382.8L469.2 267.2M347.9 382.2L467.5 265.9M346.2 381.6L465.8 264.6M344.6 381L464.1 263.4M342.9 380.4L462.4 262.3M341.2 379.8L460.8 261.3M339.5 379.2L459.1 260.3M337.8 378.6L457.4 259.4M336.2 377.9L455.7 258.6M334.5 377.3L454 257.9M332.8 376.7L452.4 257.2M331.1 376.1L450.7 256.6M329.4 375.5L449 256.1M327.8 374.9L447.3 255.7M326.1 374.3L445.6 255.3M324.4 373.7L444 255" fill="none" stroke="#000" stroke-opacity="0.12" stroke-width="0.3"/></g>
<path d="M316 265.2L316 375.7L400 405.9L522 385.5M316 375.2L313.6 374.3M316 359.5L313.6 358.6M316 343.8L313.6 342.9M316 328.1L313.6 327.2M316 312.4L313.6 311.5M316 296.7L313.6 295.8M316 281L313.6 280.1M316 265.3L313.6 264.5M400 405.9L397.4 406.3M358 390.8L355.4 391.2M316 375.7L313.4 376.1M400 405.9L402.4 406.8M430.5 400.8L432.9 401.7M461 395.7L463.4 396.6M491.5 390.6L493.9 391.5M522 385.5L524.4 386.4" fill="none" stroke="#8a8a8a" stroke-width=".6"/>
<g class="tk"><text transform="translate(311 376.2) scale(.82 1)" text-anchor="end">-8</text><text transform="translate(311 360.5) scale(.82 1)" text-anchor="end">-6</text><text transform="translate(311 344.8) scale(.82 1)" text-anchor="end">-4</text><text transform="translate(311 329.1) scale(.82 1)" text-anchor="end">-2</text><text transform="translate(311 313.4) scale(.82 1)" text-anchor="end">0</text><text transform="translate(311 297.7) scale(.82 1)" text-anchor="end">2</text><text transform="translate(311 282) scale(.82 1)" text-anchor="end">4</text><text transform="translate(311 266.3) scale(.82 1)" text-anchor="end">6</text><text transform="translate(394.4 414.3) scale(.82 1)" text-anchor="end">0</text><text transform="translate(352.4 399.2) scale(.82 1)" text-anchor="end">50</text><text transform="translate(310.4 384.1) scale(.82 1)" text-anchor="end">100</text><text transform="translate(404.8 414.3) scale(.82 1)">0</text><text transform="translate(435.3 409.2) scale(.82 1)">20</text><text transform="translate(465.8 404.1) scale(.82 1)">40</text><text transform="translate(496.3 399) scale(.82 1)">60</text><text transform="translate(526.8 393.9) scale(.82 1)">80</text></g>
<text class="lb" text-anchor="middle" textLength="40" lengthAdjust="spacing" transform="translate(298.8 321.4) rotate(-90)"><tspan class="it">V</tspan><tspan class="it" dy="2" font-size="7">zg</tspan><tspan dy="-2">[</tspan><tspan class="it">m</tspan>/<tspan class="it">s</tspan><tspan dy="-3.4" font-size="7">2</tspan><tspan dy="3.4">]</tspan></text>
<circle cx="290.6" cy="338" r=".6" fill="#555"/>
<text class="lb" x="339.5" y="417" textLength="17.8" lengthAdjust="spacing"><tspan class="it">δ</tspan><tspan class="it" dy="1.8" font-size="7">N</tspan><tspan dy="-1.8">[</tspan><tspan dy="-2.6" font-size="7">°</tspan><tspan dy="2.6">]</tspan></text>
<text class="lb" x="447.8" y="419" textLength="18.6" lengthAdjust="spacing"><tspan class="it">T</tspan>[<tspan class="it">N</tspan>]</text>
<text class="ti" x="339" y="243" textLength="151.2" lengthAdjust="spacing" xml:space="preserve"><tspan class="it">θ</tspan> = 3°  Sink rate control efficiency</text>
<text class="cp" text-anchor="middle" x="414" y="445.5">(<tspan font-weight="bold">d</tspan>)</text>
</svg>
</body></html>
